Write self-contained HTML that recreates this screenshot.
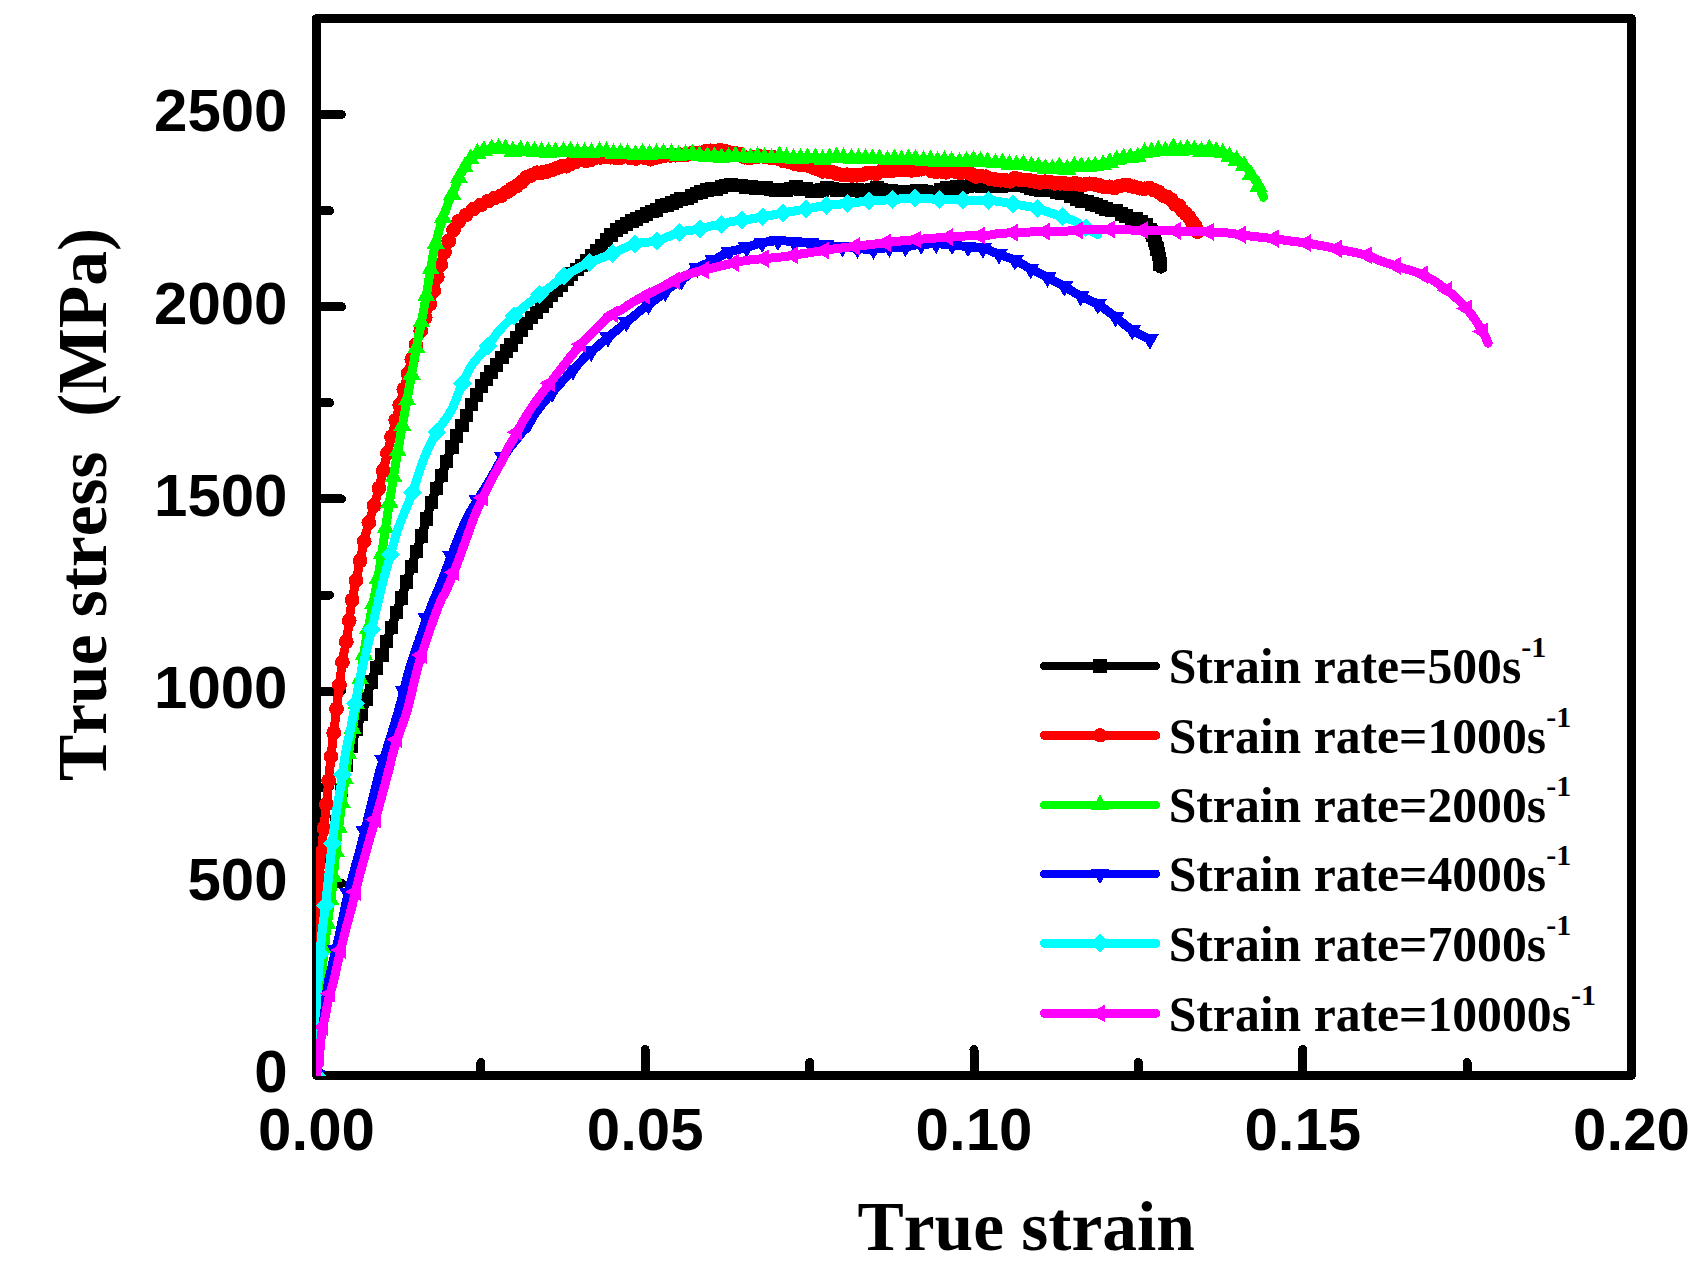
<!DOCTYPE html>
<html lang="en"><head><meta charset="utf-8"><title>True stress - true strain curves</title>
<style>html,body{margin:0;padding:0;background:#fff}body{width:1703px;height:1276px}svg{display:block}text{font-kerning:none;white-space:pre}.tk{font-family:"Liberation Sans",sans-serif;font-weight:700;font-size:60px;fill:#000}.ax{font-family:"Liberation Serif",serif;font-weight:700;font-size:69.4px;fill:#000}.lg{font-family:"Liberation Serif",serif;font-weight:700;font-size:49.7px;fill:#000}.sup{font-size:30px}</style></head><body>
<svg width="1703" height="1276" viewBox="0 0 1703 1276">
<rect width="1703" height="1276" fill="#fff"/>
<defs><clipPath id="plot"><rect x="316" y="18.5" width="1315.5" height="1057.5"/></clipPath></defs>
<g stroke="#000" stroke-width="9" fill="none" stroke-linecap="round" stroke-linejoin="round" shape-rendering="crispEdges">
<rect x="316.5" y="18.5" width="1315" height="1057"/>
<path d="M316.5 1075.5H341.5M316.5 883.3H341.5M316.5 691.1H341.5M316.5 498.9H341.5M316.5 306.7H341.5M316.5 114.5H341.5M316.5 979.4H329.5M316.5 787.2H329.5M316.5 595H329.5M316.5 402.8H329.5M316.5 210.6H329.5M645.2 1075.5V1049.5M974 1075.5V1049.5M1302.8 1075.5V1049.5M480.9 1075.5V1062.5M809.6 1075.5V1062.5M1138.4 1075.5V1062.5M1467.1 1075.5V1062.5"/>
</g>
<g class="tk" text-anchor="end">
<text x="287.5" y="1092.4">0</text>
<text x="287.5" y="900.2">500</text>
<text x="287.5" y="708">1000</text>
<text x="287.5" y="515.8">1500</text>
<text x="287.5" y="323.6">2000</text>
<text x="287.5" y="131.4">2500</text>
</g>
<g class="tk" text-anchor="middle">
<text x="316.5" y="1150.3">0.00</text>
<text x="645.2" y="1150.3">0.05</text>
<text x="974" y="1150.3">0.10</text>
<text x="1302.8" y="1150.3">0.15</text>
<text x="1631.5" y="1150.3">0.20</text>
</g>
<text class="ax" x="857.5" y="1250.2" xml:space="preserve">True strain</text>
<text class="ax" transform="translate(106 781) rotate(-90)" xml:space="preserve">True stress  (MPa)</text>
<g clip-path="url(#plot)" shape-rendering="crispEdges">
<polyline points="316.5,1075.5 316.5,1074.5 316.6,1073.5 316.6,1072.5 316.7,1071.5 316.7,1070.5 316.8,1069.5 316.8,1068.5 316.9,1067.5 316.9,1066.5 317,1065.5 317,1064.5 317.1,1063.5 317.1,1062.5 317.2,1061.5 317.2,1060.5 317.3,1059.5 317.3,1058.5 317.4,1057.5 317.4,1056.5 317.5,1055.5 317.5,1054.5 317.6,1053.5 317.6,1052.5 317.7,1051.5 317.7,1050.5 317.8,1049.5 317.8,1048.5 317.9,1047.5 317.9,1046.5 318,1045.5 318,1044.5 318.1,1043.5 318.1,1042.5 318.2,1041.5 318.2,1040.5 318.3,1039.5 318.4,1038.5 318.4,1037.5 318.5,1036.5 318.5,1035.5 318.6,1034.5 318.6,1033.5 318.7,1032.5 318.7,1031.5 318.8,1030.5 318.8,1029.5 318.9,1028.5 318.9,1027.5 319,1026.5 319.1,1025.6 319.1,1024.6 319.2,1023.6 319.2,1022.6 319.3,1021.6 319.3,1020.6 319.4,1019.6 319.4,1018.6 319.5,1017.6 319.6,1016.6 319.6,1015.6 319.7,1014.6 319.7,1013.6 319.8,1012.6 319.8,1011.6 319.9,1010.6 319.9,1009.6 320,1008.6 320.1,1007.6 320.1,1006.6 320.2,1005.6 320.2,1004.6 320.3,1003.6 320.4,1002.6 320.4,1001.6 320.5,1000.6 320.5,999.6 320.6,998.6 320.6,997.6 320.7,996.6 320.8,995.6 320.8,994.6 320.9,993.6 320.9,992.6 321,991.6 321,990.6 321.1,989.6 321.2,988.6 321.2,987.6 321.3,986.6 321.3,985.6 321.4,984.6 321.5,983.6 321.5,982.6 321.6,981.6 321.6,980.6 321.7,979.6 321.7,978.6 321.8,977.6 321.9,976.6 321.9,975.6 322,974.6 322,973.6 322.1,972.6 322.2,971.6 322.2,970.6 322.3,969.6 322.3,968.6 322.4,967.6 322.5,966.6 322.5,965.6 322.6,964.6 322.7,963.6 322.7,962.6 322.8,961.6 322.8,960.6 322.9,959.6 323,958.6 323,957.6 323.1,956.6 323.2,955.7 323.2,954.7 323.3,953.7 323.4,952.7 323.4,951.7 323.5,950.7 323.6,949.7 323.6,948.7 323.7,947.7 323.8,946.7 323.8,945.7 323.9,944.7 324,943.7 324.1,942.7 324.1,941.7 324.2,940.7 324.3,939.7 324.3,938.7 324.4,937.7 324.5,936.7 324.6,935.7 324.6,934.7 324.7,933.7 324.8,932.7 324.9,931.7 324.9,930.7 325,929.7 325.1,928.7 325.2,927.7 325.3,926.7 325.4,925.7 325.4,924.7 325.5,923.7 325.6,922.7 325.7,921.7 325.8,920.7 325.9,919.7 326,918.7 326.1,917.8 326.2,916.8 326.3,915.8 326.4,914.8 326.4,913.8 326.5,912.8 326.6,911.8 326.7,910.8 326.8,909.8 326.9,908.8 327,907.8 327.1,906.8 327.2,905.8 327.3,904.8 327.5,903.8 327.6,902.8 327.7,901.8 327.8,900.8 327.9,899.8 328,898.8 328.1,897.8 328.2,896.9 328.3,895.9 328.4,894.9 328.5,893.9 328.6,892.9 328.7,891.9 328.8,890.9 328.9,889.9 329,888.9 329.1,887.9 329.2,886.9 329.3,885.9 329.4,884.9 329.5,883.9 329.6,882.9 329.7,881.9 329.8,880.9 329.9,879.9 330,878.9 330.1,877.9 330.2,876.9 330.3,876 330.4,875 330.5,874 330.6,873 330.7,872 330.8,871 330.9,870 331,869 331.1,868 331.2,867 331.3,866 331.4,865 331.5,864 331.6,863 331.7,862 331.8,861 331.9,860 332,859 332.1,858 332.2,857 332.3,856.1 332.4,855.1 332.6,854.1 332.7,853.1 332.8,852.1 332.9,851.1 333,850.1 333.1,849.1 333.2,848.1 333.3,847.1 333.4,846.1 333.6,845.1 333.7,844.1 333.8,843.1 333.9,842.1 334,841.1 334.1,840.1 334.2,839.2 334.4,838.2 334.5,837.2 334.6,836.2 334.7,835.2 334.8,834.2 334.9,833.2 335.1,832.2 335.2,831.2 335.3,830.2 335.4,829.2 335.5,828.2 335.7,827.2 335.8,826.2 335.9,825.2 336,824.3 336.2,823.3 336.3,822.3 336.4,821.3 336.6,820.3 336.7,819.3 336.8,818.3 337,817.3 337.1,816.3 337.2,815.3 337.4,814.3 337.5,813.4 337.7,812.4 337.8,811.4 337.9,810.4 338.1,809.4 338.2,808.4 338.4,807.4 338.5,806.4 338.7,805.4 338.8,804.4 339,803.5 339.2,802.5 339.3,801.5 339.5,800.5 339.7,799.5 339.8,798.5 340,797.5 340.2,796.6 340.3,795.6 340.5,794.6 340.7,793.6 340.9,792.6 341.1,791.6 341.2,790.6 341.4,789.7 341.6,788.7 341.8,787.7 342,786.7 342.2,785.7 342.3,784.8 342.5,783.8 342.7,782.8 342.9,781.8 343.1,780.8 343.3,779.8 343.5,778.9 343.7,777.9 343.9,776.9 344.1,775.9 344.3,774.9 344.5,774 344.7,773 344.9,772 345.1,771 345.3,770 345.6,769.1 345.8,768.1 346,767.1 346.2,766.1 346.4,765.2 346.6,764.2 346.9,763.2 347.1,762.2 347.3,761.3 347.6,760.3 347.8,759.3 348,758.4 348.3,757.4 348.5,756.4 348.8,755.4 349,754.5 349.3,753.5 349.5,752.5 349.8,751.6 350,750.6 350.3,749.6 350.6,748.7 350.9,747.7 351.1,746.8 351.4,745.8 351.7,744.8 352,743.9 352.3,742.9 352.6,742 352.9,741 353.2,740.1 353.5,739.1 353.8,738.2 354.1,737.2 354.4,736.3 354.7,735.3 355.1,734.4 355.4,733.4 355.7,732.5 356,731.5 356.3,730.6 356.6,729.6 356.9,728.6 357.2,727.7 357.5,726.7 357.8,725.8 358.1,724.8 358.4,723.9 358.7,722.9 359,722 359.4,721 359.7,720.1 360,719.1 360.3,718.2 360.6,717.2 360.9,716.3 361.3,715.3 361.6,714.4 361.9,713.4 362.2,712.5 362.5,711.5 362.8,710.6 363.1,709.6 363.4,708.7 363.8,707.7 364.1,706.8 364.4,705.8 364.7,704.9 365,703.9 365.3,703 365.5,702 365.8,701.1 366.1,700.1 366.4,699.1 366.7,698.2 367,697.2 367.2,696.2 367.5,695.3 367.8,694.3 368,693.4 368.3,692.4 368.6,691.4 368.9,690.5 369.1,689.5 369.4,688.5 369.7,687.6 369.9,686.6 370.2,685.7 370.5,684.7 370.8,683.7 371.1,682.8 371.4,681.8 371.7,680.9 372,679.9 372.3,679 372.6,678 372.9,677.1 373.2,676.1 373.5,675.2 373.9,674.2 374.2,673.3 374.5,672.3 374.9,671.4 375.3,670.5 375.6,669.5 376,668.6 376.4,667.7 376.7,666.8 377.1,665.8 377.5,664.9 377.9,664 378.3,663.1 378.6,662.1 379,661.2 379.4,660.3 379.8,659.4 380.2,658.4 380.5,657.5 380.9,656.6 381.3,655.7 381.7,654.7 382,653.8 382.4,652.9 382.8,651.9 383.1,651 383.5,650.1 383.8,649.1 384.1,648.2 384.5,647.2 384.8,646.3 385.2,645.4 385.5,644.4 385.8,643.5 386.2,642.5 386.5,641.6 386.8,640.6 387.2,639.7 387.5,638.8 387.8,637.8 388.2,636.9 388.5,635.9 388.8,635 389.1,634 389.5,633.1 389.8,632.1 390.1,631.2 390.4,630.2 390.8,629.3 391.1,628.4 391.4,627.4 391.7,626.5 392.1,625.5 392.4,624.6 392.7,623.6 393,622.7 393.4,621.7 393.7,620.8 394,619.8 394.3,618.9 394.7,617.9 395,617 395.3,616 395.6,615.1 396,614.2 396.3,613.2 396.6,612.3 396.9,611.3 397.2,610.4 397.6,609.4 397.9,608.5 398.2,607.5 398.5,606.6 398.8,605.6 399.1,604.7 399.5,603.7 399.8,602.8 400.1,601.8 400.4,600.9 400.7,599.9 401,599 401.3,598 401.7,597.1 402,596.1 402.3,595.2 402.6,594.2 402.9,593.3 403.2,592.3 403.5,591.4 403.8,590.4 404.1,589.5 404.5,588.5 404.8,587.6 405.1,586.6 405.4,585.7 405.7,584.7 406,583.8 406.3,582.8 406.6,581.8 406.9,580.9 407.2,579.9 407.5,579 407.8,578 408.1,577.1 408.4,576.1 408.7,575.2 409,574.2 409.3,573.3 409.6,572.3 409.9,571.4 410.2,570.4 410.5,569.4 410.8,568.5 411.1,567.5 411.4,566.6 411.7,565.6 412,564.7 412.3,563.7 412.6,562.8 412.9,561.8 413.2,560.9 413.5,559.9 413.9,559 414.2,558 414.5,557.1 414.8,556.1 415.1,555.2 415.4,554.2 415.7,553.3 416.1,552.3 416.4,551.4 416.7,550.4 417,549.5 417.3,548.5 417.6,547.6 418,546.6 418.3,545.7 418.6,544.7 418.9,543.8 419.2,542.8 419.5,541.9 419.9,540.9 420.2,540 420.5,539 420.8,538.1 421.1,537.1 421.4,536.2 421.7,535.2 422,534.3 422.3,533.3 422.6,532.4 422.9,531.4 423.2,530.5 423.5,529.5 423.8,528.5 424.1,527.6 424.4,526.6 424.7,525.7 424.9,524.7 425.2,523.7 425.5,522.8 425.8,521.8 426.1,520.9 426.3,519.9 426.6,518.9 426.9,518 427.2,517 427.4,516.1 427.7,515.1 428,514.1 428.3,513.2 428.5,512.2 428.8,511.3 429.1,510.3 429.4,509.3 429.6,508.4 429.9,507.4 430.2,506.5 430.5,505.5 430.8,504.5 431.1,503.6 431.4,502.6 431.7,501.7 432,500.7 432.3,499.8 432.6,498.8 432.9,497.9 433.3,496.9 433.6,496 433.9,495 434.3,494.1 434.6,493.2 435,492.2 435.3,491.3 435.7,490.3 436,489.4 436.4,488.5 436.7,487.5 437.1,486.6 437.5,485.7 437.8,484.8 438.2,483.8 438.6,482.9 438.9,482 439.3,481 439.7,480.1 440.1,479.2 440.4,478.2 440.8,477.3 441.2,476.4 441.5,475.4 441.9,474.5 442.2,473.6 442.6,472.6 442.9,471.7 443.3,470.8 443.6,469.8 444,468.9 444.3,467.9 444.6,467 445,466.1 445.3,465.1 445.6,464.2 446,463.2 446.3,462.3 446.6,461.3 446.9,460.4 447.3,459.4 447.6,458.5 447.9,457.6 448.2,456.6 448.6,455.7 448.9,454.7 449.2,453.8 449.6,452.8 449.9,451.9 450.3,451 450.6,450 451,449.1 451.3,448.1 451.7,447.2 452,446.3 452.4,445.4 452.8,444.4 453.2,443.5 453.6,442.6 453.9,441.7 454.3,440.7 454.8,439.8 455.2,438.9 455.6,438 456,437.1 456.4,436.2 456.9,435.3 457.3,434.4 457.7,433.5 458.2,432.6 458.6,431.7 459,430.8 459.5,429.9 459.9,429 460.4,428.1 460.8,427.2 461.2,426.3 461.7,425.4 462.1,424.5 462.5,423.6 463,422.7 463.4,421.8 463.8,420.9 464.2,420 464.6,419.1 465.1,418.2 465.5,417.2 465.9,416.3 466.3,415.4 466.7,414.5 467.2,413.6 467.6,412.7 468,411.8 468.4,410.9 468.8,410 469.3,409.1 469.7,408.2 470.1,407.3 470.6,406.4 471,405.5 471.4,404.6 471.9,403.7 472.3,402.8 472.8,401.9 473.3,401 473.7,400.1 474.2,399.2 474.7,398.3 475.1,397.5 475.6,396.6 476.1,395.7 476.5,394.8 477,393.9 477.5,393.1 478,392.2 478.5,391.3 479,390.5 479.5,389.6 480,388.7 480.5,387.9 481,387 481.5,386.2 482.1,385.3 482.6,384.5 483.1,383.6 483.7,382.8 484.2,381.9 484.8,381.1 485.3,380.3 485.9,379.5 486.5,378.7 487.1,377.8 487.7,377 488.3,376.2 488.9,375.4 489.5,374.6 490.1,373.8 490.7,373 491.2,372.2 491.8,371.4 492.4,370.6 493,369.8 493.6,369 494.2,368.2 494.8,367.3 495.3,366.5 495.9,365.7 496.5,364.9 497.1,364.1 497.7,363.3 498.3,362.5 498.9,361.7 499.4,360.8 500,360 500.6,359.2 501.2,358.4 501.8,357.6 502.4,356.8 503,356 503.6,355.2 504.1,354.4 504.7,353.6 505.3,352.8 505.9,352 506.6,351.2 507.2,350.4 507.8,349.6 508.4,348.8 509,348 509.6,347.2 510.2,346.4 510.8,345.6 511.3,344.8 511.9,344 512.5,343.1 513.1,342.3 513.7,341.5 514.2,340.7 514.8,339.8 515.3,339 515.9,338.2 516.4,337.3 516.9,336.5 517.5,335.6 518,334.8 518.6,334 519.1,333.1 519.6,332.3 520.2,331.4 520.8,330.6 521.3,329.8 521.9,329 522.5,328.2 523.1,327.4 523.7,326.6 524.3,325.8 525,325 525.6,324.2 526.2,323.5 526.9,322.7 527.6,322 528.2,321.2 528.9,320.5 529.5,319.7 530.2,319 530.9,318.2 531.6,317.5 532.2,316.7 532.9,316 533.6,315.3 534.2,314.5 534.9,313.8 535.6,313.1 536.3,312.4 537,311.6 537.7,310.9 538.4,310.2 539.1,309.5 539.8,308.7 540.5,308 541.1,307.3 541.8,306.5 542.5,305.8 543.1,305 543.8,304.3 544.4,303.5 545,302.7 545.7,301.9 546.3,301.2 546.9,300.4 547.5,299.6 548.2,298.8 548.8,298 549.4,297.2 550,296.5 550.7,295.7 551.3,295 552,294.2 552.7,293.5 553.4,292.8 554.1,292 554.8,291.3 555.5,290.6 556.2,289.9 556.9,289.2 557.7,288.5 558.4,287.9 559.1,287.2 559.8,286.5 560.5,285.8 561.2,285.1 562,284.4 562.6,283.6 563.3,282.9 564,282.2 564.7,281.4 565.3,280.7 566,279.9 566.7,279.2 567.3,278.4 568,277.7 568.7,276.9 569.3,276.2 570,275.5 570.7,274.8 571.4,274 572.2,273.4 572.9,272.7 573.6,272 574.4,271.4 575.2,270.7 575.9,270.1 576.7,269.4 577.5,268.8 578.3,268.2 579,267.6 579.8,266.9 580.6,266.3 581.3,265.6 582.1,264.9 582.8,264.3 583.5,263.6 584.2,262.9 584.9,262.1 585.6,261.4 586.3,260.7 587,260 587.7,259.3 588.4,258.6 589.1,257.9 589.8,257.2 590.6,256.5 591.3,255.8 592,255.1 592.8,254.4 593.5,253.7 594.2,253.1 595,252.4 595.7,251.7 596.4,251 597.2,250.3 597.9,249.6 598.6,248.9 599.3,248.2 600,247.5 600.6,246.7 601.3,246 601.9,245.2 602.6,244.5 603.3,243.7 604,243 604.6,242.3 605.3,241.5 605.9,240.8 606.6,240 607.2,239.2 607.9,238.5 608.6,237.7 609.2,237 609.9,236.2 610.5,235.5 611.2,234.7 611.9,234 612.6,233.3 613.3,232.6 614.1,231.9 614.8,231.3 615.6,230.7 616.4,230 617.2,229.4 618,228.9 618.8,228.3 619.7,227.8 620.5,227.2 621.4,226.7 622.2,226.2 623.1,225.7 624,225.2 624.8,224.7 625.7,224.2 626.6,223.7 627.5,223.3 628.4,222.8 629.3,222.4 630.2,221.9 631,221.4 631.9,221 632.8,220.5 633.7,220.1 634.6,219.7 635.5,219.2 636.4,218.8 637.4,218.4 638.3,218 639.2,217.6 640.1,217.2 641,216.8 641.9,216.4 642.9,216.1 643.8,215.7 644.7,215.3 645.6,215 646.5,214.6 647.4,214.1 648.3,213.7 649.3,213.2 650.2,212.8 651,212.3 651.9,211.8 652.8,211.3 653.7,210.9 654.6,210.4 655.4,210 656.3,209.6 657.1,209.2 658,208.8 658.9,208.3 659.7,207.8 660.6,207.3 661.5,206.8 662.4,206.4 663.3,206 664.2,205.7 665.1,205.5 666,205.3 666.9,205.2 667.9,205 668.8,204.7 669.8,204.4 670.7,204 671.7,203.5 672.6,202.9 673.6,202.3 674.5,201.6 675.5,201.1 676.4,200.6 677.4,200.2 678.4,200 679.3,199.8 680.3,199.7 681.2,199.6 682.2,199.4 683.1,199.3 684.1,199.1 685,198.9 686,198.6 686.9,198.3 687.9,198 688.8,197.6 689.7,197.2 690.7,196.8 691.6,196.4 692.6,195.8 693.5,195.2 694.4,194.5 695.4,193.9 696.3,193.3 697.3,192.9 698.2,192.6 699.2,192.4 700.1,192.3 701.1,192.2 702,192.1 703,191.9 704,191.7 704.9,191.4 705.9,191 706.8,190.6 707.8,190.3 708.7,190 709.7,189.7 710.7,189.5 711.6,189.3 712.6,189 713.6,188.8 714.5,188.6 715.5,188.4 716.5,188.3 717.5,188.2 718.4,188.1 719.4,187.9 720.4,187.6 721.3,187.4 722.3,187.1 723.3,186.8 724.2,186.6 725.2,186.4 726.2,186.2 727.2,186 728.2,185.9 729.2,185.6 730.2,185.3 731.2,184.9 732.2,184.6 733.2,184.4 734.2,184.2 735.2,184.1 736.2,184.2 737.2,184.4 738.2,184.7 739.2,185 740.1,185.4 741.1,185.7 742.1,186 743.1,186.2 744.1,186.4 745.1,186.6 746.1,186.8 747.1,186.9 748.1,187 749.1,187 750.1,187 751.1,186.9 752.1,186.9 753.1,186.9 754.1,186.9 755.1,186.9 756.1,187 757.1,187.1 758.1,187.2 759.1,187.4 760.1,187.5 761.1,187.6 762.1,187.7 763.1,187.7 764.1,187.7 765.1,187.7 766,187.8 767,187.9 768,188.2 769,188.5 770,188.8 771,189.2 772,189.5 773,189.8 774,189.9 775,190 776,190 777,190 778,189.9 779,189.9 780,189.9 781,189.9 782,190 783,190.1 784,190.1 785,190.1 786,190 787,189.9 788,189.7 789,189.5 790,189.3 791,189 792,188.8 793,188.6 794,188.5 795,188.4 796,188.4 797,188.4 798,188.5 799,188.6 800,188.6 801,188.6 802,188.5 803,188.4 804,188.4 805,188.3 806,188.4 807,188.6 808,188.9 809,189.3 810,189.7 811,190 812,190.3 813,190.6 814,190.7 815,190.8 816,190.8 817,190.9 818,190.8 819,190.8 820,190.7 821,190.4 822,190.1 823,189.7 824,189.2 825,188.8 826,188.4 827,188.2 828,188.1 829,188.2 829.9,188.3 830.9,188.6 831.9,189 832.9,189.4 833.9,189.8 834.9,190.2 835.9,190.4 836.9,190.6 837.9,190.7 838.9,190.7 839.9,190.7 840.9,190.6 841.9,190.4 842.9,190.3 843.9,190.2 844.8,190.2 845.8,190.3 846.8,190.4 847.8,190.5 848.8,190.5 849.8,190.6 850.8,190.6 851.8,190.5 852.8,190.4 853.8,190.3 854.8,190.1 855.8,190 856.8,189.9 857.8,189.9 858.8,190 859.8,190.1 860.8,190.3 861.8,190.4 862.7,190.6 863.7,190.7 864.7,190.7 865.7,190.6 866.7,190.5 867.7,190.3 868.7,190 869.7,189.7 870.7,189.3 871.7,188.9 872.7,188.6 873.7,188.3 874.7,188.1 875.7,188 876.7,188 877.7,188.2 878.7,188.4 879.6,188.8 880.6,189.1 881.6,189.5 882.6,189.9 883.6,190.1 884.6,190.3 885.6,190.5 886.6,190.6 887.6,190.6 888.5,190.5 889.5,190.5 890.5,190.4 891.5,190.4 892.5,190.3 893.5,190.4 894.5,190.4 895.5,190.5 896.5,190.7 897.5,190.8 898.5,190.9 899.5,191 900.5,191 901.5,191 902.5,190.9 903.5,190.9 904.5,190.9 905.5,191.1 906.5,191.3 907.5,191.5 908.5,191.8 909.5,192 910.5,192 911.5,191.9 912.5,191.7 913.5,191.5 914.5,191.2 915.5,190.9 916.5,190.7 917.5,190.6 918.5,190.5 919.5,190.6 920.5,190.7 921.5,190.9 922.5,191.1 923.5,191.3 924.5,191.5 925.5,191.7 926.5,191.9 927.5,192.1 928.5,192.4 929.5,192.7 930.5,192.9 931.5,193.1 932.5,193.2 933.5,193.1 934.5,193 935.5,192.8 936.4,192.5 937.4,192.2 938.3,191.9 939.3,191.5 940.2,191.1 941.1,190.7 942.1,190.2 943,189.6 943.9,189.1 944.9,188.6 945.8,188.3 946.8,188 947.7,187.8 948.7,187.7 949.7,187.8 950.7,188 951.7,188.1 952.7,188 953.7,187.9 954.7,187.6 955.7,187.3 956.7,186.9 957.7,186.7 958.7,186.4 959.7,186.3 960.7,186.1 961.7,186.1 962.7,186.1 963.7,186.1 964.7,186.1 965.7,186.1 966.7,186 967.7,186 968.7,185.8 969.7,185.7 970.7,185.6 971.7,185.5 972.7,185.4 973.7,185.4 974.7,185.4 975.7,185.4 976.7,185.3 977.6,185.3 978.6,185.3 979.6,185.3 980.6,185.3 981.6,185.4 982.6,185.5 983.6,185.6 984.6,185.7 985.6,185.8 986.6,185.9 987.6,186 988.6,185.9 989.6,185.9 990.6,185.8 991.6,185.7 992.6,185.7 993.6,185.6 994.6,185.6 995.6,185.5 996.6,185.5 997.6,185.5 998.6,185.5 999.6,185.5 1000.6,185.5 1001.6,185.6 1002.6,185.7 1003.6,185.8 1004.6,185.9 1005.6,186 1006.6,186 1007.6,185.9 1008.6,185.8 1009.6,185.6 1010.6,185.4 1011.6,185.1 1012.6,184.9 1013.6,184.7 1014.6,184.7 1015.6,184.7 1016.6,184.8 1017.6,184.9 1018.6,185.1 1019.6,185.2 1020.6,185.2 1021.6,185.3 1022.5,185.3 1023.5,185.3 1024.4,185.4 1025.3,185.7 1026.3,186 1027.2,186.4 1028.2,186.9 1029.1,187.4 1030.1,187.9 1031.1,188.3 1032.1,188.5 1033.1,188.6 1034,188.7 1035,188.8 1036,188.9 1037,189 1038,189.2 1039,189.5 1040,189.8 1041,190.2 1042,190.5 1043,190.8 1044,191 1045,191 1046,190.9 1047,190.7 1048,190.5 1048.9,190.5 1049.9,190.5 1050.9,190.7 1051.9,190.9 1052.9,191.2 1053.8,191.5 1054.8,191.8 1055.8,191.9 1056.8,192 1057.7,192.1 1058.7,192.2 1059.7,192.2 1060.6,192.3 1061.6,192.5 1062.5,192.7 1063.5,193 1064.5,193.3 1065.4,193.7 1066.4,194.1 1067.3,194.5 1068.3,194.9 1069.2,195.3 1070.2,195.8 1071.1,196.3 1072,196.7 1073,197.1 1073.9,197.6 1074.8,198 1075.8,198.5 1076.7,199 1077.6,199.5 1078.5,199.9 1079.5,200.3 1080.4,200.6 1081.3,200.9 1082.2,201.1 1083.2,201.3 1084.1,201.5 1085,201.8 1086,202.1 1086.9,202.4 1087.9,202.8 1088.8,203.2 1089.8,203.6 1090.8,204 1091.7,204.3 1092.7,204.6 1093.6,204.8 1094.6,205 1095.6,205.2 1096.5,205.4 1097.5,205.6 1098.5,205.9 1099.4,206.2 1100.4,206.6 1101.3,207 1102.3,207.4 1103.3,207.8 1104.2,208.2 1105.2,208.6 1106.1,209 1107.1,209.3 1108.1,209.5 1109,209.6 1110,209.6 1110.9,209.6 1111.9,209.7 1112.8,209.7 1113.8,209.9 1114.7,210.1 1115.7,210.5 1116.6,210.9 1117.5,211.3 1118.5,211.8 1119.4,212.3 1120.4,212.9 1121.3,213.3 1122.3,213.8 1123.2,214.2 1124.2,214.7 1125.1,215.1 1126.1,215.5 1127,215.9 1128,216.2 1128.9,216.6 1129.9,216.9 1130.9,217.2 1131.8,217.6 1132.8,217.9 1133.7,218.2 1134.7,218.6 1135.6,218.9 1136.5,219.2 1137.5,219.5 1138.4,219.9 1139.3,220.4 1140.2,220.8 1141.2,221.3 1142.1,221.8 1143,222.3 1143.9,222.9 1144.8,223.4 1145.6,224 1146.4,224.7 1147.1,225.4 1147.8,226.1 1148.4,226.9 1148.9,227.7 1149.4,228.4 1149.9,229 1150.3,229.7 1150.7,230.3 1151.2,230.9 1151.5,231.7 1151.9,232.5 1152.3,233.3 1152.7,234.2 1153.1,235.1 1153.4,236.2 1153.8,237.2 1154.1,238.3 1154.4,239.4 1154.7,240.4 1155,241.5 1155.3,242.5 1155.6,243.6 1155.8,244.7 1156.1,245.7 1156.4,246.8 1156.6,247.7 1156.9,248.5 1157.1,249.3 1157.4,250.1 1157.6,250.8 1157.8,251.5 1158.1,252.2 1158.3,253 1158.5,253.9 1158.7,254.8 1158.9,255.8 1159.1,256.9 1159.3,258 1159.4,259.1 1159.6,260.3 1159.8,261.4 1160,262.6 1160.1,263.7 1160.3,264.8 1160.5,265.9 1160.6,266.9" fill="none" stroke="#000000" stroke-width="9" stroke-linejoin="round" stroke-linecap="round"/>
<path d="M309.7 1068.7h13.6v13.6h-13.6zM314.7 975.8h13.6v13.6h-13.6zM319.7 906h13.6v13.6h-13.6zM324.7 857.2h13.6v13.6h-13.6zM329.6 814.5h13.6v13.6h-13.6zM334.6 782.9h13.6v13.6h-13.6zM339.6 758.4h13.6v13.6h-13.6zM344.6 739h13.6v13.6h-13.6zM349.8 722.8h13.6v13.6h-13.6zM354.8 707.6h13.6v13.6h-13.6zM359.6 692.3h13.6v13.6h-13.6zM364.6 675h13.6v13.6h-13.6zM369.6 660.9h13.6v13.6h-13.6zM374.9 647.9h13.6v13.6h-13.6zM379.7 634.8h13.6v13.6h-13.6zM384.6 620.6h13.6v13.6h-13.6zM389.8 605.5h13.6v13.6h-13.6zM394.5 591.2h13.6v13.6h-13.6zM399.8 575h13.6v13.6h-13.6zM404.6 559.8h13.6v13.6h-13.6zM409.6 544.6h13.6v13.6h-13.6zM414.6 529.4h13.6v13.6h-13.6zM419.8 512.1h13.6v13.6h-13.6zM424.6 495.8h13.6v13.6h-13.6zM429.6 481.7h13.6v13.6h-13.6zM434.7 468.6h13.6v13.6h-13.6zM439.8 454.5h13.6v13.6h-13.6zM444.9 440.4h13.6v13.6h-13.6zM449.6 429.4h13.6v13.6h-13.6zM454.9 418.6h13.6v13.6h-13.6zM459.5 408.6h13.6v13.6h-13.6zM464.6 397.8h13.6v13.6h-13.6zM469.7 388h13.6v13.6h-13.6zM474.7 379.4h13.6v13.6h-13.6zM479.7 371.9h13.6v13.6h-13.6zM484.4 365.4h13.6v13.6h-13.6zM489.7 358.1h13.6v13.6h-13.6zM495 350.8h13.6v13.6h-13.6zM499.8 344.4h13.6v13.6h-13.6zM504.5 338h13.6v13.6h-13.6zM509.6 330.5h13.6v13.6h-13.6zM514.5 323h13.6v13.6h-13.6zM519.4 316.7h13.6v13.6h-13.6zM524.8 310.7h13.6v13.6h-13.6zM529.5 305.6h13.6v13.6h-13.6zM535 299.7h13.6v13.6h-13.6zM539.5 294.4h13.6v13.6h-13.6zM544.5 288.2h13.6v13.6h-13.6zM549.4 283.1h13.6v13.6h-13.6zM554.4 278.3h13.6v13.6h-13.6zM559.9 272.4h13.6v13.6h-13.6zM564.6 267.2h13.6v13.6h-13.6zM569.9 262.6h13.6v13.6h-13.6zM574.5 258.8h13.6v13.6h-13.6zM579.5 253.9h13.6v13.6h-13.6zM584.5 249h13.6v13.6h-13.6zM589.6 244.2h13.6v13.6h-13.6zM594.5 239.2h13.6v13.6h-13.6zM599.8 233.2h13.6v13.6h-13.6zM604.4 227.9h13.6v13.6h-13.6zM609.6 223.2h13.6v13.6h-13.6zM614.6 219.9h13.6v13.6h-13.6zM619.8 216.9h13.6v13.6h-13.6zM625.1 214.2h13.6v13.6h-13.6zM629.6 212h13.6v13.6h-13.6zM635.1 209.7h13.6v13.6h-13.6zM639.7 207h13.6v13.6h-13.6zM645.1 204.7h13.6v13.6h-13.6zM649.5 202.9h13.6v13.6h-13.6zM654.7 199.4h13.6v13.6h-13.6zM660.1 198.1h13.6v13.6h-13.6zM664.9 196.2h13.6v13.6h-13.6zM669.6 194h13.6v13.6h-13.6zM674.4 192.4h13.6v13.6h-13.6zM680.1 191.6h13.6v13.6h-13.6zM684.8 189.2h13.6v13.6h-13.6zM689.5 186.8h13.6v13.6h-13.6zM694.3 185h13.6v13.6h-13.6zM700 183.3h13.6v13.6h-13.6zM704.8 182.3h13.6v13.6h-13.6zM709.7 182.5h13.6v13.6h-13.6zM714.5 180.4h13.6v13.6h-13.6zM719.4 178.7h13.6v13.6h-13.6zM724.4 177.6h13.6v13.6h-13.6zM729.4 178.7h13.6v13.6h-13.6zM734.3 178.8h13.6v13.6h-13.6zM739.3 180h13.6v13.6h-13.6zM744.3 180.3h13.6v13.6h-13.6zM749.3 181h13.6v13.6h-13.6zM754.3 181.2h13.6v13.6h-13.6zM759.2 181.3h13.6v13.6h-13.6zM764.2 182.5h13.6v13.6h-13.6zM769.2 183h13.6v13.6h-13.6zM774.2 183.2h13.6v13.6h-13.6zM779.2 183h13.6v13.6h-13.6zM784.2 181.5h13.6v13.6h-13.6zM789.2 180.3h13.6v13.6h-13.6zM794.2 182.4h13.6v13.6h-13.6zM799.2 182.1h13.6v13.6h-13.6zM805.2 183.9h13.6v13.6h-13.6zM810.2 184.3h13.6v13.6h-13.6zM815.2 183.4h13.6v13.6h-13.6zM820.2 180.9h13.6v13.6h-13.6zM825.1 181.6h13.6v13.6h-13.6zM830.1 183.4h13.6v13.6h-13.6zM835.1 183.3h13.6v13.6h-13.6zM840 183.2h13.6v13.6h-13.6zM845 183h13.6v13.6h-13.6zM850 183.4h13.6v13.6h-13.6zM855 183.9h13.6v13.6h-13.6zM859.9 184.5h13.6v13.6h-13.6zM864.9 183h13.6v13.6h-13.6zM869.9 180.9h13.6v13.6h-13.6zM874.8 183h13.6v13.6h-13.6zM879.8 183.7h13.6v13.6h-13.6zM884.7 183.7h13.6v13.6h-13.6zM889.7 184.9h13.6v13.6h-13.6zM894.7 185h13.6v13.6h-13.6zM899.7 184.7h13.6v13.6h-13.6zM904.7 185.7h13.6v13.6h-13.6zM909.7 184.3h13.6v13.6h-13.6zM914.7 184h13.6v13.6h-13.6zM919.7 185h13.6v13.6h-13.6zM924.7 185.9h13.6v13.6h-13.6zM929.6 186.4h13.6v13.6h-13.6zM934.3 183.4h13.6v13.6h-13.6zM940 181h13.6v13.6h-13.6zM944.9 181.2h13.6v13.6h-13.6zM949.9 179.7h13.6v13.6h-13.6zM954.9 180h13.6v13.6h-13.6zM959.9 179.5h13.6v13.6h-13.6zM964.9 177.6h13.6v13.6h-13.6zM969.9 178h13.6v13.6h-13.6zM974.8 179h13.6v13.6h-13.6zM979.8 178.9h13.6v13.6h-13.6zM984.8 179h13.6v13.6h-13.6zM989.8 178.8h13.6v13.6h-13.6zM994.8 178.9h13.6v13.6h-13.6zM999.8 178.8h13.6v13.6h-13.6zM1004.8 178.3h13.6v13.6h-13.6zM1009.8 178h13.6v13.6h-13.6zM1014.8 178h13.6v13.6h-13.6zM1019.5 179.4h13.6v13.6h-13.6zM1024.3 181.5h13.6v13.6h-13.6zM1029.2 182.2h13.6v13.6h-13.6zM1034.2 183.7h13.6v13.6h-13.6zM1040.2 183.8h13.6v13.6h-13.6zM1045.1 183.6h13.6v13.6h-13.6zM1050 185.7h13.6v13.6h-13.6zM1054.8 185.9h13.6v13.6h-13.6zM1059.6 186.7h13.6v13.6h-13.6zM1064.3 188.9h13.6v13.6h-13.6zM1069.9 192.4h13.6v13.6h-13.6zM1074.5 194.4h13.6v13.6h-13.6zM1080.1 194.8h13.6v13.6h-13.6zM1084.9 197.3h13.6v13.6h-13.6zM1089.7 198.3h13.6v13.6h-13.6zM1094.5 200.1h13.6v13.6h-13.6zM1099.3 202.4h13.6v13.6h-13.6zM1105.1 203.8h13.6v13.6h-13.6zM1109.8 203.7h13.6v13.6h-13.6zM1114.5 207.3h13.6v13.6h-13.6zM1119.3 209.2h13.6v13.6h-13.6zM1125 211.9h13.6v13.6h-13.6zM1129.7 212.4h13.6v13.6h-13.6zM1134.4 214.6h13.6v13.6h-13.6zM1139.6 218.4h13.6v13.6h-13.6zM1144.7 225.1h13.6v13.6h-13.6zM1149.6 240.9h13.6v13.6h-13.6zM1143.1 222.5h13.6v13.6h-13.6zM1145.9 228h13.6v13.6h-13.6zM1147.6 232.9h13.6v13.6h-13.6zM1148.8 236.5h13.6v13.6h-13.6zM1150.1 242.2h13.6v13.6h-13.6zM1151.7 246.9h13.6v13.6h-13.6zM1152.6 252.4h13.6v13.6h-13.6zM1153.3 256.9h13.6v13.6h-13.6zM1153.8 266.9a6.8 6.8 0 1 1 13.6 0a6.8 6.8 0 1 1 -13.6 0z" fill="#000000"/>
<polyline points="306,1075.5 306,1074.5 306,1073.5 306,1072.5 306,1071.5 306,1070.5 306,1069.5 306,1068.5 306,1067.5 306,1066.5 306,1065.5 306.1,1064.5 306.1,1063.5 306.1,1062.5 306.1,1061.5 306.1,1060.5 306.1,1059.5 306.1,1058.5 306.2,1057.5 306.2,1056.5 306.2,1055.5 306.2,1054.5 306.2,1053.5 306.3,1052.5 306.3,1051.5 306.3,1050.5 306.3,1049.5 306.3,1048.5 306.4,1047.5 306.4,1046.5 306.4,1045.5 306.5,1044.5 306.5,1043.5 306.5,1042.5 306.5,1041.5 306.6,1040.5 306.6,1039.5 306.6,1038.5 306.7,1037.5 306.7,1036.5 306.7,1035.5 306.8,1034.5 306.8,1033.5 306.8,1032.5 306.9,1031.5 306.9,1030.5 307,1029.5 307,1028.5 307,1027.5 307.1,1026.5 307.1,1025.5 307.2,1024.5 307.2,1023.5 307.3,1022.5 307.3,1021.5 307.3,1020.5 307.4,1019.5 307.4,1018.5 307.5,1017.5 307.5,1016.5 307.6,1015.5 307.6,1014.5 307.7,1013.5 307.7,1012.5 307.8,1011.5 307.8,1010.5 307.9,1009.5 307.9,1008.5 308,1007.5 308,1006.5 308.1,1005.5 308.2,1004.5 308.2,1003.5 308.3,1002.5 308.3,1001.5 308.4,1000.5 308.4,999.5 308.5,998.5 308.6,997.5 308.6,996.5 308.7,995.5 308.7,994.5 308.8,993.5 308.9,992.5 308.9,991.5 309,990.5 309,989.5 309.1,988.6 309.2,987.6 309.2,986.6 309.3,985.6 309.4,984.6 309.4,983.6 309.5,982.6 309.6,981.6 309.6,980.6 309.7,979.6 309.8,978.6 309.8,977.6 309.9,976.6 310,975.6 310,974.6 310.1,973.6 310.2,972.6 310.2,971.6 310.3,970.6 310.4,969.6 310.4,968.6 310.5,967.6 310.6,966.6 310.6,965.6 310.7,964.6 310.8,963.6 310.9,962.6 310.9,961.6 311,960.6 311.1,959.6 311.2,958.6 311.2,957.6 311.3,956.6 311.4,955.6 311.4,954.6 311.5,953.6 311.6,952.6 311.7,951.6 311.7,950.6 311.8,949.6 311.9,948.6 312,947.6 312,946.6 312.1,945.6 312.2,944.6 312.3,943.7 312.3,942.7 312.4,941.7 312.5,940.7 312.6,939.7 312.7,938.7 312.8,937.7 312.9,936.7 313,935.7 313.1,934.7 313.2,933.7 313.3,932.7 313.5,931.7 313.6,930.7 313.7,929.7 313.8,928.7 314,927.7 314.1,926.8 314.2,925.8 314.4,924.8 314.5,923.8 314.6,922.8 314.8,921.8 314.9,920.8 315,919.8 315.1,918.8 315.2,917.8 315.3,916.8 315.4,915.8 315.6,914.8 315.7,913.8 315.8,912.8 315.9,911.9 316,910.9 316.1,909.9 316.2,908.9 316.3,907.9 316.4,906.9 316.5,905.9 316.6,904.9 316.7,903.9 316.8,902.9 316.9,901.9 317,900.9 317.1,899.9 317.2,898.9 317.3,897.9 317.4,896.9 317.5,895.9 317.6,894.9 317.7,893.9 317.8,892.9 317.9,892 318,891 318.1,890 318.2,889 318.3,888 318.4,887 318.5,886 318.6,885 318.7,884 318.8,883 318.9,882 318.9,881 319,880 319.1,879 319.2,878 319.3,877 319.4,876 319.5,875 319.6,874 319.7,873 319.7,872 319.8,871 319.9,870 320,869 320.1,868 320.1,867 320.2,866 320.3,865.1 320.4,864.1 320.5,863.1 320.5,862.1 320.6,861.1 320.7,860.1 320.8,859.1 320.9,858.1 320.9,857.1 321,856.1 321.1,855.1 321.2,854.1 321.3,853.1 321.4,852.1 321.5,851.1 321.6,850.1 321.7,849.1 321.8,848.1 321.9,847.1 322,846.1 322.1,845.1 322.2,844.1 322.3,843.1 322.4,842.1 322.5,841.1 322.6,840.2 322.7,839.2 322.8,838.2 322.9,837.2 323,836.2 323.1,835.2 323.2,834.2 323.4,833.2 323.5,832.2 323.6,831.2 323.7,830.2 323.8,829.2 323.9,828.2 324,827.2 324.1,826.2 324.2,825.2 324.3,824.2 324.4,823.2 324.5,822.3 324.6,821.3 324.7,820.3 324.8,819.3 324.9,818.3 325.1,817.3 325.2,816.3 325.3,815.3 325.4,814.3 325.5,813.3 325.6,812.3 325.7,811.3 325.8,810.3 325.9,809.3 326,808.3 326.1,807.3 326.2,806.3 326.3,805.3 326.4,804.3 326.5,803.4 326.6,802.4 326.7,801.4 326.8,800.4 326.9,799.4 327,798.4 327.1,797.4 327.2,796.4 327.3,795.4 327.4,794.4 327.5,793.4 327.6,792.4 327.7,791.4 327.8,790.4 327.9,789.4 328,788.4 328.1,787.4 328.2,786.4 328.3,785.4 328.4,784.4 328.4,783.4 328.5,782.4 328.6,781.5 328.7,780.5 328.8,779.5 328.9,778.5 329,777.5 329.1,776.5 329.2,775.5 329.3,774.5 329.4,773.5 329.5,772.5 329.6,771.5 329.7,770.5 329.8,769.5 329.9,768.5 329.9,767.5 330,766.5 330.1,765.5 330.2,764.5 330.3,763.5 330.4,762.5 330.5,761.5 330.6,760.5 330.7,759.5 330.8,758.5 330.9,757.6 331,756.6 331.1,755.6 331.2,754.6 331.3,753.6 331.4,752.6 331.5,751.6 331.6,750.6 331.7,749.6 331.8,748.6 332,747.6 332.1,746.6 332.2,745.6 332.3,744.6 332.4,743.6 332.5,742.6 332.7,741.6 332.8,740.7 332.9,739.7 333,738.7 333.1,737.7 333.3,736.7 333.4,735.7 333.5,734.7 333.6,733.7 333.7,732.7 333.8,731.7 334,730.7 334.1,729.7 334.2,728.7 334.3,727.7 334.4,726.7 334.6,725.8 334.7,724.8 334.8,723.8 334.9,722.8 335,721.8 335.1,720.8 335.2,719.8 335.4,718.8 335.5,717.8 335.6,716.8 335.7,715.8 335.8,714.8 335.9,713.8 336.1,712.8 336.2,711.8 336.3,710.9 336.4,709.9 336.5,708.9 336.6,707.9 336.8,706.9 336.9,705.9 337,704.9 337.1,703.9 337.2,702.9 337.4,701.9 337.5,700.9 337.6,699.9 337.7,698.9 337.8,697.9 337.9,696.9 338.1,696 338.2,695 338.3,694 338.4,693 338.5,692 338.7,691 338.8,690 338.9,689 339,688 339.1,687 339.3,686 339.4,685 339.5,684 339.6,683 339.7,682.1 339.9,681.1 340,680.1 340.1,679.1 340.3,678.1 340.4,677.1 340.5,676.1 340.6,675.1 340.8,674.1 340.9,673.1 341,672.1 341.1,671.1 341.3,670.1 341.4,669.2 341.5,668.2 341.7,667.2 341.8,666.2 341.9,665.2 342.1,664.2 342.2,663.2 342.4,662.2 342.5,661.2 342.7,660.2 342.8,659.3 343,658.3 343.1,657.3 343.3,656.3 343.5,655.3 343.6,654.3 343.8,653.3 344,652.4 344.2,651.4 344.5,650.4 344.7,649.4 344.9,648.5 345.1,647.5 345.3,646.5 345.5,645.5 345.7,644.5 346,643.6 346.2,642.6 346.3,641.6 346.5,640.6 346.7,639.6 346.9,638.6 347,637.7 347.2,636.7 347.3,635.7 347.5,634.7 347.6,633.7 347.7,632.7 347.9,631.7 348,630.7 348.1,629.7 348.2,628.7 348.4,627.7 348.5,626.8 348.6,625.8 348.7,624.8 348.8,623.8 348.9,622.8 349,621.8 349.2,620.8 349.3,619.8 349.4,618.8 349.5,617.8 349.6,616.8 349.7,615.8 349.9,614.8 350,613.8 350.1,612.9 350.3,611.9 350.4,610.9 350.6,609.9 350.7,608.9 350.9,607.9 351,606.9 351.2,605.9 351.3,604.9 351.5,604 351.7,603 351.8,602 352,601 352.2,600 352.4,599 352.6,598 352.7,597.1 352.9,596.1 353.1,595.1 353.3,594.1 353.5,593.1 353.7,592.2 353.9,591.2 354.1,590.2 354.3,589.2 354.5,588.2 354.7,587.3 354.9,586.3 355.1,585.3 355.3,584.3 355.5,583.3 355.7,582.4 355.9,581.4 356.1,580.4 356.3,579.4 356.5,578.4 356.7,577.5 356.9,576.5 357.1,575.5 357.3,574.5 357.5,573.5 357.8,572.6 358,571.6 358.2,570.6 358.4,569.6 358.6,568.6 358.8,567.7 358.9,566.7 359.1,565.7 359.3,564.7 359.5,563.7 359.7,562.8 359.9,561.8 360.1,560.8 360.3,559.8 360.5,558.8 360.7,557.9 360.9,556.9 361.1,555.9 361.3,554.9 361.5,553.9 361.7,553 361.9,552 362.1,551 362.3,550 362.5,549 362.7,548.1 362.9,547.1 363.1,546.1 363.3,545.1 363.5,544.1 363.7,543.2 363.9,542.2 364.2,541.2 364.4,540.2 364.6,539.3 364.8,538.3 365,537.3 365.3,536.3 365.5,535.4 365.7,534.4 365.9,533.4 366.2,532.4 366.4,531.5 366.7,530.5 366.9,529.5 367.1,528.6 367.4,527.6 367.7,526.6 367.9,525.7 368.2,524.7 368.5,523.7 368.8,522.8 369.1,521.8 369.4,520.9 369.6,519.9 369.9,518.9 370.2,518 370.5,517 370.8,516.1 371.2,515.1 371.5,514.2 371.8,513.2 372.1,512.3 372.4,511.3 372.7,510.4 373,509.4 373.3,508.5 373.6,507.5 373.9,506.6 374.2,505.6 374.5,504.6 374.7,503.7 375,502.7 375.3,501.8 375.6,500.8 375.8,499.8 376.1,498.9 376.4,497.9 376.6,496.9 376.9,496 377.1,495 377.4,494 377.6,493.1 377.9,492.1 378.2,491.1 378.4,490.2 378.6,489.2 378.9,488.2 379.1,487.3 379.4,486.3 379.6,485.3 379.9,484.3 380.1,483.4 380.3,482.4 380.6,481.4 380.8,480.5 381.1,479.5 381.3,478.5 381.5,477.5 381.8,476.6 382,475.6 382.2,474.6 382.5,473.7 382.7,472.7 382.9,471.7 383.2,470.7 383.4,469.8 383.6,468.8 383.9,467.8 384.1,466.8 384.3,465.9 384.6,464.9 384.8,463.9 385,463 385.3,462 385.5,461 385.7,460 386,459.1 386.2,458.1 386.4,457.1 386.7,456.1 386.9,455.2 387.2,454.2 387.4,453.2 387.6,452.3 387.9,451.3 388.1,450.3 388.4,449.4 388.6,448.4 388.9,447.4 389.1,446.4 389.3,445.5 389.6,444.5 389.8,443.5 390.1,442.6 390.3,441.6 390.6,440.6 390.8,439.7 391.1,438.7 391.3,437.7 391.5,436.7 391.8,435.8 392,434.8 392.3,433.8 392.5,432.9 392.8,431.9 393,430.9 393.3,430 393.5,429 393.8,428 394,427.1 394.3,426.1 394.5,425.1 394.8,424.1 395,423.2 395.2,422.2 395.5,421.2 395.7,420.3 396,419.3 396.2,418.3 396.5,417.4 396.7,416.4 397,415.4 397.2,414.5 397.5,413.5 397.7,412.5 398,411.6 398.2,410.6 398.5,409.6 398.7,408.6 399,407.7 399.2,406.7 399.5,405.7 399.7,404.8 400,403.8 400.3,402.8 400.5,401.9 400.8,400.9 401,399.9 401.3,399 401.5,398 401.8,397 402,396.1 402.3,395.1 402.5,394.1 402.8,393.2 403,392.2 403.3,391.2 403.5,390.3 403.8,389.3 404,388.3 404.3,387.4 404.6,386.4 404.8,385.4 405.1,384.5 405.3,383.5 405.6,382.5 405.8,381.5 406.1,380.6 406.3,379.6 406.6,378.6 406.8,377.7 407.1,376.7 407.3,375.7 407.6,374.8 407.9,373.8 408.1,372.8 408.4,371.9 408.6,370.9 408.9,369.9 409.1,369 409.4,368 409.7,367 409.9,366.1 410.2,365.1 410.5,364.2 410.7,363.2 411,362.2 411.3,361.3 411.5,360.3 411.8,359.3 412.1,358.4 412.3,357.4 412.6,356.5 412.9,355.5 413.2,354.5 413.5,353.6 413.7,352.6 414,351.6 414.3,350.7 414.6,349.7 414.9,348.8 415.2,347.8 415.5,346.9 415.7,345.9 416,344.9 416.3,344 416.6,343 417,342.1 417.3,341.1 417.6,340.2 417.9,339.2 418.2,338.3 418.5,337.3 418.8,336.4 419.1,335.4 419.5,334.5 419.8,333.5 420.1,332.6 420.4,331.6 420.7,330.7 421.1,329.7 421.4,328.8 421.7,327.9 422,326.9 422.4,326 422.7,325 423,324.1 423.3,323.1 423.7,322.2 424,321.2 424.3,320.3 424.6,319.3 425,318.4 425.3,317.5 425.6,316.5 425.9,315.6 426.3,314.6 426.6,313.7 426.9,312.7 427.2,311.8 427.5,310.8 427.8,309.9 428.2,308.9 428.5,308 428.8,307 429.1,306.1 429.4,305.1 429.7,304.2 430,303.2 430.3,302.3 430.6,301.3 430.9,300.3 431.2,299.4 431.5,298.4 431.8,297.5 432,296.5 432.3,295.6 432.6,294.6 432.9,293.6 433.2,292.7 433.4,291.7 433.7,290.7 434,289.8 434.2,288.8 434.5,287.8 434.7,286.9 435,285.9 435.3,285 435.5,284 435.8,283 436,282.1 436.3,281.1 436.6,280.1 436.8,279.2 437.1,278.2 437.3,277.2 437.6,276.3 437.8,275.3 438.1,274.3 438.4,273.4 438.6,272.4 438.9,271.4 439.1,270.5 439.4,269.5 439.7,268.5 439.9,267.6 440.2,266.6 440.5,265.6 440.7,264.7 441,263.7 441.3,262.7 441.6,261.8 441.9,260.8 442.1,259.9 442.4,258.9 442.7,258 443,257 443.3,256 443.6,255.1 443.9,254.1 444.2,253.2 444.5,252.2 444.9,251.3 445.2,250.3 445.5,249.4 445.8,248.5 446.2,247.5 446.5,246.6 446.9,245.7 447.3,244.7 447.7,243.8 448,242.9 448.4,241.9 448.8,241 449.2,240.1 449.6,239.2 450,238.3 450.4,237.3 450.7,236.4 451.1,235.5 451.5,234.6 451.9,233.6 452.3,232.7 452.7,231.8 453.1,230.9 453.5,230 453.9,229.1 454.4,228.2 454.8,227.3 455.3,226.4 455.8,225.5 456.3,224.7 456.9,223.8 457.4,223 458,222.2 458.6,221.4 459.2,220.6 459.9,219.8 460.6,219.1 461.3,218.5 462.1,217.8 462.9,217.2 463.7,216.6 464.5,216 465.3,215.5 466.1,214.9 466.9,214.3 467.7,213.7 468.5,213.1 469.3,212.5 470.1,211.9 470.9,211.3 471.8,210.7 472.6,210.2 473.4,209.6 474.2,209 475,208.4 475.8,207.8 476.7,207.2 477.5,206.7 478.3,206.1 479.2,205.5 480,205 480.9,204.5 481.8,204 482.6,203.6 483.5,203.1 484.4,202.7 485.3,202.3 486.2,201.9 487.2,201.5 488.1,201.2 489,200.7 489.9,200.3 490.9,199.8 491.8,199.2 492.7,198.7 493.7,198.2 494.6,197.7 495.5,197.3 496.4,196.9 497.3,196.6 498.2,196.2 499.1,195.8 500,195.5 500.9,195.1 501.8,194.6 502.6,194.2 503.5,193.7 504.3,193.3 505.1,192.9 506,192.4 506.8,191.8 507.6,191.1 508.4,190.5 509.3,189.9 510.1,189.2 510.9,188.5 511.7,187.9 512.5,187.4 513.4,186.9 514.2,186.5 515,186.2 515.9,185.9 516.7,185.5 517.6,185.1 518.4,184.5 519.2,183.8 520.1,183 520.9,182.1 521.7,181.2 522.6,180.4 523.4,179.7 524.3,179.1 525.1,178.6 526,178.2 526.8,177.8 527.7,177.4 528.6,177.1 529.4,176.7 530.3,176.3 531.2,175.9 532.2,175.4 533.1,175.1 534,174.7 535,174.3 535.9,173.9 536.9,173.6 537.8,173.3 538.8,173 539.7,172.7 540.7,172.5 541.6,172.3 542.6,172.2 543.6,172.1 544.5,172 545.5,171.9 546.5,171.8 547.4,171.5 548.4,171.2 549.3,170.8 550.3,170.3 551.2,169.9 552.1,169.4 553.1,169 554,168.7 555,168.4 555.9,168.2 556.9,167.9 557.8,167.6 558.7,167.3 559.7,166.9 560.6,166.6 561.6,166.3 562.5,166 563.5,165.8 564.4,165.5 565.4,165.2 566.3,164.9 567.3,164.6 568.2,164.3 569.2,164 570.2,163.6 571.1,163.2 572.1,162.9 573.1,162.6 574,162.3 575,162 576,161.8 577,161.5 577.9,161.2 578.9,161 579.9,160.8 580.9,160.6 581.8,160.5 582.8,160.3 583.8,160.2 584.8,160.2 585.8,160.1 586.7,160.1 587.7,159.9 588.7,159.7 589.7,159.5 590.6,159.3 591.6,159 592.6,158.8 593.6,158.5 594.6,158.3 595.6,158.2 596.6,158 597.6,157.9 598.6,157.8 599.6,157.6 600.6,157.4 601.6,157.2 602.6,156.9 603.6,156.8 604.6,156.7 605.6,156.8 606.6,157.1 607.6,157.4 608.6,157.7 609.6,158 610.6,158.1 611.6,158.2 612.6,158.2 613.6,158 614.6,157.9 615.6,157.7 616.6,157.6 617.6,157.4 618.6,157.2 619.6,157 620.6,156.7 621.6,156.5 622.6,156.4 623.6,156.3 624.6,156.3 625.6,156.5 626.6,156.7 627.6,156.9 628.6,157.2 629.6,157.4 630.6,157.6 631.6,157.8 632.6,157.8 633.6,157.7 634.6,157.6 635.6,157.4 636.6,157.2 637.6,157 638.6,156.8 639.6,156.7 640.6,156.7 641.6,156.8 642.6,157 643.6,157.4 644.6,157.8 645.6,158.2 646.6,158.6 647.6,158.9 648.6,159.1 649.6,159.2 650.6,159.1 651.6,158.9 652.6,158.6 653.6,158.3 654.6,157.8 655.6,157.3 656.6,156.8 657.6,156.4 658.6,156.2 659.6,156.1 660.6,156.2 661.6,156.3 662.6,156.4 663.6,156.5 664.5,156.5 665.5,156.4 666.5,156.2 667.5,156.1 668.5,156 669.5,155.9 670.5,155.9 671.5,155.8 672.5,155.7 673.5,155.5 674.5,155.3 675.5,155.2 676.5,155.2 677.5,155.1 678.5,155.1 679.5,155.1 680.5,155.1 681.5,155 682.5,154.8 683.5,154.6 684.5,154.4 685.5,154.3 686.5,154.2 687.5,154.1 688.4,154.1 689.4,154 690.4,153.8 691.4,153.7 692.4,153.5 693.4,153.4 694.4,153.3 695.4,153.3 696.4,153.4 697.4,153.5 698.4,153.5 699.4,153.5 700.4,153.3 701.4,153 702.4,152.6 703.3,152.2 704.3,151.7 705.3,151.4 706.3,151.2 707.3,151.2 708.3,151.3 709.3,151.3 710.2,151.4 711.2,151.4 712.2,151.4 713.2,151.3 714.2,151.1 715.2,150.9 716.2,150.8 717.2,150.7 718.2,150.6 719.2,150.6 720.2,150.5 721.2,150.5 722.2,150.5 723.2,150.6 724.2,150.8 725.2,151 726.1,151.2 727.1,151.5 728.1,151.8 729.1,152.1 730.1,152.5 731,152.8 732,153 733,153.2 734,153.3 734.9,153.4 735.9,153.4 736.9,153.5 737.8,153.6 738.8,153.9 739.7,154.4 740.6,155 741.6,155.7 742.5,156.4 743.4,157 744.3,157.5 745.3,157.8 746.3,158 747.2,157.9 748.2,157.7 749.2,157.3 750.2,156.9 751.2,156.5 752.2,156.1 753.2,156 754.2,155.9 755.2,156 756.2,156.1 757.2,156.2 758.2,156.3 759.2,156.4 760.2,156.3 761.2,156.2 762.2,156.1 763.2,156.2 764.2,156.3 765.2,156.4 766.2,156.6 767.2,156.9 768.2,157.1 769.2,157.2 770.2,157.3 771.2,157.4 772.1,157.5 773.1,157.7 774.1,157.9 775,158.2 776,158.5 777,158.8 777.9,159 778.9,159.3 779.9,159.6 780.8,159.9 781.8,160.4 782.8,160.9 783.8,161.3 784.7,161.8 785.7,162.1 786.7,162.4 787.7,162.7 788.7,163 789.7,163.2 790.7,163.3 791.7,163.5 792.6,163.7 793.6,163.9 794.6,164 795.6,164 796.6,164.1 797.6,164.1 798.5,164.1 799.5,164.1 800.5,164.2 801.5,164.3 802.4,164.4 803.4,164.6 804.4,164.7 805.3,164.9 806.3,165.1 807.2,165.4 808.2,165.7 809.1,166.1 810.1,166.4 811,166.8 812,167.2 812.9,167.7 813.9,168 814.8,168.3 815.8,168.5 816.8,168.7 817.7,168.8 818.7,168.9 819.7,169.1 820.6,169.3 821.6,169.7 822.6,170.2 823.6,170.7 824.5,171.1 825.5,171.5 826.5,171.8 827.5,172 828.4,172.1 829.4,172.2 830.4,172.3 831.3,172.5 832.3,172.7 833.2,173 834.2,173.3 835.1,173.5 836,173.8 836.9,174 837.9,174.2 838.8,174.4 839.8,174.5 840.8,174.5 841.8,174.6 842.8,174.7 843.8,174.8 844.8,175 845.8,175.1 846.8,175.3 847.8,175.4 848.8,175.4 849.8,175.3 850.8,175.3 851.8,175.2 852.8,175.1 853.8,175.2 854.8,175.3 855.8,175.5 856.8,175.7 857.8,175.8 858.8,175.7 859.8,175.5 860.7,175.2 861.7,174.8 862.7,174.4 863.7,174.1 864.7,173.8 865.7,173.7 866.6,173.6 867.6,173.5 868.6,173.5 869.5,173.5 870.5,173.5 871.5,173.5 872.5,173.5 873.4,173.4 874.4,173.4 875.4,173.3 876.4,173.2 877.4,173 878.4,172.8 879.4,172.5 880.4,172.2 881.4,171.9 882.4,171.5 883.3,171.3 884.3,171.1 885.3,171 886.3,171 887.3,171.1 888.3,171.1 889.3,171 890.3,170.9 891.3,170.6 892.3,170.3 893.3,169.9 894.3,169.7 895.3,169.5 896.3,169.4 897.3,169.4 898.3,169.4 899.3,169.6 900.3,169.8 901.3,170 902.3,170.2 903.3,170.4 904.3,170.5 905.3,170.6 906.3,170.6 907.3,170.6 908.3,170.5 909.3,170.4 910.3,170.2 911.3,169.9 912.3,169.7 913.3,169.6 914.3,169.6 915.3,169.7 916.3,169.8 917.3,169.9 918.3,170 919.3,169.9 920.3,169.7 921.3,169.4 922.3,169 923.3,168.7 924.3,168.5 925.3,168.5 926.3,168.6 927.3,168.9 928.3,169.3 929.3,169.6 930.3,169.9 931.3,170.2 932.2,170.4 933.2,170.5 934.2,170.6 935.2,170.7 936.2,170.7 937.2,170.7 938.2,170.7 939.2,170.7 940.2,170.8 941.2,171 942.1,171.2 943.1,171.4 944.1,171.5 945.1,171.5 946.1,171.5 947.1,171.3 948.1,171 949.1,170.8 950.1,170.5 951.1,170.4 952.1,170.4 953.1,170.6 954.1,171 955.1,171.4 956.1,172 957.1,172.5 958.1,172.9 959.1,173.2 960.1,173.4 961,173.5 962,173.5 963,173.4 964,173.2 965,173 966,172.8 967,172.6 968,172.7 969,172.9 969.9,173.4 970.9,174.1 971.9,174.9 972.9,175.8 973.8,176.5 974.8,176.9 975.8,177.1 976.7,177 977.7,176.8 978.7,176.6 979.6,176.5 980.6,176.4 981.6,176.5 982.6,176.6 983.6,176.7 984.6,176.9 985.6,177.1 986.5,177.4 987.5,177.7 988.5,178.1 989.5,178.6 990.5,179 991.5,179.4 992.5,179.6 993.5,179.7 994.5,179.7 995.5,179.7 996.5,179.7 997.5,179.8 998.5,179.9 999.4,180 1000.4,180.2 1001.4,180.3 1002.4,180.5 1003.3,180.6 1004.3,180.8 1005.3,181 1006.2,181.3 1007.2,181.4 1008.2,181.5 1009.2,181.3 1010.2,181.1 1011.1,180.8 1012,180.4 1012.9,179.9 1013.9,179.6 1014.9,179.3 1015.9,179.2 1016.9,179.2 1017.9,179.3 1018.9,179.4 1019.8,179.5 1020.8,179.6 1021.8,179.7 1022.8,179.7 1023.8,179.7 1024.8,179.8 1025.8,180 1026.7,180.4 1027.7,180.8 1028.7,181.3 1029.7,181.8 1030.7,182 1031.7,182.1 1032.7,182 1033.6,181.8 1034.6,181.6 1035.6,181.5 1036.6,181.4 1037.6,181.5 1038.6,181.7 1039.6,181.8 1040.6,181.9 1041.6,181.8 1042.6,181.7 1043.6,181.5 1044.6,181.4 1045.6,181.4 1046.6,181.6 1047.6,181.8 1048.6,182.1 1049.6,182.5 1050.6,182.7 1051.6,183 1052.6,183.3 1053.6,183.6 1054.6,183.8 1055.6,183.8 1056.6,183.7 1057.6,183.6 1058.6,183.4 1059.6,183.1 1060.6,183 1061.6,182.9 1062.6,183 1063.6,183.2 1064.6,183.4 1065.6,183.6 1066.6,183.7 1067.6,183.6 1068.6,183.5 1069.6,183.4 1070.6,183.2 1071.6,183.1 1072.6,183.1 1073.6,183.1 1074.6,183.2 1075.6,183.3 1076.6,183.4 1077.6,183.5 1078.6,183.7 1079.6,183.9 1080.6,184.1 1081.6,184.2 1082.6,184.3 1083.6,184.3 1084.5,184.3 1085.5,184.3 1086.5,184.2 1087.5,184.2 1088.5,184.2 1089.5,184.3 1090.5,184.5 1091.5,184.7 1092.5,184.8 1093.5,184.9 1094.5,185 1095.5,185.1 1096.5,185.3 1097.5,185.4 1098.5,185.6 1099.4,185.8 1100.4,186 1101.4,186.3 1102.4,186.5 1103.4,186.7 1104.4,186.8 1105.4,186.9 1106.4,187 1107.4,187.1 1108.4,187.2 1109.4,187.3 1110.4,187.4 1111.4,187.5 1112.4,187.5 1113.4,187.6 1114.4,187.6 1115.4,187.5 1116.4,187.4 1117.4,187.3 1118.4,187.1 1119.4,186.8 1120.4,186.4 1121.4,186 1122.4,185.7 1123.4,185.4 1124.4,185.3 1125.4,185.3 1126.4,185.5 1127.4,185.7 1128.4,186 1129.4,186.2 1130.4,186.3 1131.4,186.4 1132.4,186.4 1133.4,186.5 1134.4,186.6 1135.4,186.7 1136.4,187 1137.4,187.3 1138.4,187.7 1139.3,188.2 1140.3,188.5 1141.3,188.8 1142.3,189 1143.3,189 1144.3,188.9 1145.2,188.7 1146.2,188.6 1147.2,188.5 1148.2,188.5 1149.2,188.6 1150.1,188.9 1151.1,189.3 1152.1,189.8 1153.1,190.2 1154,190.6 1155,190.9 1155.9,191.2 1156.8,191.5 1157.8,191.9 1158.7,192.3 1159.6,192.7 1160.5,193.2 1161.3,193.8 1162.2,194.4 1163,195 1163.8,195.5 1164.7,196.1 1165.5,196.6 1166.3,197 1167.2,197.4 1168,197.8 1168.8,198.1 1169.7,198.4 1170.5,198.8 1171.4,199.4 1172.2,200.2 1173,201.2 1173.8,202.1 1174.6,203.1 1175.3,203.9 1176.1,204.5 1176.8,205 1177.6,205.3 1178.3,205.8 1179,206.3 1179.7,207 1180.3,207.9 1181,208.8 1181.7,209.9 1182.4,210.9 1183.1,211.9 1183.8,212.7 1184.4,213.5 1185.1,214.3 1185.8,215 1186.5,215.7 1187.2,216.2 1187.9,216.6 1188.5,217 1189.2,217.5 1189.8,218.1 1190.4,218.9 1191,219.8 1191.6,220.7 1192.2,221.7 1192.7,222.6 1193.2,223.6 1193.8,224.4 1194.3,225.1 1194.8,225.7 1195.3,226.4 1195.7,227.2 1196.2,228.1 1196.7,229.1 1197.1,230.1 1197.5,231.2" fill="none" stroke="#ff0000" stroke-width="9" stroke-linejoin="round" stroke-linecap="round"/>
<path d="M298.6 1067.5a7.4 7.4 0 1 1 14.8 0a7.4 7.4 0 1 1 -14.8 0zM299.1 1043.5a7.4 7.4 0 1 1 14.8 0a7.4 7.4 0 1 1 -14.8 0zM300 1019.5a7.4 7.4 0 1 1 14.8 0a7.4 7.4 0 1 1 -14.8 0zM301.3 995.5a7.4 7.4 0 1 1 14.8 0a7.4 7.4 0 1 1 -14.8 0zM302.8 971.6a7.4 7.4 0 1 1 14.8 0a7.4 7.4 0 1 1 -14.8 0zM304.6 947.6a7.4 7.4 0 1 1 14.8 0a7.4 7.4 0 1 1 -14.8 0zM307.1 923.8a7.4 7.4 0 1 1 14.8 0a7.4 7.4 0 1 1 -14.8 0zM309.7 899.9a7.4 7.4 0 1 1 14.8 0a7.4 7.4 0 1 1 -14.8 0zM312 876a7.4 7.4 0 1 1 14.8 0a7.4 7.4 0 1 1 -14.8 0zM314 852.1a7.4 7.4 0 1 1 14.8 0a7.4 7.4 0 1 1 -14.8 0zM316.5 828.2a7.4 7.4 0 1 1 14.8 0a7.4 7.4 0 1 1 -14.8 0zM319 804.3a7.4 7.4 0 1 1 14.8 0a7.4 7.4 0 1 1 -14.8 0zM321.3 780.5a7.4 7.4 0 1 1 14.8 0a7.4 7.4 0 1 1 -14.8 0zM323.6 756.6a7.4 7.4 0 1 1 14.8 0a7.4 7.4 0 1 1 -14.8 0zM326.3 732.7a7.4 7.4 0 1 1 14.8 0a7.4 7.4 0 1 1 -14.8 0zM329.1 708.9a7.4 7.4 0 1 1 14.8 0a7.4 7.4 0 1 1 -14.8 0zM332 685a7.4 7.4 0 1 1 14.8 0a7.4 7.4 0 1 1 -14.8 0zM335 662.2a7.4 7.4 0 1 1 14.8 0a7.4 7.4 0 1 1 -14.8 0zM338.9 641.6a7.4 7.4 0 1 1 14.8 0a7.4 7.4 0 1 1 -14.8 0zM341.8 620.8a7.4 7.4 0 1 1 14.8 0a7.4 7.4 0 1 1 -14.8 0zM344.8 600a7.4 7.4 0 1 1 14.8 0a7.4 7.4 0 1 1 -14.8 0zM348.7 580.4a7.4 7.4 0 1 1 14.8 0a7.4 7.4 0 1 1 -14.8 0zM352.7 560.8a7.4 7.4 0 1 1 14.8 0a7.4 7.4 0 1 1 -14.8 0zM356.8 541.2a7.4 7.4 0 1 1 14.8 0a7.4 7.4 0 1 1 -14.8 0zM361.4 522.8a7.4 7.4 0 1 1 14.8 0a7.4 7.4 0 1 1 -14.8 0zM366.8 505.6a7.4 7.4 0 1 1 14.8 0a7.4 7.4 0 1 1 -14.8 0zM371.5 488.2a7.4 7.4 0 1 1 14.8 0a7.4 7.4 0 1 1 -14.8 0zM375.8 470.7a7.4 7.4 0 1 1 14.8 0a7.4 7.4 0 1 1 -14.8 0zM380 453.2a7.4 7.4 0 1 1 14.8 0a7.4 7.4 0 1 1 -14.8 0zM384.1 436.7a7.4 7.4 0 1 1 14.8 0a7.4 7.4 0 1 1 -14.8 0zM388.3 420.3a7.4 7.4 0 1 1 14.8 0a7.4 7.4 0 1 1 -14.8 0zM392.3 404.8a7.4 7.4 0 1 1 14.8 0a7.4 7.4 0 1 1 -14.8 0zM396.4 389.3a7.4 7.4 0 1 1 14.8 0a7.4 7.4 0 1 1 -14.8 0zM400.5 373.8a7.4 7.4 0 1 1 14.8 0a7.4 7.4 0 1 1 -14.8 0zM404.4 359.3a7.4 7.4 0 1 1 14.8 0a7.4 7.4 0 1 1 -14.8 0zM408.6 344.9a7.4 7.4 0 1 1 14.8 0a7.4 7.4 0 1 1 -14.8 0zM413.3 330.7a7.4 7.4 0 1 1 14.8 0a7.4 7.4 0 1 1 -14.8 0zM417.9 317.5a7.4 7.4 0 1 1 14.8 0a7.4 7.4 0 1 1 -14.8 0zM422.3 304.2a7.4 7.4 0 1 1 14.8 0a7.4 7.4 0 1 1 -14.8 0zM426.3 290.7a7.4 7.4 0 1 1 14.8 0a7.4 7.4 0 1 1 -14.8 0zM429.9 277.2a7.4 7.4 0 1 1 14.8 0a7.4 7.4 0 1 1 -14.8 0zM433.3 264.7a7.4 7.4 0 1 1 14.8 0a7.4 7.4 0 1 1 -14.8 0zM437.1 252.2a7.4 7.4 0 1 1 14.8 0a7.4 7.4 0 1 1 -14.8 0zM441.4 241a7.4 7.4 0 1 1 14.8 0a7.4 7.4 0 1 1 -14.8 0zM446.1 230a7.4 7.4 0 1 1 14.8 0a7.4 7.4 0 1 1 -14.8 0zM451.2 221.4a7.4 7.4 0 1 1 14.8 0a7.4 7.4 0 1 1 -14.8 0zM458.7 214.9a7.4 7.4 0 1 1 14.8 0a7.4 7.4 0 1 1 -14.8 0zM466 209.1a7.4 7.4 0 1 1 14.8 0a7.4 7.4 0 1 1 -14.8 0zM473.5 205a7.4 7.4 0 1 1 14.8 0a7.4 7.4 0 1 1 -14.8 0zM480.7 201.1a7.4 7.4 0 1 1 14.8 0a7.4 7.4 0 1 1 -14.8 0zM487.2 198a7.4 7.4 0 1 1 14.8 0a7.4 7.4 0 1 1 -14.8 0zM493.5 195.9a7.4 7.4 0 1 1 14.8 0a7.4 7.4 0 1 1 -14.8 0zM499.4 192.1a7.4 7.4 0 1 1 14.8 0a7.4 7.4 0 1 1 -14.8 0zM504.3 188.7a7.4 7.4 0 1 1 14.8 0a7.4 7.4 0 1 1 -14.8 0zM509.3 186.1a7.4 7.4 0 1 1 14.8 0a7.4 7.4 0 1 1 -14.8 0zM514.3 182.1a7.4 7.4 0 1 1 14.8 0a7.4 7.4 0 1 1 -14.8 0zM519.4 177.2a7.4 7.4 0 1 1 14.8 0a7.4 7.4 0 1 1 -14.8 0zM523.8 175.4a7.4 7.4 0 1 1 14.8 0a7.4 7.4 0 1 1 -14.8 0zM529.5 172.8a7.4 7.4 0 1 1 14.8 0a7.4 7.4 0 1 1 -14.8 0zM534.2 172.6a7.4 7.4 0 1 1 14.8 0a7.4 7.4 0 1 1 -14.8 0zM540 171.4a7.4 7.4 0 1 1 14.8 0a7.4 7.4 0 1 1 -14.8 0zM544.7 170a7.4 7.4 0 1 1 14.8 0a7.4 7.4 0 1 1 -14.8 0zM549.5 168.1a7.4 7.4 0 1 1 14.8 0a7.4 7.4 0 1 1 -14.8 0zM554.2 166.4a7.4 7.4 0 1 1 14.8 0a7.4 7.4 0 1 1 -14.8 0zM558.9 166.2a7.4 7.4 0 1 1 14.8 0a7.4 7.4 0 1 1 -14.8 0zM563.7 163.6a7.4 7.4 0 1 1 14.8 0a7.4 7.4 0 1 1 -14.8 0zM568.6 161.7a7.4 7.4 0 1 1 14.8 0a7.4 7.4 0 1 1 -14.8 0zM573.5 160a7.4 7.4 0 1 1 14.8 0a7.4 7.4 0 1 1 -14.8 0zM578.4 160.8a7.4 7.4 0 1 1 14.8 0a7.4 7.4 0 1 1 -14.8 0zM583.2 159.8a7.4 7.4 0 1 1 14.8 0a7.4 7.4 0 1 1 -14.8 0zM588.2 157.5a7.4 7.4 0 1 1 14.8 0a7.4 7.4 0 1 1 -14.8 0zM593.2 157.3a7.4 7.4 0 1 1 14.8 0a7.4 7.4 0 1 1 -14.8 0zM598.2 157a7.4 7.4 0 1 1 14.8 0a7.4 7.4 0 1 1 -14.8 0zM603.2 157.2a7.4 7.4 0 1 1 14.8 0a7.4 7.4 0 1 1 -14.8 0zM608.2 157.6a7.4 7.4 0 1 1 14.8 0a7.4 7.4 0 1 1 -14.8 0zM613.2 157.6a7.4 7.4 0 1 1 14.8 0a7.4 7.4 0 1 1 -14.8 0zM618.2 155.5a7.4 7.4 0 1 1 14.8 0a7.4 7.4 0 1 1 -14.8 0zM623.2 157.9a7.4 7.4 0 1 1 14.8 0a7.4 7.4 0 1 1 -14.8 0zM628.2 158.5a7.4 7.4 0 1 1 14.8 0a7.4 7.4 0 1 1 -14.8 0zM633.2 156.3a7.4 7.4 0 1 1 14.8 0a7.4 7.4 0 1 1 -14.8 0zM638.2 157.9a7.4 7.4 0 1 1 14.8 0a7.4 7.4 0 1 1 -14.8 0zM643.2 159.2a7.4 7.4 0 1 1 14.8 0a7.4 7.4 0 1 1 -14.8 0zM648.2 157.6a7.4 7.4 0 1 1 14.8 0a7.4 7.4 0 1 1 -14.8 0zM653.2 156.4a7.4 7.4 0 1 1 14.8 0a7.4 7.4 0 1 1 -14.8 0zM658.1 155.4a7.4 7.4 0 1 1 14.8 0a7.4 7.4 0 1 1 -14.8 0zM663.1 155.4a7.4 7.4 0 1 1 14.8 0a7.4 7.4 0 1 1 -14.8 0zM668.1 155.3a7.4 7.4 0 1 1 14.8 0a7.4 7.4 0 1 1 -14.8 0zM673.1 154.9a7.4 7.4 0 1 1 14.8 0a7.4 7.4 0 1 1 -14.8 0zM678.1 154.9a7.4 7.4 0 1 1 14.8 0a7.4 7.4 0 1 1 -14.8 0zM683 153.6a7.4 7.4 0 1 1 14.8 0a7.4 7.4 0 1 1 -14.8 0zM688 153.1a7.4 7.4 0 1 1 14.8 0a7.4 7.4 0 1 1 -14.8 0zM693 154.4a7.4 7.4 0 1 1 14.8 0a7.4 7.4 0 1 1 -14.8 0zM697.9 151.4a7.4 7.4 0 1 1 14.8 0a7.4 7.4 0 1 1 -14.8 0zM702.8 150.8a7.4 7.4 0 1 1 14.8 0a7.4 7.4 0 1 1 -14.8 0zM707.8 150.9a7.4 7.4 0 1 1 14.8 0a7.4 7.4 0 1 1 -14.8 0zM712.8 150.4a7.4 7.4 0 1 1 14.8 0a7.4 7.4 0 1 1 -14.8 0zM717.8 151.4a7.4 7.4 0 1 1 14.8 0a7.4 7.4 0 1 1 -14.8 0zM722.7 152.8a7.4 7.4 0 1 1 14.8 0a7.4 7.4 0 1 1 -14.8 0zM727.5 153.2a7.4 7.4 0 1 1 14.8 0a7.4 7.4 0 1 1 -14.8 0zM732.3 154.2a7.4 7.4 0 1 1 14.8 0a7.4 7.4 0 1 1 -14.8 0zM736.9 157.2a7.4 7.4 0 1 1 14.8 0a7.4 7.4 0 1 1 -14.8 0zM741.8 158.1a7.4 7.4 0 1 1 14.8 0a7.4 7.4 0 1 1 -14.8 0zM746.8 157.1a7.4 7.4 0 1 1 14.8 0a7.4 7.4 0 1 1 -14.8 0zM751.8 156.3a7.4 7.4 0 1 1 14.8 0a7.4 7.4 0 1 1 -14.8 0zM756.8 156.6a7.4 7.4 0 1 1 14.8 0a7.4 7.4 0 1 1 -14.8 0zM761.8 157.4a7.4 7.4 0 1 1 14.8 0a7.4 7.4 0 1 1 -14.8 0zM766.7 157.6a7.4 7.4 0 1 1 14.8 0a7.4 7.4 0 1 1 -14.8 0zM771.5 159a7.4 7.4 0 1 1 14.8 0a7.4 7.4 0 1 1 -14.8 0zM776.4 161.1a7.4 7.4 0 1 1 14.8 0a7.4 7.4 0 1 1 -14.8 0zM781.3 161.8a7.4 7.4 0 1 1 14.8 0a7.4 7.4 0 1 1 -14.8 0zM786.2 163.4a7.4 7.4 0 1 1 14.8 0a7.4 7.4 0 1 1 -14.8 0zM791.1 164.4a7.4 7.4 0 1 1 14.8 0a7.4 7.4 0 1 1 -14.8 0zM796 165.1a7.4 7.4 0 1 1 14.8 0a7.4 7.4 0 1 1 -14.8 0zM800.8 165.6a7.4 7.4 0 1 1 14.8 0a7.4 7.4 0 1 1 -14.8 0zM805.5 167.4a7.4 7.4 0 1 1 14.8 0a7.4 7.4 0 1 1 -14.8 0zM810.3 169.2a7.4 7.4 0 1 1 14.8 0a7.4 7.4 0 1 1 -14.8 0zM815.2 171.4a7.4 7.4 0 1 1 14.8 0a7.4 7.4 0 1 1 -14.8 0zM820.1 171.4a7.4 7.4 0 1 1 14.8 0a7.4 7.4 0 1 1 -14.8 0zM824.9 172.2a7.4 7.4 0 1 1 14.8 0a7.4 7.4 0 1 1 -14.8 0zM829.5 173.7a7.4 7.4 0 1 1 14.8 0a7.4 7.4 0 1 1 -14.8 0zM834.4 174.9a7.4 7.4 0 1 1 14.8 0a7.4 7.4 0 1 1 -14.8 0zM839.4 174.7a7.4 7.4 0 1 1 14.8 0a7.4 7.4 0 1 1 -14.8 0zM844.4 175.5a7.4 7.4 0 1 1 14.8 0a7.4 7.4 0 1 1 -14.8 0zM849.4 175.3a7.4 7.4 0 1 1 14.8 0a7.4 7.4 0 1 1 -14.8 0zM854.3 175.1a7.4 7.4 0 1 1 14.8 0a7.4 7.4 0 1 1 -14.8 0zM859.2 173.4a7.4 7.4 0 1 1 14.8 0a7.4 7.4 0 1 1 -14.8 0zM864.1 173.2a7.4 7.4 0 1 1 14.8 0a7.4 7.4 0 1 1 -14.8 0zM869 173.7a7.4 7.4 0 1 1 14.8 0a7.4 7.4 0 1 1 -14.8 0zM874 171.1a7.4 7.4 0 1 1 14.8 0a7.4 7.4 0 1 1 -14.8 0zM878.9 170.6a7.4 7.4 0 1 1 14.8 0a7.4 7.4 0 1 1 -14.8 0zM883.9 171a7.4 7.4 0 1 1 14.8 0a7.4 7.4 0 1 1 -14.8 0zM888.9 169.8a7.4 7.4 0 1 1 14.8 0a7.4 7.4 0 1 1 -14.8 0zM893.9 170.1a7.4 7.4 0 1 1 14.8 0a7.4 7.4 0 1 1 -14.8 0zM898.9 169.3a7.4 7.4 0 1 1 14.8 0a7.4 7.4 0 1 1 -14.8 0zM903.9 170.4a7.4 7.4 0 1 1 14.8 0a7.4 7.4 0 1 1 -14.8 0zM908.9 170a7.4 7.4 0 1 1 14.8 0a7.4 7.4 0 1 1 -14.8 0zM913.9 169.2a7.4 7.4 0 1 1 14.8 0a7.4 7.4 0 1 1 -14.8 0zM918.9 167.5a7.4 7.4 0 1 1 14.8 0a7.4 7.4 0 1 1 -14.8 0zM923.9 170.7a7.4 7.4 0 1 1 14.8 0a7.4 7.4 0 1 1 -14.8 0zM928.8 171.7a7.4 7.4 0 1 1 14.8 0a7.4 7.4 0 1 1 -14.8 0zM933.8 171.3a7.4 7.4 0 1 1 14.8 0a7.4 7.4 0 1 1 -14.8 0zM938.7 172.3a7.4 7.4 0 1 1 14.8 0a7.4 7.4 0 1 1 -14.8 0zM943.7 170a7.4 7.4 0 1 1 14.8 0a7.4 7.4 0 1 1 -14.8 0zM948.7 172.1a7.4 7.4 0 1 1 14.8 0a7.4 7.4 0 1 1 -14.8 0zM953.6 173.1a7.4 7.4 0 1 1 14.8 0a7.4 7.4 0 1 1 -14.8 0zM958.6 172.1a7.4 7.4 0 1 1 14.8 0a7.4 7.4 0 1 1 -14.8 0zM963.5 173.9a7.4 7.4 0 1 1 14.8 0a7.4 7.4 0 1 1 -14.8 0zM968.4 176.5a7.4 7.4 0 1 1 14.8 0a7.4 7.4 0 1 1 -14.8 0zM973.2 176a7.4 7.4 0 1 1 14.8 0a7.4 7.4 0 1 1 -14.8 0zM978.2 176.7a7.4 7.4 0 1 1 14.8 0a7.4 7.4 0 1 1 -14.8 0zM983.1 178.8a7.4 7.4 0 1 1 14.8 0a7.4 7.4 0 1 1 -14.8 0zM988.1 179.6a7.4 7.4 0 1 1 14.8 0a7.4 7.4 0 1 1 -14.8 0zM993 180.2a7.4 7.4 0 1 1 14.8 0a7.4 7.4 0 1 1 -14.8 0zM997.9 180.3a7.4 7.4 0 1 1 14.8 0a7.4 7.4 0 1 1 -14.8 0zM1002.8 181.3a7.4 7.4 0 1 1 14.8 0a7.4 7.4 0 1 1 -14.8 0zM1007.5 178.2a7.4 7.4 0 1 1 14.8 0a7.4 7.4 0 1 1 -14.8 0zM1012.4 179.5a7.4 7.4 0 1 1 14.8 0a7.4 7.4 0 1 1 -14.8 0zM1017.4 179.9a7.4 7.4 0 1 1 14.8 0a7.4 7.4 0 1 1 -14.8 0zM1022.3 180.4a7.4 7.4 0 1 1 14.8 0a7.4 7.4 0 1 1 -14.8 0zM1027.2 181.4a7.4 7.4 0 1 1 14.8 0a7.4 7.4 0 1 1 -14.8 0zM1032.2 182.5a7.4 7.4 0 1 1 14.8 0a7.4 7.4 0 1 1 -14.8 0zM1037.2 181.7a7.4 7.4 0 1 1 14.8 0a7.4 7.4 0 1 1 -14.8 0zM1042.2 182.2a7.4 7.4 0 1 1 14.8 0a7.4 7.4 0 1 1 -14.8 0zM1047.2 183.4a7.4 7.4 0 1 1 14.8 0a7.4 7.4 0 1 1 -14.8 0zM1052.2 183.3a7.4 7.4 0 1 1 14.8 0a7.4 7.4 0 1 1 -14.8 0zM1057.2 183.5a7.4 7.4 0 1 1 14.8 0a7.4 7.4 0 1 1 -14.8 0zM1062.2 183.9a7.4 7.4 0 1 1 14.8 0a7.4 7.4 0 1 1 -14.8 0zM1067.2 183.3a7.4 7.4 0 1 1 14.8 0a7.4 7.4 0 1 1 -14.8 0zM1072.2 184.5a7.4 7.4 0 1 1 14.8 0a7.4 7.4 0 1 1 -14.8 0zM1077.1 184.6a7.4 7.4 0 1 1 14.8 0a7.4 7.4 0 1 1 -14.8 0zM1082.1 183.9a7.4 7.4 0 1 1 14.8 0a7.4 7.4 0 1 1 -14.8 0zM1087.1 184.4a7.4 7.4 0 1 1 14.8 0a7.4 7.4 0 1 1 -14.8 0zM1092 185.5a7.4 7.4 0 1 1 14.8 0a7.4 7.4 0 1 1 -14.8 0zM1097 187.1a7.4 7.4 0 1 1 14.8 0a7.4 7.4 0 1 1 -14.8 0zM1102 186.8a7.4 7.4 0 1 1 14.8 0a7.4 7.4 0 1 1 -14.8 0zM1107 188.1a7.4 7.4 0 1 1 14.8 0a7.4 7.4 0 1 1 -14.8 0zM1112 185.9a7.4 7.4 0 1 1 14.8 0a7.4 7.4 0 1 1 -14.8 0zM1117 185.1a7.4 7.4 0 1 1 14.8 0a7.4 7.4 0 1 1 -14.8 0zM1122 185.6a7.4 7.4 0 1 1 14.8 0a7.4 7.4 0 1 1 -14.8 0zM1127 186.8a7.4 7.4 0 1 1 14.8 0a7.4 7.4 0 1 1 -14.8 0zM1131.9 188.2a7.4 7.4 0 1 1 14.8 0a7.4 7.4 0 1 1 -14.8 0zM1136.9 188.8a7.4 7.4 0 1 1 14.8 0a7.4 7.4 0 1 1 -14.8 0zM1141.8 187.9a7.4 7.4 0 1 1 14.8 0a7.4 7.4 0 1 1 -14.8 0zM1146.6 190.1a7.4 7.4 0 1 1 14.8 0a7.4 7.4 0 1 1 -14.8 0zM1151.3 191.9a7.4 7.4 0 1 1 14.8 0a7.4 7.4 0 1 1 -14.8 0zM1155.6 195.5a7.4 7.4 0 1 1 14.8 0a7.4 7.4 0 1 1 -14.8 0zM1159.8 197a7.4 7.4 0 1 1 14.8 0a7.4 7.4 0 1 1 -14.8 0zM1164 199.7a7.4 7.4 0 1 1 14.8 0a7.4 7.4 0 1 1 -14.8 0zM1167.9 204.4a7.4 7.4 0 1 1 14.8 0a7.4 7.4 0 1 1 -14.8 0zM1171.6 205.8a7.4 7.4 0 1 1 14.8 0a7.4 7.4 0 1 1 -14.8 0zM1175 210.6a7.4 7.4 0 1 1 14.8 0a7.4 7.4 0 1 1 -14.8 0zM1178.4 213.7a7.4 7.4 0 1 1 14.8 0a7.4 7.4 0 1 1 -14.8 0zM1181.8 217.3a7.4 7.4 0 1 1 14.8 0a7.4 7.4 0 1 1 -14.8 0zM1184.8 222.1a7.4 7.4 0 1 1 14.8 0a7.4 7.4 0 1 1 -14.8 0zM1187.4 225.2a7.4 7.4 0 1 1 14.8 0a7.4 7.4 0 1 1 -14.8 0zM1189.7 230.3a7.4 7.4 0 1 1 14.8 0a7.4 7.4 0 1 1 -14.8 0zM1190.1 231.7a7.4 7.4 0 1 1 14.8 0a7.4 7.4 0 1 1 -14.8 0z" fill="#ff0000"/>
<polyline points="316.5,1075.5 316.5,1074.5 316.5,1073.5 316.5,1072.5 316.6,1071.5 316.6,1070.5 316.6,1069.5 316.6,1068.5 316.6,1067.5 316.6,1066.5 316.7,1065.5 316.7,1064.5 316.7,1063.5 316.7,1062.5 316.8,1061.5 316.8,1060.5 316.8,1059.5 316.9,1058.5 316.9,1057.5 316.9,1056.5 316.9,1055.5 317,1054.5 317,1053.5 317,1052.5 317.1,1051.5 317.1,1050.5 317.2,1049.5 317.2,1048.5 317.2,1047.5 317.3,1046.5 317.3,1045.5 317.4,1044.5 317.4,1043.5 317.4,1042.5 317.5,1041.5 317.5,1040.5 317.6,1039.5 317.6,1038.5 317.7,1037.5 317.7,1036.5 317.8,1035.5 317.8,1034.5 317.9,1033.5 317.9,1032.5 318,1031.5 318,1030.5 318.1,1029.5 318.1,1028.5 318.2,1027.5 318.3,1026.5 318.3,1025.5 318.4,1024.5 318.4,1023.5 318.5,1022.5 318.5,1021.5 318.6,1020.5 318.7,1019.5 318.7,1018.5 318.8,1017.5 318.9,1016.5 318.9,1015.5 319,1014.5 319,1013.5 319.1,1012.5 319.2,1011.5 319.2,1010.5 319.3,1009.6 319.4,1008.6 319.4,1007.6 319.5,1006.6 319.6,1005.6 319.6,1004.6 319.7,1003.6 319.8,1002.6 319.9,1001.6 319.9,1000.6 320,999.6 320.1,998.6 320.1,997.6 320.2,996.6 320.3,995.6 320.4,994.6 320.4,993.6 320.5,992.6 320.6,991.6 320.6,990.6 320.7,989.6 320.8,988.6 320.9,987.6 320.9,986.6 321,985.6 321.1,984.6 321.2,983.6 321.2,982.6 321.3,981.6 321.4,980.6 321.5,979.6 321.6,978.6 321.6,977.6 321.7,976.6 321.8,975.6 321.9,974.6 321.9,973.6 322,972.6 322.1,971.6 322.2,970.6 322.3,969.6 322.3,968.7 322.4,967.7 322.5,966.7 322.6,965.7 322.7,964.7 322.7,963.7 322.8,962.7 322.9,961.7 323,960.7 323.1,959.7 323.2,958.7 323.3,957.7 323.4,956.7 323.5,955.7 323.6,954.7 323.8,953.7 323.9,952.7 324,951.7 324.1,950.7 324.2,949.7 324.3,948.7 324.5,947.8 324.6,946.8 324.7,945.8 324.8,944.8 324.9,943.8 325.1,942.8 325.2,941.8 325.3,940.8 325.4,939.8 325.6,938.8 325.7,937.8 325.8,936.8 325.9,935.8 326,934.8 326.2,933.9 326.3,932.9 326.4,931.9 326.5,930.9 326.7,929.9 326.8,928.9 326.9,927.9 327,926.9 327.2,925.9 327.3,924.9 327.4,923.9 327.5,922.9 327.7,921.9 327.8,921 327.9,920 328.1,919 328.2,918 328.3,917 328.5,916 328.6,915 328.7,914 328.9,913 329,912 329.1,911 329.3,910.1 329.4,909.1 329.6,908.1 329.7,907.1 329.9,906.1 330,905.1 330.2,904.1 330.3,903.1 330.5,902.1 330.6,901.1 330.7,900.2 330.9,899.2 331,898.2 331.2,897.2 331.3,896.2 331.4,895.2 331.6,894.2 331.7,893.2 331.8,892.2 332,891.2 332.1,890.2 332.2,889.3 332.3,888.3 332.5,887.3 332.6,886.3 332.7,885.3 332.8,884.3 332.9,883.3 333,882.3 333.1,881.3 333.2,880.3 333.3,879.3 333.4,878.3 333.4,877.3 333.5,876.3 333.6,875.3 333.7,874.3 333.8,873.3 333.9,872.3 333.9,871.3 334,870.3 334.1,869.3 334.2,868.3 334.2,867.3 334.3,866.3 334.4,865.4 334.5,864.4 334.6,863.4 334.7,862.4 334.8,861.4 334.8,860.4 334.9,859.4 335,858.4 335.1,857.4 335.2,856.4 335.3,855.4 335.4,854.4 335.6,853.4 335.7,852.4 335.8,851.4 335.9,850.4 336,849.4 336.1,848.4 336.2,847.4 336.3,846.4 336.4,845.4 336.5,844.5 336.7,843.5 336.8,842.5 336.9,841.5 337,840.5 337.1,839.5 337.2,838.5 337.4,837.5 337.5,836.5 337.6,835.5 337.7,834.5 337.8,833.5 338,832.5 338.1,831.5 338.2,830.5 338.3,829.6 338.5,828.6 338.6,827.6 338.7,826.6 338.8,825.6 339,824.6 339.1,823.6 339.2,822.6 339.3,821.6 339.5,820.6 339.6,819.6 339.7,818.6 339.8,817.6 340,816.7 340.1,815.7 340.2,814.7 340.4,813.7 340.5,812.7 340.6,811.7 340.7,810.7 340.9,809.7 341,808.7 341.1,807.7 341.2,806.7 341.4,805.7 341.5,804.8 341.6,803.8 341.8,802.8 341.9,801.8 342,800.8 342.2,799.8 342.3,798.8 342.4,797.8 342.6,796.8 342.7,795.8 342.8,794.8 343,793.8 343.1,792.9 343.2,791.9 343.4,790.9 343.5,789.9 343.6,788.9 343.8,787.9 343.9,786.9 344.1,785.9 344.2,784.9 344.3,783.9 344.5,782.9 344.6,782 344.7,781 344.9,780 345,779 345.1,778 345.3,777 345.4,776 345.6,775 345.7,774 345.8,773 346,772 346.1,771.1 346.2,770.1 346.4,769.1 346.5,768.1 346.6,767.1 346.8,766.1 346.9,765.1 347.1,764.1 347.2,763.1 347.3,762.1 347.5,761.1 347.6,760.2 347.8,759.2 347.9,758.2 348,757.2 348.2,756.2 348.3,755.2 348.5,754.2 348.6,753.2 348.7,752.2 348.9,751.2 349,750.3 349.2,749.3 349.3,748.3 349.5,747.3 349.6,746.3 349.8,745.3 349.9,744.3 350.1,743.3 350.2,742.3 350.4,741.4 350.5,740.4 350.7,739.4 350.8,738.4 351,737.4 351.2,736.4 351.3,735.4 351.5,734.4 351.7,733.5 351.8,732.5 352,731.5 352.2,730.5 352.3,729.5 352.5,728.5 352.7,727.5 352.8,726.6 353,725.6 353.2,724.6 353.3,723.6 353.5,722.6 353.6,721.6 353.8,720.6 354,719.6 354.1,718.7 354.3,717.7 354.4,716.7 354.6,715.7 354.7,714.7 354.9,713.7 355,712.7 355.2,711.7 355.3,710.7 355.4,709.7 355.6,708.8 355.7,707.8 355.9,706.8 356,705.8 356.2,704.8 356.3,703.8 356.4,702.8 356.6,701.8 356.7,700.8 356.9,699.8 357,698.9 357.2,697.9 357.3,696.9 357.5,695.9 357.6,694.9 357.8,693.9 357.9,692.9 358.1,691.9 358.2,690.9 358.4,690 358.5,689 358.7,688 358.8,687 359,686 359.2,685 359.3,684 359.5,683 359.6,682.1 359.8,681.1 360,680.1 360.1,679.1 360.3,678.1 360.5,677.1 360.6,676.1 360.8,675.1 360.9,674.2 361.1,673.2 361.3,672.2 361.4,671.2 361.6,670.2 361.7,669.2 361.9,668.2 362,667.2 362.2,666.3 362.3,665.3 362.5,664.3 362.6,663.3 362.8,662.3 362.9,661.3 363,660.3 363.2,659.3 363.3,658.3 363.5,657.3 363.6,656.4 363.7,655.4 363.9,654.4 364,653.4 364.2,652.4 364.3,651.4 364.4,650.4 364.6,649.4 364.7,648.4 364.9,647.4 365,646.5 365.2,645.5 365.3,644.5 365.5,643.5 365.6,642.5 365.8,641.5 366,640.5 366.1,639.5 366.3,638.6 366.5,637.6 366.6,636.6 366.8,635.6 367,634.6 367.2,633.6 367.4,632.6 367.5,631.7 367.7,630.7 367.9,629.7 368.1,628.7 368.3,627.7 368.5,626.8 368.7,625.8 368.9,624.8 369.1,623.8 369.3,622.8 369.5,621.8 369.7,620.9 369.9,619.9 370.1,618.9 370.2,617.9 370.4,616.9 370.6,616 370.8,615 371,614 371.2,613 371.4,612 371.6,611.1 371.8,610.1 372,609.1 372.1,608.1 372.3,607.1 372.5,606.1 372.7,605.2 372.9,604.2 373.1,603.2 373.3,602.2 373.5,601.2 373.6,600.2 373.8,599.3 374,598.3 374.2,597.3 374.4,596.3 374.6,595.3 374.8,594.3 375,593.4 375.1,592.4 375.3,591.4 375.5,590.4 375.7,589.4 375.9,588.5 376.1,587.5 376.3,586.5 376.4,585.5 376.6,584.5 376.8,583.5 377,582.6 377.2,581.6 377.3,580.6 377.5,579.6 377.7,578.6 377.9,577.6 378.1,576.6 378.2,575.7 378.4,574.7 378.6,573.7 378.7,572.7 378.9,571.7 379.1,570.7 379.2,569.7 379.4,568.8 379.6,567.8 379.7,566.8 379.9,565.8 380.1,564.8 380.2,563.8 380.4,562.8 380.5,561.8 380.7,560.9 380.8,559.9 381,558.9 381.1,557.9 381.3,556.9 381.4,555.9 381.6,554.9 381.7,553.9 381.9,552.9 382,552 382.2,551 382.3,550 382.5,549 382.6,548 382.8,547 382.9,546 383.1,545 383.2,544 383.3,543.1 383.5,542.1 383.6,541.1 383.8,540.1 383.9,539.1 384.1,538.1 384.2,537.1 384.4,536.1 384.5,535.1 384.7,534.1 384.8,533.2 385,532.2 385.1,531.2 385.3,530.2 385.4,529.2 385.6,528.2 385.7,527.2 385.9,526.2 386,525.2 386.1,524.3 386.3,523.3 386.4,522.3 386.6,521.3 386.7,520.3 386.9,519.3 387,518.3 387.2,517.3 387.3,516.3 387.5,515.3 387.6,514.4 387.8,513.4 387.9,512.4 388.1,511.4 388.2,510.4 388.4,509.4 388.5,508.4 388.7,507.4 388.8,506.4 389,505.5 389.1,504.5 389.3,503.5 389.4,502.5 389.6,501.5 389.7,500.5 389.9,499.5 390,498.5 390.2,497.5 390.3,496.6 390.5,495.6 390.7,494.6 390.8,493.6 391,492.6 391.1,491.6 391.3,490.6 391.4,489.6 391.6,488.7 391.8,487.7 391.9,486.7 392.1,485.7 392.2,484.7 392.4,483.7 392.5,482.7 392.7,481.7 392.9,480.8 393,479.8 393.2,478.8 393.3,477.8 393.5,476.8 393.7,475.8 393.8,474.8 394,473.8 394.2,472.9 394.3,471.9 394.5,470.9 394.6,469.9 394.8,468.9 395,467.9 395.1,466.9 395.3,466 395.5,465 395.6,464 395.8,463 396,462 396.1,461 396.3,460 396.5,459 396.6,458.1 396.8,457.1 397,456.1 397.1,455.1 397.3,454.1 397.5,453.1 397.6,452.1 397.8,451.2 398,450.2 398.1,449.2 398.3,448.2 398.5,447.2 398.7,446.2 398.8,445.2 399,444.3 399.2,443.3 399.3,442.3 399.5,441.3 399.7,440.3 399.9,439.3 400,438.3 400.2,437.4 400.4,436.4 400.6,435.4 400.7,434.4 400.9,433.4 401.1,432.4 401.3,431.5 401.5,430.5 401.6,429.5 401.8,428.5 402,427.5 402.2,426.5 402.3,425.6 402.5,424.6 402.7,423.6 402.9,422.6 403.1,421.6 403.2,420.6 403.4,419.6 403.6,418.7 403.8,417.7 404,416.7 404.1,415.7 404.3,414.7 404.5,413.7 404.7,412.8 404.9,411.8 405,410.8 405.2,409.8 405.4,408.8 405.6,407.8 405.8,406.9 405.9,405.9 406.1,404.9 406.3,403.9 406.5,402.9 406.7,401.9 406.8,401 407,400 407.2,399 407.4,398 407.5,397 407.7,396 407.9,395 408.1,394.1 408.2,393.1 408.4,392.1 408.6,391.1 408.8,390.1 408.9,389.1 409.1,388.2 409.3,387.2 409.5,386.2 409.6,385.2 409.8,384.2 410,383.2 410.2,382.2 410.4,381.3 410.5,380.3 410.7,379.3 410.9,378.3 411.1,377.3 411.2,376.3 411.4,375.3 411.6,374.4 411.8,373.4 411.9,372.4 412.1,371.4 412.3,370.4 412.5,369.4 412.6,368.5 412.8,367.5 413,366.5 413.2,365.5 413.4,364.5 413.5,363.5 413.7,362.6 413.9,361.6 414.1,360.6 414.2,359.6 414.4,358.6 414.6,357.6 414.8,356.6 415,355.7 415.1,354.7 415.3,353.7 415.5,352.7 415.7,351.7 415.9,350.7 416,349.8 416.2,348.8 416.4,347.8 416.6,346.8 416.8,345.8 417,344.8 417.1,343.9 417.3,342.9 417.5,341.9 417.7,340.9 417.9,339.9 418.1,338.9 418.3,338 418.5,337 418.6,336 418.8,335 419,334 419.2,333.1 419.4,332.1 419.6,331.1 419.8,330.1 420,329.1 420.2,328.1 420.4,327.2 420.5,326.2 420.7,325.2 420.9,324.2 421.1,323.2 421.3,322.2 421.5,321.3 421.7,320.3 421.9,319.3 422.1,318.3 422.2,317.3 422.4,316.4 422.6,315.4 422.8,314.4 423,313.4 423.2,312.4 423.4,311.4 423.6,310.5 423.7,309.5 423.9,308.5 424.1,307.5 424.3,306.5 424.5,305.5 424.7,304.6 424.8,303.6 425,302.6 425.2,301.6 425.4,300.6 425.6,299.6 425.7,298.7 425.9,297.7 426.1,296.7 426.3,295.7 426.4,294.7 426.6,293.7 426.8,292.7 426.9,291.8 427.1,290.8 427.2,289.8 427.4,288.8 427.6,287.8 427.7,286.8 427.9,285.8 428,284.8 428.2,283.9 428.4,282.9 428.5,281.9 428.7,280.9 428.8,279.9 429,278.9 429.1,277.9 429.3,276.9 429.5,276 429.6,275 429.8,274 429.9,273 430.1,272 430.3,271 430.4,270 430.6,269 430.7,268.1 430.9,267.1 431.1,266.1 431.3,265.1 431.4,264.1 431.6,263.1 431.8,262.1 432,261.2 432.1,260.2 432.3,259.2 432.5,258.2 432.7,257.2 432.9,256.2 433.1,255.3 433.3,254.3 433.5,253.3 433.7,252.3 433.9,251.3 434.1,250.4 434.3,249.4 434.6,248.4 434.8,247.4 435,246.5 435.2,245.5 435.5,244.5 435.7,243.5 435.9,242.6 436.2,241.6 436.4,240.6 436.7,239.7 436.9,238.7 437.1,237.7 437.4,236.8 437.7,235.8 437.9,234.8 438.2,233.9 438.4,232.9 438.7,231.9 439,231 439.2,230 439.5,229 439.8,228.1 440.1,227.1 440.4,226.2 440.6,225.2 440.9,224.2 441.2,223.3 441.5,222.3 441.8,221.4 442.1,220.4 442.4,219.5 442.7,218.5 443,217.6 443.4,216.6 443.7,215.7 444,214.7 444.3,213.8 444.6,212.8 445,211.9 445.3,210.9 445.6,210 446,209.1 446.3,208.1 446.7,207.2 447,206.2 447.3,205.3 447.7,204.4 448.1,203.4 448.4,202.5 448.8,201.6 449.1,200.6 449.5,199.7 449.9,198.8 450.4,197.9 450.8,197 451.3,196.1 451.7,195.2 452.2,194.3 452.6,193.4 453,192.5 453.4,191.6 453.8,190.7 454.2,189.7 454.5,188.8 454.9,187.9 455.2,186.9 455.6,186 455.9,185.1 456.3,184.1 456.6,183.2 457,182.2 457.3,181.3 457.7,180.4 458.1,179.4 458.4,178.5 458.8,177.6 459.3,176.7 459.7,175.8 460.1,174.9 460.6,174 461.1,173.1 461.6,172.3 462.1,171.4 462.6,170.6 463.1,169.7 463.7,168.9 464.2,168 464.7,167.2 465.3,166.3 465.8,165.5 466.4,164.7 466.9,163.8 467.5,163 468.1,162.2 468.6,161.4 469.2,160.6 469.9,159.8 470.5,159 471.2,158.3 471.9,157.6 472.6,156.9 473.4,156.2 474.1,155.5 474.9,154.9 475.7,154.3 476.5,153.8 477.4,153.3 478.3,152.8 479.2,152.4 480.1,152 481.1,151.7 482,151.3 483,151 483.9,150.7 484.9,150.5 485.8,150.2 486.8,149.9 487.8,149.7 488.7,149.4 489.7,149.2 490.7,149 491.7,148.8 492.7,148.7 493.7,148.6 494.6,148.4 495.6,148.3 496.6,148.3 497.6,148.3 498.6,148.3 499.6,148.4 500.6,148.5 501.6,148.5 502.6,148.6 503.6,148.7 504.6,148.8 505.6,148.9 506.6,149 507.6,149.1 508.6,149.2 509.6,149.3 510.6,149.3 511.6,149.4 512.6,149.5 513.6,149.6 514.6,149.7 515.6,149.8 516.6,149.9 517.6,150 518.6,150.1 519.6,150.2 520.6,150.3 521.6,150.4 522.6,150.4 523.6,150.5 524.6,150.6 525.6,150.6 526.6,150.7 527.6,150.7 528.6,150.8 529.5,150.8 530.5,150.9 531.5,150.9 532.5,151 533.5,151 534.5,151 535.5,151.1 536.5,151.1 537.5,151.1 538.5,151.2 539.5,151.2 540.5,151.2 541.5,151.3 542.5,151.3 543.5,151.3 544.5,151.4 545.5,151.4 546.5,151.4 547.5,151.4 548.5,151.5 549.5,151.5 550.5,151.5 551.5,151.5 552.5,151.6 553.5,151.6 554.5,151.6 555.5,151.6 556.5,151.6 557.5,151.7 558.5,151.7 559.5,151.7 560.5,151.7 561.5,151.7 562.5,151.8 563.5,151.8 564.5,151.8 565.5,151.8 566.5,151.8 567.5,151.9 568.5,151.9 569.5,151.9 570.5,151.9 571.5,151.9 572.5,151.9 573.5,151.9 574.5,152 575.5,152 576.5,152 577.5,152 578.5,152 579.5,152 580.5,152.1 581.5,152.1 582.5,152.1 583.5,152.1 584.5,152.1 585.5,152.1 586.5,152.1 587.5,152.2 588.5,152.2 589.5,152.2 590.5,152.2 591.5,152.2 592.5,152.3 593.5,152.3 594.5,152.3 595.5,152.3 596.5,152.3 597.5,152.3 598.5,152.4 599.5,152.4 600.5,152.4 601.5,152.4 602.5,152.5 603.5,152.5 604.5,152.5 605.5,152.5 606.5,152.6 607.5,152.6 608.5,152.6 609.5,152.6 610.5,152.7 611.5,152.7 612.5,152.7 613.5,152.7 614.5,152.8 615.5,152.8 616.5,152.8 617.5,152.8 618.5,152.9 619.5,152.9 620.5,152.9 621.5,153 622.5,153 623.5,153 624.5,153 625.5,153.1 626.5,153.1 627.5,153.1 628.5,153.2 629.5,153.2 630.5,153.2 631.5,153.3 632.5,153.3 633.5,153.3 634.5,153.3 635.5,153.4 636.5,153.4 637.5,153.4 638.5,153.5 639.5,153.5 640.5,153.5 641.5,153.6 642.5,153.6 643.5,153.6 644.5,153.6 645.5,153.7 646.5,153.7 647.5,153.7 648.5,153.8 649.5,153.8 650.5,153.8 651.5,153.8 652.5,153.9 653.5,153.9 654.5,153.9 655.5,154 656.5,154 657.5,154 658.5,154 659.5,154.1 660.5,154.1 661.5,154.1 662.5,154.2 663.5,154.2 664.5,154.2 665.5,154.3 666.5,154.3 667.5,154.3 668.5,154.3 669.5,154.4 670.5,154.4 671.5,154.4 672.5,154.5 673.5,154.5 674.5,154.5 675.5,154.5 676.5,154.6 677.5,154.6 678.5,154.6 679.5,154.7 680.5,154.7 681.5,154.7 682.5,154.8 683.5,154.8 684.5,154.8 685.5,154.8 686.5,154.9 687.5,154.9 688.5,154.9 689.5,155 690.5,155 691.5,155 692.5,155.1 693.5,155.1 694.5,155.1 695.5,155.2 696.5,155.2 697.5,155.2 698.5,155.3 699.5,155.3 700.5,155.3 701.5,155.3 702.5,155.4 703.5,155.4 704.5,155.5 705.5,155.5 706.5,155.5 707.5,155.6 708.5,155.6 709.5,155.6 710.5,155.7 711.5,155.7 712.5,155.7 713.5,155.8 714.5,155.8 715.5,155.9 716.5,155.9 717.5,155.9 718.5,156 719.5,156 720.5,156 721.5,156.1 722.5,156.1 723.5,156.2 724.5,156.2 725.5,156.2 726.5,156.3 727.5,156.3 728.5,156.3 729.5,156.4 730.5,156.4 731.5,156.5 732.5,156.5 733.5,156.5 734.5,156.6 735.5,156.6 736.5,156.6 737.5,156.7 738.5,156.7 739.5,156.7 740.5,156.8 741.5,156.8 742.5,156.8 743.5,156.8 744.5,156.9 745.5,156.9 746.5,156.9 747.5,156.9 748.5,157 749.5,157 750.5,157 751.5,157 752.5,157.1 753.5,157.1 754.5,157.1 755.5,157.1 756.5,157.1 757.5,157.2 758.5,157.2 759.5,157.2 760.5,157.2 761.5,157.2 762.5,157.2 763.5,157.3 764.5,157.3 765.5,157.3 766.5,157.3 767.5,157.3 768.5,157.4 769.5,157.4 770.5,157.4 771.5,157.4 772.5,157.4 773.5,157.4 774.5,157.5 775.5,157.5 776.5,157.5 777.5,157.5 778.5,157.5 779.5,157.5 780.5,157.5 781.5,157.6 782.5,157.6 783.5,157.6 784.5,157.6 785.5,157.6 786.5,157.6 787.5,157.6 788.5,157.7 789.5,157.7 790.5,157.7 791.5,157.7 792.5,157.7 793.5,157.7 794.5,157.7 795.5,157.7 796.5,157.8 797.5,157.8 798.5,157.8 799.5,157.8 800.5,157.8 801.5,157.8 802.5,157.8 803.5,157.8 804.5,157.9 805.5,157.9 806.5,157.9 807.5,157.9 808.5,157.9 809.5,157.9 810.5,157.9 811.5,157.9 812.5,157.9 813.5,157.9 814.5,157.9 815.5,158 816.5,158 817.5,158 818.5,158 819.5,158 820.5,158 821.5,158 822.5,158 823.5,158 824.5,158 825.5,158 826.5,158 827.5,158.1 828.5,158.1 829.5,158.1 830.5,158.1 831.5,158.1 832.5,158.1 833.5,158.1 834.5,158.1 835.5,158.1 836.5,158.1 837.5,158.1 838.5,158.2 839.5,158.2 840.5,158.2 841.5,158.2 842.5,158.2 843.5,158.2 844.5,158.2 845.5,158.2 846.5,158.3 847.5,158.3 848.5,158.3 849.5,158.3 850.5,158.3 851.5,158.3 852.5,158.3 853.5,158.4 854.5,158.4 855.5,158.4 856.5,158.4 857.5,158.5 858.5,158.5 859.5,158.5 860.5,158.5 861.5,158.6 862.5,158.6 863.5,158.6 864.5,158.7 865.5,158.7 866.5,158.7 867.5,158.8 868.5,158.8 869.5,158.8 870.5,158.9 871.5,158.9 872.5,159 873.5,159 874.5,159 875.5,159.1 876.5,159.1 877.5,159.1 878.5,159.2 879.5,159.2 880.5,159.3 881.5,159.3 882.5,159.3 883.5,159.4 884.5,159.4 885.5,159.5 886.5,159.5 887.5,159.5 888.5,159.6 889.5,159.6 890.5,159.6 891.5,159.7 892.5,159.7 893.5,159.7 894.5,159.8 895.5,159.8 896.5,159.8 897.5,159.8 898.5,159.9 899.5,159.9 900.5,159.9 901.5,159.9 902.5,160 903.5,160 904.5,160 905.5,160 906.5,160 907.5,160.1 908.5,160.1 909.5,160.1 910.5,160.1 911.5,160.1 912.5,160.1 913.5,160.1 914.5,160.2 915.5,160.2 916.5,160.2 917.5,160.2 918.5,160.2 919.5,160.2 920.5,160.2 921.5,160.3 922.5,160.3 923.5,160.3 924.5,160.3 925.5,160.3 926.5,160.3 927.5,160.3 928.5,160.4 929.5,160.4 930.5,160.4 931.5,160.4 932.5,160.4 933.5,160.4 934.5,160.5 935.5,160.5 936.5,160.5 937.5,160.5 938.5,160.5 939.5,160.5 940.5,160.6 941.5,160.6 942.5,160.6 943.5,160.6 944.5,160.7 945.5,160.7 946.5,160.7 947.5,160.7 948.5,160.8 949.5,160.8 950.5,160.8 951.5,160.9 952.5,160.9 953.5,160.9 954.5,161 955.5,161 956.5,161.1 957.5,161.1 958.5,161.2 959.5,161.3 960.5,161.3 961.5,161.4 962.5,161.5 963.5,161.5 964.5,161.6 965.5,161.7 966.5,161.7 967.5,161.8 968.5,161.9 969.5,161.9 970.5,162 971.5,162.1 972.5,162.1 973.5,162.2 974.5,162.3 975.5,162.3 976.5,162.4 977.5,162.5 978.5,162.5 979.5,162.6 980.5,162.6 981.5,162.7 982.5,162.8 983.5,162.8 984.5,162.9 985.5,162.9 986.5,163 987.5,163.1 988.5,163.1 989.5,163.2 990.5,163.3 991.5,163.3 992.5,163.4 993.5,163.4 994.5,163.5 995.5,163.5 996.5,163.6 997.5,163.7 998.5,163.7 999.5,163.8 1000.5,163.8 1001.4,163.9 1002.4,163.9 1003.4,164 1004.4,164 1005.4,164.1 1006.4,164.1 1007.4,164.2 1008.4,164.2 1009.4,164.2 1010.4,164.3 1011.4,164.3 1012.4,164.4 1013.4,164.4 1014.4,164.5 1015.4,164.5 1016.4,164.5 1017.4,164.6 1018.4,164.6 1019.4,164.7 1020.4,164.7 1021.4,164.8 1022.4,164.8 1023.4,164.9 1024.4,165 1025.4,165 1026.4,165.1 1027.4,165.2 1028.4,165.3 1029.4,165.4 1030.4,165.5 1031.4,165.6 1032.4,165.7 1033.4,165.9 1034.4,166 1035.4,166.1 1036.4,166.3 1037.4,166.4 1038.3,166.5 1039.3,166.6 1040.3,166.7 1041.3,166.9 1042.3,167 1043.3,167 1044.3,167.1 1045.3,167.2 1046.3,167.2 1047.3,167.3 1048.3,167.3 1049.3,167.3 1050.3,167.3 1051.3,167.3 1052.3,167.3 1053.3,167.3 1054.3,167.3 1055.3,167.3 1056.3,167.3 1057.3,167.2 1058.3,167.2 1059.3,167.2 1060.3,167.2 1061.3,167.2 1062.3,167.2 1063.3,167.2 1064.3,167.1 1065.3,167.1 1066.3,167.1 1067.3,167.1 1068.3,167.1 1069.3,167.1 1070.3,167.1 1071.3,167 1072.3,167 1073.3,167 1074.3,167 1075.3,167 1076.3,167 1077.3,166.9 1078.3,166.9 1079.3,166.9 1080.3,166.9 1081.3,166.9 1082.3,166.8 1083.3,166.8 1084.3,166.7 1085.3,166.7 1086.3,166.6 1087.3,166.5 1088.3,166.3 1089.3,166.2 1090.3,166 1091.3,165.9 1092.2,165.7 1093.2,165.5 1094.2,165.3 1095.2,165.1 1096.2,164.9 1097.2,164.7 1098.1,164.6 1099.1,164.4 1100.1,164.2 1101.1,164 1102.1,163.7 1103,163.5 1104,163.3 1105,163 1105.9,162.7 1106.9,162.5 1107.9,162.2 1108.8,162 1109.8,161.8 1110.8,161.5 1111.8,161.3 1112.7,161.1 1113.7,161 1114.7,160.8 1115.7,160.7 1116.7,160.6 1117.7,160.5 1118.7,160.4 1119.7,160.3 1120.7,160.1 1121.7,160 1122.7,159.8 1123.6,159.7 1124.6,159.5 1125.6,159.2 1126.5,158.9 1127.5,158.5 1128.4,158.2 1129.3,157.8 1130.3,157.4 1131.2,157.1 1132.1,156.8 1133.1,156.5 1134.1,156.2 1135,155.9 1136,155.6 1136.9,155.3 1137.9,155.1 1138.9,154.8 1139.8,154.5 1140.8,154.3 1141.8,154 1142.7,153.7 1143.7,153.4 1144.6,153.1 1145.6,152.8 1146.6,152.6 1147.5,152.3 1148.5,152.1 1149.5,152 1150.5,151.8 1151.5,151.7 1152.5,151.6 1153.5,151.5 1154.5,151.3 1155.5,151.2 1156.4,151.1 1157.4,151 1158.4,151 1159.4,150.9 1160.4,150.8 1161.4,150.7 1162.4,150.6 1163.4,150.5 1164.4,150.4 1165.4,150.3 1166.4,150.3 1167.4,150.2 1168.4,150.1 1169.4,150 1170.4,149.8 1171.4,149.7 1172.4,149.6 1173.4,149.5 1174.4,149.4 1175.4,149.3 1176.4,149.2 1177.4,149.2 1178.4,149.1 1179.4,149.1 1180.4,149.1 1181.4,149.1 1182.4,149.1 1183.4,149.1 1184.4,149.1 1185.4,149.1 1186.4,149.1 1187.4,149.1 1188.4,149.1 1189.4,149.1 1190.4,149.1 1191.4,149.2 1192.4,149.2 1193.4,149.2 1194.4,149.2 1195.4,149.2 1196.4,149.2 1197.4,149.3 1198.4,149.3 1199.4,149.4 1200.4,149.5 1201.4,149.6 1202.3,149.7 1203.3,149.8 1204.3,149.9 1205.3,150 1206.3,150.1 1207.3,150.2 1208.3,150.3 1209.3,150.4 1210.3,150.6 1211.3,150.7 1212.3,150.9 1213.3,151.1 1214.2,151.3 1215.2,151.5 1216.2,151.8 1217.1,152.2 1218,152.5 1219,152.9 1219.9,153.2 1220.9,153.5 1221.8,153.8 1222.8,154.1 1223.7,154.4 1224.7,154.7 1225.7,154.9 1226.6,155.2 1227.6,155.5 1228.5,155.8 1229.5,156.2 1230.4,156.5 1231.3,156.9 1232.2,157.3 1233.2,157.7 1234.1,158.1 1235,158.6 1235.8,159 1236.7,159.5 1237.6,160 1238.4,160.5 1239.3,161.1 1240.1,161.6 1240.9,162.2 1241.7,162.8 1242.5,163.5 1243.3,164.1 1244,164.8 1244.7,165.5 1245.4,166.2 1246,167 1246.7,167.7 1247.3,168.5 1247.9,169.3 1248.5,170.1 1249.1,170.9 1249.7,171.7 1250.3,172.6 1250.8,173.4 1251.4,174.2 1252,175 1252.5,175.9 1253.1,176.7 1253.6,177.5 1254.1,178.4 1254.7,179.2 1255.2,180.1 1255.7,180.9 1256.2,181.8 1256.7,182.7 1257.2,183.6 1257.7,184.4 1258.1,185.3 1258.6,186.2 1259.1,187.1 1259.5,188 1259.9,188.9 1260.3,189.8 1260.8,190.7 1261.2,191.6 1261.6,192.6 1261.9,193.5 1262.3,194.4 1262.7,195.3 1263,196.3 1263.4,197.2" fill="none" stroke="#00ff00" stroke-width="9" stroke-linejoin="round" stroke-linecap="round"/>
<path d="M320.3 985.2L329.3 1000.8L311.3 1000.8zM322.1 961.3L331.1 976.8L313.1 976.8zM324.5 937.4L333.5 953L315.5 953zM327.4 913.5L336.4 929.1L318.4 929.1zM330.7 889.8L339.7 905.4L321.7 905.4zM333.5 865.9L342.5 881.5L324.5 881.5zM335.8 841L344.8 856.6L326.8 856.6zM338.6 817.2L347.6 832.8L329.6 832.8zM341.8 792.4L350.8 808L332.8 808zM345 768.6L354 784.2L336 784.2zM348.5 743.8L357.5 759.4L339.5 759.4zM352.5 718.1L361.5 733.7L343.5 733.7zM356.3 693.4L365.3 709L347.3 709zM360.1 668.7L369.1 684.3L351.1 684.3zM363.9 644L372.9 659.6L354.9 659.6zM368.1 618.3L377.1 633.9L359.1 633.9zM372.9 593.8L381.9 609.4L363.9 609.4zM377.7 568.2L386.7 583.8L368.7 583.8zM381.7 543.5L390.7 559.1L372.7 559.1zM385.6 517.8L394.6 533.4L376.6 533.4zM389.4 492.1L398.4 507.7L380.4 507.7zM393.5 466.4L402.5 482L384.5 482zM397.8 440.8L406.8 456.4L388.8 456.4zM402.3 415.2L411.3 430.7L393.3 430.7zM407 389.6L416 405.2L398 405.2zM411.6 364L420.6 379.6L402.6 379.6zM416.4 337.4L425.4 353L407.4 353zM421.3 311.9L430.3 327.4L412.3 327.4zM426.3 285.3L435.3 300.9L417.3 300.9zM430.6 258.6L439.6 274.2L421.6 274.2zM435.7 233.2L444.7 248.7L426.7 248.7zM443 207.2L452 222.8L434 222.8zM452.2 183.9L461.2 199.5L443.2 199.5zM458.8 167.2L467.8 182.8L449.8 182.8zM464.7 156.8L473.7 172.4L455.7 172.4zM470.5 148.6L479.5 164.2L461.5 164.2zM477.4 142.9L486.4 158.5L468.4 158.5zM483.9 140.3L492.9 155.9L474.9 155.9zM491.7 138.5L500.7 154L482.7 154zM498.6 138L507.6 153.5L489.6 153.5zM505.6 138.6L514.6 154.2L496.6 154.2zM512.6 140.9L521.6 156.5L503.6 156.5zM520.6 139.8L529.6 155.4L511.6 155.4zM527.6 140.5L536.6 156.1L518.6 156.1zM534.5 141L543.5 156.6L525.5 156.6zM541.5 141.4L550.5 157L532.5 157zM548.5 141.9L557.5 157.5L539.5 157.5zM555.5 141.6L564.5 157.1L546.5 157.1zM563.5 141.1L572.5 156.7L554.5 156.7zM570.5 141L579.5 156.6L561.5 156.6zM577.5 142.3L586.5 157.8L568.5 157.8zM584.5 142.1L593.5 157.6L575.5 157.6zM591.5 142.3L600.5 157.9L582.5 157.9zM599.5 141.1L608.5 156.7L590.5 156.7zM606.5 141.4L615.5 157L597.5 157zM613.5 143.4L622.5 159L604.5 159zM620.5 143L629.5 158.6L611.5 158.6zM627.5 143.2L636.5 158.8L618.5 158.8zM635.5 144.6L644.5 160.2L626.5 160.2zM642.5 143L651.5 158.5L633.5 158.5zM649.5 143.9L658.5 159.5L640.5 159.5zM656.5 143.1L665.5 158.7L647.5 158.7zM663.5 142.9L672.5 158.5L654.5 158.5zM671.5 143.2L680.5 158.8L662.5 158.8zM678.5 145L687.5 160.5L669.5 160.5zM685.5 144L694.5 159.6L676.5 159.6zM692.5 143.6L701.5 159.2L683.5 159.2zM699.5 145.1L708.5 160.7L690.5 160.7zM707.5 145.9L716.5 161.5L698.5 161.5zM714.5 146.5L723.5 162.1L705.5 162.1zM721.5 147.7L730.5 163.2L712.5 163.2zM728.5 146.9L737.5 162.4L719.5 162.4zM735.5 145.5L744.5 161.1L726.5 161.1zM743.5 146.5L752.5 162.1L734.5 162.1zM750.5 147.5L759.5 163.1L741.5 163.1zM757.5 146.3L766.5 161.9L748.5 161.9zM764.5 147.4L773.5 163L755.5 163zM771.5 147.8L780.5 163.4L762.5 163.4zM779.5 145.7L788.5 161.3L770.5 161.3zM786.5 147.3L795.5 162.9L777.5 162.9zM793.5 148.2L802.5 163.8L784.5 163.8zM800.5 148L809.5 163.5L791.5 163.5zM807.5 147.7L816.5 163.3L798.5 163.3zM815.5 147.6L824.5 163.1L806.5 163.1zM822.5 149.3L831.5 164.9L813.5 164.9zM829.5 147.6L838.5 163.2L820.5 163.2zM836.5 146.5L845.5 162L827.5 162zM843.5 147.4L852.5 163L834.5 163zM851.5 148.1L860.5 163.6L842.5 163.6zM858.5 148.4L867.5 164L849.5 164zM865.5 148.1L874.5 163.7L856.5 163.7zM872.5 148.6L881.5 164.2L863.5 164.2zM879.5 148.7L888.5 164.3L870.5 164.3zM887.5 149.8L896.5 165.4L878.5 165.4zM894.5 148.5L903.5 164.1L885.5 164.1zM901.5 149.5L910.5 165.1L892.5 165.1zM908.5 148.5L917.5 164.1L899.5 164.1zM915.5 148.9L924.5 164.5L906.5 164.5zM923.5 150.2L932.5 165.8L914.5 165.8zM930.5 149.6L939.5 165.2L921.5 165.2zM937.5 150.9L946.5 166.5L928.5 166.5zM944.5 150.3L953.5 165.9L935.5 165.9zM951.5 150.9L960.5 166.5L942.5 166.5zM959.5 151.8L968.5 167.4L950.5 167.4zM966.5 150.9L975.5 166.5L957.5 166.5zM973.5 150L982.5 165.6L964.5 165.6zM980.5 151L989.5 166.6L971.5 166.6zM987.5 151.7L996.5 167.3L978.5 167.3zM995.5 152.8L1004.5 168.4L986.5 168.4zM1002.4 152.5L1011.4 168.1L993.4 168.1zM1009.4 154.2L1018.4 169.8L1000.4 169.8zM1016.4 154.6L1025.4 170.2L1007.4 170.2zM1023.4 154.1L1032.4 169.7L1014.4 169.7zM1031.4 155.7L1040.4 171.2L1022.4 171.2zM1038.3 156.5L1047.3 172.1L1029.3 172.1zM1045.3 158.4L1054.3 174L1036.3 174zM1052.3 158.6L1061.3 174.2L1043.3 174.2zM1059.3 156.5L1068.3 172.1L1050.3 172.1zM1067.3 159.1L1076.3 174.7L1058.3 174.7zM1074.3 155.9L1083.3 171.5L1065.3 171.5zM1081.3 156.4L1090.3 172L1072.3 172zM1088.3 156.6L1097.3 172.2L1079.3 172.2zM1095.2 155.7L1104.2 171.3L1086.2 171.3zM1103 154.4L1112 170L1094 170zM1109.8 152L1118.8 167.6L1100.8 167.6zM1116.7 149.6L1125.7 165.1L1107.7 165.1zM1123.6 147.8L1132.6 163.4L1114.6 163.4zM1130.3 147.3L1139.3 162.9L1121.3 162.9zM1137.9 146.8L1146.9 162.4L1128.9 162.4zM1144.6 142.3L1153.6 157.9L1135.6 157.9zM1151.5 141.6L1160.5 157.2L1142.5 157.2zM1158.4 139.9L1167.4 155.4L1149.4 155.4zM1165.4 140.8L1174.4 156.4L1156.4 156.4zM1173.4 137.4L1182.4 153L1164.4 153zM1180.4 140L1189.4 155.6L1171.4 155.6zM1187.4 138.6L1196.4 154.2L1178.4 154.2zM1194.4 139.8L1203.4 155.3L1185.4 155.3zM1201.4 141.1L1210.4 156.7L1192.4 156.7zM1209.3 138.8L1218.3 154.4L1200.3 154.4zM1216.2 141L1225.2 156.6L1207.2 156.6zM1222.8 142.8L1231.8 158.4L1213.8 158.4zM1229.5 146.4L1238.5 162L1220.5 162zM1236.7 150L1245.7 165.6L1227.7 165.6zM1244 155L1253 170.5L1235 170.5zM1250.8 164L1259.8 179.5L1241.8 179.5zM1258.6 175.9L1267.6 191.5L1249.6 191.5z" fill="#00ff00"/>
<polyline points="316.5,1075.5 316.5,1074.5 316.6,1073.5 316.6,1072.5 316.7,1071.5 316.7,1070.5 316.8,1069.5 316.8,1068.5 316.9,1067.5 317,1066.5 317,1065.5 317.1,1064.5 317.2,1063.5 317.2,1062.5 317.3,1061.5 317.4,1060.5 317.5,1059.5 317.5,1058.5 317.6,1057.5 317.7,1056.5 317.8,1055.5 317.9,1054.5 318,1053.5 318.1,1052.6 318.2,1051.6 318.3,1050.6 318.3,1049.6 318.4,1048.6 318.6,1047.6 318.7,1046.6 318.8,1045.6 318.9,1044.6 319,1043.6 319.1,1042.6 319.2,1041.6 319.3,1040.6 319.4,1039.6 319.6,1038.6 319.7,1037.6 319.8,1036.6 319.9,1035.6 320,1034.7 320.2,1033.7 320.3,1032.7 320.4,1031.7 320.6,1030.7 320.7,1029.7 320.8,1028.7 321,1027.7 321.1,1026.7 321.2,1025.7 321.4,1024.7 321.5,1023.8 321.7,1022.8 321.8,1021.8 322,1020.8 322.1,1019.8 322.3,1018.8 322.4,1017.8 322.6,1016.8 322.7,1015.8 322.9,1014.9 323,1013.9 323.2,1012.9 323.3,1011.9 323.5,1010.9 323.6,1009.9 323.8,1008.9 324,1007.9 324.1,1007 324.3,1006 324.5,1005 324.6,1004 324.8,1003 324.9,1002 325.1,1001 325.3,1000 325.4,999.1 325.6,998.1 325.8,997.1 326,996.1 326.1,995.1 326.3,994.1 326.5,993.1 326.6,992.2 326.8,991.2 327,990.2 327.2,989.2 327.3,988.2 327.5,987.2 327.7,986.2 327.9,985.3 328,984.3 328.2,983.3 328.4,982.3 328.6,981.3 328.7,980.3 328.9,979.4 329.1,978.4 329.3,977.4 329.5,976.4 329.7,975.4 329.9,974.5 330.2,973.5 330.4,972.5 330.7,971.5 330.9,970.6 331.1,969.6 331.4,968.6 331.6,967.7 331.9,966.7 332.1,965.7 332.3,964.7 332.5,963.8 332.8,962.8 333,961.8 333.2,960.9 333.5,959.9 333.7,958.9 333.9,957.9 334.2,957 334.4,956 334.6,955 334.9,954 335.1,953.1 335.3,952.1 335.5,951.1 335.8,950.1 336,949.2 336.2,948.2 336.5,947.2 336.7,946.3 336.9,945.3 337.1,944.3 337.4,943.3 337.6,942.4 337.8,941.4 338,940.4 338.2,939.4 338.4,938.4 338.7,937.5 338.9,936.5 339.1,935.5 339.3,934.5 339.5,933.6 339.7,932.6 339.9,931.6 340.1,930.6 340.3,929.6 340.6,928.7 340.8,927.7 341,926.7 341.2,925.7 341.4,924.8 341.6,923.8 341.8,922.8 342,921.8 342.2,920.8 342.4,919.9 342.6,918.9 342.8,917.9 343.1,916.9 343.3,916 343.5,915 343.7,914 343.9,913 344.1,912 344.3,911.1 344.5,910.1 344.7,909.1 344.9,908.1 345.1,907.1 345.3,906.2 345.5,905.2 345.7,904.2 345.9,903.2 346.1,902.2 346.4,901.3 346.6,900.3 346.8,899.3 347,898.3 347.2,897.4 347.4,896.4 347.7,895.4 347.9,894.4 348.1,893.5 348.3,892.5 348.6,891.5 348.8,890.5 349.1,889.6 349.3,888.6 349.6,887.6 349.8,886.7 350.1,885.7 350.3,884.7 350.6,883.8 350.8,882.8 351.1,881.8 351.4,880.9 351.6,879.9 351.9,878.9 352.1,878 352.4,877 352.7,876 352.9,875.1 353.2,874.1 353.5,873.2 353.7,872.2 354,871.2 354.3,870.3 354.5,869.3 354.8,868.3 355.1,867.4 355.3,866.4 355.6,865.4 355.9,864.5 356.2,863.5 356.4,862.6 356.7,861.6 357,860.6 357.2,859.7 357.5,858.7 357.8,857.7 358.1,856.8 358.3,855.8 358.6,854.9 358.9,853.9 359.1,852.9 359.4,852 359.6,851 359.9,850 360.2,849.1 360.4,848.1 360.7,847.1 360.9,846.2 361.2,845.2 361.4,844.2 361.7,843.3 361.9,842.3 362.2,841.3 362.4,840.3 362.7,839.4 362.9,838.4 363.2,837.4 363.4,836.5 363.7,835.5 363.9,834.5 364.1,833.6 364.4,832.6 364.6,831.6 364.9,830.7 365.1,829.7 365.4,828.7 365.6,827.7 365.8,826.8 366.1,825.8 366.3,824.8 366.6,823.9 366.8,822.9 367.1,821.9 367.3,820.9 367.5,820 367.8,819 368,818 368.3,817.1 368.5,816.1 368.7,815.1 369,814.1 369.2,813.2 369.4,812.2 369.7,811.2 369.9,810.3 370.2,809.3 370.4,808.3 370.6,807.3 370.9,806.4 371.1,805.4 371.4,804.4 371.6,803.5 371.9,802.5 372.1,801.5 372.3,800.6 372.6,799.6 372.8,798.6 373.1,797.6 373.3,796.7 373.5,795.7 373.8,794.7 374,793.8 374.2,792.8 374.5,791.8 374.7,790.8 374.9,789.9 375.2,788.9 375.4,787.9 375.6,786.9 375.9,786 376.1,785 376.3,784 376.6,783.1 376.8,782.1 377.1,781.1 377.3,780.1 377.5,779.2 377.8,778.2 378,777.2 378.3,776.3 378.5,775.3 378.8,774.3 379,773.4 379.3,772.4 379.6,771.4 379.8,770.5 380.1,769.5 380.4,768.5 380.7,767.6 381,766.6 381.3,765.7 381.6,764.7 381.9,763.8 382.2,762.8 382.5,761.9 382.8,760.9 383.1,760 383.4,759 383.8,758.1 384.1,757.1 384.4,756.2 384.7,755.2 385,754.3 385.3,753.3 385.7,752.4 386,751.4 386.3,750.5 386.6,749.5 386.9,748.6 387.2,747.6 387.5,746.7 387.8,745.7 388.1,744.8 388.4,743.8 388.7,742.9 389,741.9 389.3,741 389.6,740 389.9,739 390.2,738.1 390.5,737.1 390.8,736.2 391.1,735.2 391.4,734.3 391.7,733.3 392,732.4 392.3,731.4 392.6,730.4 392.9,729.5 393.2,728.5 393.5,727.6 393.7,726.6 394,725.7 394.3,724.7 394.6,723.7 394.9,722.8 395.2,721.8 395.5,720.9 395.8,719.9 396,719 396.3,718 396.6,717 396.9,716.1 397.2,715.1 397.5,714.2 397.7,713.2 398,712.2 398.3,711.3 398.6,710.3 398.8,709.3 399.1,708.4 399.4,707.4 399.6,706.5 399.9,705.5 400.2,704.5 400.4,703.6 400.7,702.6 400.9,701.6 401.2,700.7 401.4,699.7 401.7,698.7 401.9,697.7 402.2,696.8 402.4,695.8 402.7,694.8 402.9,693.9 403.1,692.9 403.4,691.9 403.6,691 403.9,690 404.1,689 404.4,688 404.6,687.1 404.9,686.1 405.1,685.1 405.3,684.2 405.6,683.2 405.8,682.2 406.1,681.3 406.3,680.3 406.6,679.3 406.9,678.4 407.1,677.4 407.4,676.4 407.6,675.5 407.9,674.5 408.2,673.5 408.4,672.6 408.7,671.6 409,670.7 409.3,669.7 409.6,668.7 409.8,667.8 410.1,666.8 410.4,665.9 410.7,664.9 411,663.9 411.3,663 411.6,662 411.9,661.1 412.2,660.1 412.5,659.2 412.9,658.2 413.2,657.3 413.5,656.3 413.8,655.4 414.1,654.4 414.4,653.5 414.8,652.5 415.1,651.6 415.4,650.6 415.7,649.7 416,648.8 416.4,647.8 416.7,646.9 417,645.9 417.4,645 417.7,644 418,643.1 418.3,642.1 418.7,641.2 419,640.2 419.3,639.3 419.6,638.4 420,637.4 420.3,636.5 420.6,635.5 421,634.6 421.3,633.6 421.6,632.7 422,631.7 422.3,630.8 422.6,629.9 422.9,628.9 423.3,628 423.6,627 423.9,626.1 424.3,625.1 424.6,624.2 424.9,623.3 425.3,622.3 425.6,621.4 426,620.4 426.3,619.5 426.6,618.6 427,617.6 427.3,616.7 427.7,615.7 428,614.8 428.4,613.9 428.7,612.9 429.1,612 429.4,611 429.8,610.1 430.1,609.2 430.5,608.2 430.8,607.3 431.2,606.4 431.6,605.4 431.9,604.5 432.3,603.6 432.6,602.6 433,601.7 433.4,600.8 433.8,599.9 434.1,598.9 434.5,598 434.9,597.1 435.3,596.2 435.7,595.3 436.1,594.3 436.5,593.4 436.9,592.5 437.3,591.6 437.7,590.7 438.1,589.8 438.5,588.8 438.9,587.9 439.3,587 439.7,586.1 440,585.1 440.4,584.2 440.8,583.3 441.1,582.4 441.5,581.4 441.9,580.5 442.3,579.6 442.6,578.6 443,577.7 443.3,576.8 443.7,575.8 444.1,574.9 444.4,574 444.8,573 445.1,572.1 445.5,571.2 445.9,570.2 446.2,569.3 446.6,568.4 446.9,567.4 447.3,566.5 447.6,565.6 448,564.6 448.4,563.7 448.7,562.8 449.1,561.8 449.4,560.9 449.8,559.9 450.1,559 450.5,558.1 450.8,557.1 451.2,556.2 451.5,555.3 451.9,554.3 452.2,553.4 452.6,552.5 453,551.5 453.3,550.6 453.7,549.7 454,548.7 454.4,547.8 454.8,546.9 455.1,545.9 455.5,545 455.8,544.1 456.2,543.1 456.6,542.2 456.9,541.3 457.3,540.3 457.7,539.4 458.1,538.5 458.4,537.6 458.8,536.6 459.2,535.7 459.6,534.8 459.9,533.9 460.3,532.9 460.7,532 461.1,531.1 461.5,530.2 461.9,529.2 462.3,528.3 462.7,527.4 463.1,526.5 463.4,525.6 463.8,524.6 464.2,523.7 464.7,522.8 465.1,521.9 465.5,521 465.9,520.1 466.4,519.2 466.8,518.3 467.3,517.4 467.7,516.5 468.2,515.6 468.7,514.8 469.1,513.9 469.6,513 470.1,512.1 470.6,511.3 471.1,510.4 471.6,509.5 472.1,508.7 472.6,507.8 473.1,506.9 473.6,506.1 474.2,505.2 474.7,504.4 475.2,503.5 475.7,502.7 476.3,501.8 476.8,501 477.3,500.1 477.9,499.3 478.4,498.4 478.9,497.6 479.5,496.8 480,495.9 480.5,495.1 481.1,494.2 481.6,493.4 482.1,492.5 482.7,491.7 483.2,490.8 483.7,490 484.3,489.1 484.8,488.3 485.3,487.4 485.8,486.6 486.4,485.7 486.9,484.9 487.4,484 487.9,483.2 488.4,482.3 488.9,481.4 489.5,480.6 490,479.7 490.5,478.9 491,478 491.5,477.1 492,476.3 492.5,475.4 493,474.5 493.4,473.6 493.9,472.8 494.4,471.9 494.9,471 495.4,470.1 495.9,469.3 496.3,468.4 496.8,467.5 497.3,466.6 497.8,465.8 498.3,464.9 498.8,464 499.3,463.2 499.8,462.3 500.3,461.4 500.8,460.6 501.3,459.7 501.9,458.9 502.4,458 503,457.2 503.5,456.4 504.1,455.5 504.6,454.7 505.2,453.9 505.8,453.1 506.4,452.3 507,451.5 507.6,450.7 508.2,449.9 508.8,449.1 509.4,448.3 510,447.5 510.6,446.7 511.3,445.9 511.9,445.2 512.5,444.4 513.1,443.6 513.8,442.8 514.4,442 515,441.3 515.7,440.5 516.3,439.7 516.9,438.9 517.5,438.1 518.2,437.4 518.8,436.6 519.4,435.8 520,435 520.7,434.2 521.3,433.4 521.9,432.7 522.5,431.9 523.1,431.1 523.7,430.3 524.3,429.5 524.9,428.7 525.5,427.8 526,427 526.6,426.2 527.2,425.4 527.8,424.6 528.3,423.7 528.9,422.9 529.4,422.1 530,421.3 530.6,420.4 531.1,419.6 531.7,418.8 532.2,417.9 532.8,417.1 533.4,416.3 533.9,415.5 534.5,414.6 535.1,413.8 535.6,413 536.2,412.2 536.8,411.4 537.4,410.6 538,409.8 538.6,409 539.2,408.2 539.8,407.4 540.4,406.6 541.1,405.8 541.7,405 542.3,404.2 542.9,403.5 543.6,402.7 544.2,401.9 544.9,401.2 545.5,400.4 546.1,399.6 546.8,398.9 547.4,398.1 548.1,397.3 548.7,396.6 549.4,395.8 550,395.1 550.7,394.3 551.4,393.6 552,392.8 552.7,392 553.3,391.3 554,390.5 554.7,389.8 555.3,389 556,388.3 556.6,387.5 557.3,386.8 558,386.1 558.7,385.3 559.3,384.6 560,383.8 560.7,383.1 561.4,382.4 562,381.6 562.7,380.9 563.4,380.2 564.1,379.5 564.8,378.7 565.5,378 566.2,377.3 566.8,376.5 567.5,375.8 568.2,375.1 568.9,374.4 569.6,373.6 570.3,372.9 571,372.2 571.7,371.5 572.3,370.7 573,370 573.7,369.3 574.4,368.5 575.1,367.8 575.8,367.1 576.4,366.3 577.1,365.6 577.8,364.9 578.5,364.1 579.1,363.4 579.8,362.6 580.5,361.9 581.2,361.2 581.9,360.5 582.5,359.7 583.2,359 583.9,358.3 584.6,357.6 585.3,356.9 586.1,356.2 586.8,355.5 587.5,354.8 588.2,354.1 589,353.5 589.7,352.8 590.5,352.1 591.3,351.5 592,350.9 592.8,350.2 593.6,349.6 594.4,349 595.2,348.3 595.9,347.7 596.7,347.1 597.5,346.4 598.2,345.8 599,345.1 599.7,344.5 600.5,343.8 601.2,343.1 602,342.5 602.7,341.8 603.5,341.2 604.2,340.5 605,339.8 605.7,339.2 606.5,338.5 607.3,337.9 608,337.2 608.8,336.6 609.6,336 610.3,335.3 611.1,334.7 611.9,334.1 612.7,333.5 613.5,332.8 614.3,332.2 615,331.6 615.8,331 616.6,330.3 617.4,329.7 618.1,329.1 618.9,328.4 619.7,327.8 620.4,327.1 621.1,326.4 621.9,325.8 622.6,325.1 623.4,324.4 624.1,323.8 624.9,323.1 625.6,322.5 626.4,321.8 627.2,321.2 628,320.6 628.8,320 629.6,319.4 630.4,318.8 631.2,318.2 632,317.6 632.8,317 633.6,316.4 634.4,315.8 635.1,315.1 635.9,314.5 636.6,313.8 637.4,313.1 638.1,312.4 638.9,311.8 639.6,311.1 640.4,310.5 641.2,309.9 642,309.3 642.8,308.7 643.6,308.1 644.4,307.5 645.3,307 646.1,306.4 646.9,305.8 647.7,305.3 648.5,304.7 649.3,304.1 650.2,303.5 651,302.9 651.8,302.3 652.6,301.7 653.4,301.2 654.2,300.6 655,300 655.8,299.4 656.6,298.8 657.4,298.2 658.2,297.6 659,297 659.8,296.4 660.6,295.7 661.4,295.1 662.2,294.5 662.9,293.9 663.7,293.3 664.5,292.6 665.2,292 666,291.3 666.7,290.6 667.4,289.9 668.1,289.2 668.9,288.5 669.6,287.9 670.4,287.3 671.3,286.7 672.1,286.1 672.9,285.6 673.8,285.1 674.6,284.5 675.5,284 676.3,283.5 677.2,283 678,282.5 678.9,281.9 679.7,281.4 680.6,280.9 681.4,280.3 682.2,279.7 683,279.1 683.8,278.5 684.6,277.9 685.4,277.3 686.2,276.7 686.9,276 687.7,275.4 688.5,274.7 689.3,274.1 690,273.5 690.8,272.8 691.6,272.2 692.4,271.6 693.2,271 694,270.4 694.8,269.8 695.6,269.3 696.5,268.7 697.3,268.2 698.2,267.7 699,267.2 699.9,266.7 700.8,266.3 701.7,265.8 702.6,265.4 703.5,265 704.4,264.6 705.3,264.1 706.3,263.7 707.2,263.3 708.1,262.9 709,262.5 709.9,262.1 710.8,261.7 711.7,261.2 712.6,260.8 713.5,260.3 714.4,259.9 715.3,259.4 716.1,258.9 717,258.4 717.9,257.9 718.7,257.4 719.6,256.9 720.4,256.3 721.3,255.8 722.1,255.3 723,254.8 723.9,254.3 724.8,253.9 725.7,253.4 726.6,253 727.5,252.6 728.4,252.2 729.3,251.8 730.3,251.5 731.2,251.2 732.2,250.9 733.2,250.7 734.1,250.4 735.1,250.2 736.1,250 737.1,249.8 738,249.5 739,249.3 740,249.1 741,248.9 741.9,248.6 742.9,248.4 743.9,248.1 744.8,247.9 745.8,247.6 746.7,247.3 747.7,247 748.7,246.7 749.6,246.4 750.6,246.1 751.5,245.8 752.5,245.5 753.4,245.1 754.4,244.8 755.3,244.5 756.3,244.2 757.2,243.9 758.2,243.6 759.1,243.4 760.1,243.2 761.1,243 762.1,242.8 763.1,242.6 764.1,242.4 765,242.2 766,242.1 767,241.9 768,241.7 769,241.6 770,241.5 771,241.3 772,241.2 773,241.1 773.9,241 774.9,240.9 775.9,240.8 776.9,240.8 777.9,240.7 778.9,240.7 779.9,240.7 780.9,240.7 781.9,240.7 782.9,240.8 783.9,240.9 784.9,240.9 785.9,241 786.9,241.1 787.9,241.2 788.9,241.3 789.9,241.4 790.9,241.6 791.9,241.7 792.9,241.8 793.9,241.9 794.9,242 795.9,242.2 796.9,242.3 797.9,242.4 798.9,242.5 799.8,242.5 800.8,242.6 801.8,242.7 802.8,242.8 803.8,242.8 804.8,242.9 805.8,243 806.8,243 807.8,243.1 808.8,243.2 809.8,243.3 810.8,243.3 811.8,243.4 812.8,243.5 813.8,243.5 814.8,243.6 815.8,243.7 816.8,243.8 817.8,243.9 818.8,244 819.8,244.1 820.8,244.2 821.8,244.3 822.8,244.4 823.8,244.6 824.8,244.7 825.7,244.8 826.7,245 827.7,245.1 828.7,245.3 829.7,245.4 830.7,245.6 831.7,245.7 832.7,245.9 833.7,246 834.6,246.2 835.6,246.3 836.6,246.4 837.6,246.6 838.6,246.7 839.6,246.8 840.6,246.9 841.6,247 842.6,247.1 843.6,247.2 844.6,247.3 845.6,247.4 846.6,247.4 847.6,247.5 848.6,247.6 849.6,247.7 850.6,247.8 851.6,247.9 852.6,247.9 853.6,248 854.6,248.1 855.6,248.2 856.5,248.3 857.5,248.4 858.5,248.5 859.5,248.6 860.5,248.7 861.5,248.8 862.5,248.9 863.5,249 864.5,249.2 865.5,249.3 866.5,249.4 867.5,249.5 868.5,249.6 869.5,249.6 870.5,249.6 871.5,249.6 872.5,249.5 873.5,249.4 874.5,249.3 875.5,249.1 876.4,249 877.4,248.8 878.4,248.7 879.4,248.6 880.4,248.5 881.4,248.3 882.4,248.2 883.4,248.1 884.4,248 885.4,247.9 886.4,247.8 887.4,247.7 888.4,247.6 889.4,247.5 890.4,247.5 891.4,247.4 892.4,247.4 893.4,247.3 894.4,247.3 895.4,247.2 896.4,247.2 897.4,247.2 898.4,247.1 899.4,247.1 900.4,247.1 901.4,247 902.4,247 903.4,246.9 904.4,246.8 905.4,246.8 906.3,246.7 907.3,246.6 908.3,246.4 909.3,246.2 910.3,246.1 911.3,245.9 912.3,245.7 913.2,245.5 914.2,245.3 915.2,245.1 916.2,245 917.2,244.8 918.2,244.7 919.2,244.6 920.2,244.5 921.2,244.4 922.2,244.4 923.2,244.3 924.2,244.2 925.2,244.2 926.2,244.1 927.2,244.1 928.2,244 929.2,244 930.2,243.9 931.2,243.9 932.2,243.9 933.2,243.8 934.2,243.8 935.2,243.8 936.2,243.8 937.2,243.8 938.2,243.8 939.2,243.9 940.2,243.9 941.2,244 942.2,244 943.2,244.1 944.1,244.1 945.1,244.2 946.1,244.3 947.1,244.4 948.1,244.5 949.1,244.6 950.1,244.6 951.1,244.7 952.1,244.8 953.1,244.9 954.1,245 955.1,245.1 956.1,245.2 957.1,245.3 958.1,245.5 959.1,245.6 960.1,245.7 961.1,245.9 962.1,246 963,246.1 964,246.3 965,246.4 966,246.6 967,246.7 968,246.8 969,246.9 970,247 971,247.1 972,247.2 973,247.3 974,247.4 975,247.5 976,247.6 977,247.7 978,247.8 978.9,247.9 979.9,248.1 980.9,248.2 981.9,248.4 982.9,248.5 983.9,248.7 984.9,248.9 985.8,249.2 986.8,249.5 987.7,249.8 988.7,250.1 989.6,250.5 990.5,250.9 991.5,251.2 992.4,251.6 993.3,252 994.2,252.4 995.2,252.8 996.1,253.1 997,253.5 997.9,253.9 998.9,254.2 999.8,254.6 1000.8,254.9 1001.7,255.2 1002.7,255.6 1003.6,255.9 1004.5,256.2 1005.5,256.6 1006.4,256.9 1007.4,257.2 1008.3,257.6 1009.2,257.9 1010.2,258.3 1011.1,258.6 1012,259 1013,259.4 1013.9,259.8 1014.8,260.2 1015.7,260.6 1016.6,261 1017.5,261.5 1018.4,262 1019.3,262.4 1020.2,262.9 1021,263.4 1021.9,263.9 1022.8,264.4 1023.6,264.9 1024.5,265.4 1025.4,265.9 1026.2,266.4 1027.1,266.9 1028,267.4 1028.8,267.9 1029.7,268.4 1030.6,268.8 1031.5,269.3 1032.4,269.8 1033.3,270.2 1034.1,270.7 1035,271.1 1035.9,271.6 1036.8,272 1037.7,272.5 1038.6,272.9 1039.5,273.4 1040.4,273.8 1041.3,274.3 1042.2,274.7 1043.1,275.1 1044,275.6 1044.9,276 1045.8,276.5 1046.7,277 1047.5,277.4 1048.4,277.9 1049.3,278.4 1050.2,278.8 1051.1,279.3 1052,279.7 1052.9,280.2 1053.7,280.7 1054.6,281.2 1055.5,281.6 1056.4,282.1 1057.3,282.6 1058.1,283.1 1059,283.5 1059.9,284 1060.8,284.5 1061.6,285 1062.5,285.5 1063.4,286 1064.3,286.5 1065.1,286.9 1066,287.5 1066.9,288 1067.7,288.5 1068.6,289 1069.4,289.5 1070.3,290.1 1071.1,290.6 1072,291.1 1072.8,291.6 1073.7,292.2 1074.5,292.7 1075.4,293.2 1076.2,293.7 1077.1,294.2 1078,294.7 1078.8,295.2 1079.7,295.7 1080.6,296.1 1081.5,296.6 1082.4,297.1 1083.3,297.5 1084.2,297.9 1085.1,298.3 1086,298.7 1086.9,299.1 1087.9,299.5 1088.8,299.9 1089.7,300.3 1090.6,300.7 1091.5,301.1 1092.4,301.5 1093.3,302 1094.2,302.4 1095.1,302.8 1096,303.3 1096.9,303.8 1097.8,304.3 1098.6,304.8 1099.5,305.3 1100.3,305.8 1101.2,306.4 1102,307 1102.8,307.5 1103.6,308.1 1104.4,308.7 1105.2,309.3 1106,309.9 1106.8,310.5 1107.6,311.1 1108.4,311.7 1109.2,312.3 1110,312.9 1110.8,313.6 1111.6,314.2 1112.4,314.8 1113.2,315.4 1114,316 1114.8,316.6 1115.6,317.2 1116.3,317.8 1117.1,318.4 1117.9,319 1118.7,319.7 1119.5,320.3 1120.3,320.9 1121.1,321.5 1121.8,322.2 1122.6,322.8 1123.4,323.4 1124.2,324.1 1124.9,324.7 1125.7,325.3 1126.5,325.9 1127.3,326.5 1128.1,327.1 1128.9,327.7 1129.7,328.3 1130.6,328.9 1131.4,329.4 1132.2,330 1133.1,330.5 1133.9,331 1134.8,331.5 1135.6,332.1 1136.5,332.6 1137.4,333.1 1138.2,333.5 1139.1,334 1140,334.5 1140.9,335 1141.8,335.4 1142.7,335.9 1143.6,336.4 1144.4,336.8 1145.3,337.2 1146.3,337.7 1147.2,338.1 1148.1,338.5 1149,338.9 1149.9,339.3" fill="none" stroke="#0000ff" stroke-width="9" stroke-linejoin="round" stroke-linecap="round"/>
<path d="M316.5 1085.9L325.5 1070.3L307.5 1070.3zM323.6 1020.3L332.6 1004.7L314.6 1004.7zM335.8 960.5L344.8 945L326.8 945zM348.1 903.9L357.1 888.3L339.1 888.3zM364.6 842L373.6 826.4L355.6 826.4zM383.1 770.4L392.1 754.8L374.1 754.8zM403.6 701.3L412.6 685.8L394.6 685.8zM426.6 628.9L435.6 613.4L417.6 613.4zM451.2 566.6L460.2 551L442.2 551zM477.3 510.5L486.3 494.9L468.3 494.9zM503 467.6L512 452L494 452zM528.9 433.3L537.9 417.7L519.9 417.7zM552 403.2L561 387.6L543 387.6zM573 380.4L582 364.8L564 364.8zM591.3 361.9L600.3 346.3L582.3 346.3zM608 347.6L617 332L599 332zM626.4 332.2L635.4 316.6L617.4 316.6zM648.5 315.1L657.5 299.5L639.5 299.5zM665.2 302.4L674.2 286.8L656.2 286.8zM681.4 290.7L690.4 275.1L672.4 275.1zM697.3 278.6L706.3 263L688.3 263zM713.5 270.7L722.5 255.2L704.5 255.2zM729.3 262.2L738.3 246.6L720.3 246.6zM746.7 257.7L755.7 242.1L737.7 242.1zM762.1 253.2L771.1 237.6L753.1 237.6zM777.9 251.1L786.9 235.5L768.9 235.5zM793.9 252.3L802.9 236.7L784.9 236.7zM809.8 253.6L818.8 238.1L800.8 238.1zM825.7 255.2L834.7 239.6L816.7 239.6zM842.6 257.5L851.6 241.9L833.6 241.9zM857.5 258.8L866.5 243.2L848.5 243.2zM873.5 259.8L882.5 244.2L864.5 244.2zM889.4 257.9L898.4 242.3L880.4 242.3zM905.4 257.2L914.4 241.6L896.4 241.6zM921.2 254.8L930.2 239.2L912.2 239.2zM936.2 254.2L945.2 238.6L927.2 238.6zM952.1 255.2L961.1 239.6L943.1 239.6zM968 257.2L977 241.6L959 241.6zM982.9 258.9L991.9 243.3L973.9 243.3zM998.9 264.6L1007.9 249L989.9 249zM1014.8 270.6L1023.8 255L1005.8 255zM1030.6 279.2L1039.6 263.6L1021.6 263.6zM1047.5 287.8L1056.5 272.2L1038.5 272.2zM1064.3 296.8L1073.3 281.3L1055.3 281.3zM1080.6 306.5L1089.6 291L1071.6 291zM1097.8 314.7L1106.8 299.1L1088.8 299.1zM1115.6 327.6L1124.6 312L1106.6 312zM1132.2 340.4L1141.2 324.8L1123.2 324.8zM1149.9 349.7L1158.9 334.1L1140.9 334.1z" fill="#0000ff"/>
<polyline points="316.5,1075.5 316.3,1074.5 316.1,1073.5 316,1072.5 315.8,1071.6 315.6,1070.6 315.4,1069.6 315.3,1068.6 315.1,1067.6 314.9,1066.6 314.8,1065.6 314.6,1064.7 314.5,1063.7 314.4,1062.7 314.3,1061.7 314.2,1060.7 314.1,1059.7 314,1058.7 313.9,1057.7 313.9,1056.7 313.8,1055.7 313.8,1054.7 313.8,1053.7 313.7,1052.7 313.7,1051.7 313.7,1050.7 313.7,1049.7 313.7,1048.7 313.7,1047.7 313.6,1046.7 313.6,1045.7 313.6,1044.7 313.6,1043.7 313.6,1042.7 313.6,1041.7 313.6,1040.7 313.5,1039.7 313.5,1038.7 313.5,1037.7 313.5,1036.7 313.5,1035.7 313.5,1034.7 313.5,1033.7 313.5,1032.7 313.5,1031.7 313.5,1030.7 313.5,1029.7 313.5,1028.7 313.6,1027.7 313.6,1026.7 313.7,1025.7 313.8,1024.7 313.9,1023.7 314,1022.7 314.2,1021.7 314.3,1020.7 314.5,1019.7 314.6,1018.7 314.8,1017.8 314.9,1016.8 315.1,1015.8 315.2,1014.8 315.4,1013.8 315.5,1012.8 315.7,1011.8 315.8,1010.8 315.9,1009.8 316,1008.8 316.1,1007.8 316.2,1006.8 316.3,1005.8 316.3,1004.9 316.4,1003.9 316.5,1002.9 316.6,1001.9 316.7,1000.9 316.7,999.9 316.8,998.9 316.9,997.9 316.9,996.9 317,995.9 317.1,994.9 317.1,993.9 317.2,992.9 317.3,991.9 317.3,990.9 317.4,989.9 317.5,988.9 317.5,987.9 317.6,986.9 317.6,985.9 317.7,984.9 317.8,983.9 317.8,982.9 317.9,981.9 318,980.9 318,979.9 318.1,978.9 318.2,977.9 318.2,976.9 318.3,975.9 318.4,974.9 318.5,973.9 318.5,972.9 318.6,971.9 318.7,970.9 318.8,969.9 318.8,968.9 318.9,967.9 319,966.9 319,965.9 319.1,964.9 319.2,963.9 319.3,962.9 319.3,961.9 319.4,960.9 319.5,959.9 319.6,958.9 319.6,957.9 319.7,956.9 319.8,955.9 319.9,955 319.9,954 320,953 320.1,952 320.2,951 320.3,950 320.4,949 320.4,948 320.5,947 320.6,946 320.7,945 320.8,944 320.9,943 321,942 321.1,941 321.2,940 321.3,939 321.4,938 321.5,937 321.6,936 321.7,935 321.8,934 322,933 322.1,932.1 322.2,931.1 322.3,930.1 322.4,929.1 322.6,928.1 322.7,927.1 322.8,926.1 322.9,925.1 323.1,924.1 323.2,923.1 323.3,922.1 323.4,921.1 323.6,920.1 323.7,919.1 323.8,918.2 324,917.2 324.1,916.2 324.3,915.2 324.4,914.2 324.5,913.2 324.7,912.2 324.8,911.2 324.9,910.2 325,909.2 325.2,908.2 325.3,907.2 325.4,906.3 325.5,905.3 325.7,904.3 325.8,903.3 325.9,902.3 326,901.3 326.1,900.3 326.2,899.3 326.3,898.3 326.4,897.3 326.5,896.3 326.6,895.3 326.7,894.3 326.8,893.3 326.9,892.3 327.1,891.3 327.2,890.3 327.3,889.3 327.4,888.4 327.5,887.4 327.6,886.4 327.7,885.4 327.8,884.4 327.9,883.4 328,882.4 328.1,881.4 328.2,880.4 328.3,879.4 328.4,878.4 328.5,877.4 328.6,876.4 328.7,875.4 328.9,874.4 329,873.4 329.1,872.4 329.2,871.4 329.3,870.4 329.4,869.5 329.5,868.5 329.6,867.5 329.7,866.5 329.8,865.5 329.9,864.5 330,863.5 330.1,862.5 330.3,861.5 330.4,860.5 330.5,859.5 330.6,858.5 330.7,857.5 330.8,856.5 330.9,855.5 331,854.5 331.1,853.5 331.2,852.5 331.4,851.6 331.5,850.6 331.6,849.6 331.7,848.6 331.8,847.6 331.9,846.6 332.1,845.6 332.2,844.6 332.3,843.6 332.4,842.6 332.5,841.6 332.6,840.6 332.8,839.6 332.9,838.6 333,837.6 333.1,836.6 333.2,835.7 333.4,834.7 333.5,833.7 333.6,832.7 333.7,831.7 333.8,830.7 334,829.7 334.1,828.7 334.2,827.7 334.3,826.7 334.5,825.7 334.6,824.7 334.7,823.7 334.9,822.7 335,821.8 335.1,820.8 335.2,819.8 335.4,818.8 335.5,817.8 335.6,816.8 335.8,815.8 335.9,814.8 336.1,813.8 336.2,812.8 336.3,811.8 336.5,810.9 336.6,809.9 336.8,808.9 336.9,807.9 337.1,806.9 337.2,805.9 337.4,804.9 337.6,803.9 337.7,803 337.9,802 338.1,801 338.3,800 338.5,799 338.6,798 338.8,797 339,796.1 339.2,795.1 339.4,794.1 339.6,793.1 339.7,792.1 339.9,791.1 340.1,790.2 340.3,789.2 340.5,788.2 340.7,787.2 340.8,786.2 341,785.2 341.2,784.3 341.4,783.3 341.5,782.3 341.7,781.3 341.9,780.3 342,779.3 342.2,778.3 342.3,777.3 342.5,776.4 342.6,775.4 342.8,774.4 342.9,773.4 343,772.4 343.1,771.4 343.2,770.4 343.3,769.4 343.4,768.4 343.6,767.4 343.7,766.4 343.8,765.4 343.9,764.4 344,763.4 344.1,762.4 344.2,761.5 344.3,760.5 344.5,759.5 344.6,758.5 344.8,757.5 344.9,756.5 345.1,755.5 345.2,754.5 345.4,753.5 345.6,752.6 345.8,751.6 346,750.6 346.2,749.6 346.4,748.6 346.6,747.6 346.8,746.7 347,745.7 347.2,744.7 347.4,743.7 347.6,742.8 347.8,741.8 348,740.8 348.3,739.8 348.5,738.9 348.7,737.9 348.9,736.9 349.1,735.9 349.3,734.9 349.6,734 349.8,733 350,732 350.2,731 350.4,730 350.6,729.1 350.8,728.1 351,727.1 351.1,726.1 351.3,725.1 351.5,724.2 351.7,723.2 351.9,722.2 352.1,721.2 352.3,720.2 352.5,719.2 352.7,718.3 352.9,717.3 353,716.3 353.2,715.3 353.4,714.3 353.6,713.4 353.8,712.4 354,711.4 354.2,710.4 354.3,709.4 354.5,708.4 354.7,707.5 354.9,706.5 355.1,705.5 355.3,704.5 355.4,703.5 355.6,702.5 355.8,701.5 356,700.6 356.1,699.6 356.3,698.6 356.5,697.6 356.7,696.6 356.8,695.6 357,694.6 357.2,693.7 357.3,692.7 357.5,691.7 357.7,690.7 357.8,689.7 358,688.7 358.2,687.7 358.3,686.8 358.5,685.8 358.7,684.8 358.9,683.8 359.1,682.8 359.2,681.8 359.4,680.9 359.6,679.9 359.8,678.9 360,677.9 360.2,676.9 360.4,676 360.6,675 360.9,674 361.1,673 361.3,672 361.5,671.1 361.7,670.1 362,669.1 362.2,668.1 362.4,667.2 362.6,666.2 362.9,665.2 363.1,664.3 363.3,663.3 363.6,662.3 363.8,661.3 364.1,660.4 364.3,659.4 364.5,658.4 364.8,657.4 365,656.5 365.2,655.5 365.5,654.5 365.7,653.6 366,652.6 366.2,651.6 366.4,650.6 366.7,649.7 366.9,648.7 367.1,647.7 367.4,646.8 367.6,645.8 367.8,644.8 368.1,643.8 368.3,642.9 368.6,641.9 368.8,640.9 369,640 369.3,639 369.5,638 369.8,637 370,636.1 370.2,635.1 370.5,634.1 370.7,633.2 371,632.2 371.2,631.2 371.4,630.2 371.7,629.3 371.9,628.3 372.1,627.3 372.4,626.3 372.6,625.4 372.8,624.4 373,623.4 373.3,622.4 373.5,621.5 373.7,620.5 373.9,619.5 374.2,618.5 374.4,617.6 374.6,616.6 374.8,615.6 375.1,614.6 375.3,613.7 375.5,612.7 375.7,611.7 376,610.7 376.2,609.8 376.4,608.8 376.7,607.8 376.9,606.9 377.1,605.9 377.3,604.9 377.6,603.9 377.8,603 378,602 378.3,601 378.5,600 378.7,599.1 379,598.1 379.2,597.1 379.4,596.1 379.6,595.2 379.9,594.2 380.1,593.2 380.3,592.3 380.6,591.3 380.8,590.3 381.1,589.3 381.3,588.4 381.5,587.4 381.8,586.4 382,585.5 382.3,584.5 382.5,583.5 382.8,582.5 383,581.6 383.3,580.6 383.5,579.6 383.8,578.7 384,577.7 384.3,576.7 384.6,575.8 384.8,574.8 385.1,573.8 385.4,572.9 385.6,571.9 385.9,571 386.2,570 386.5,569 386.7,568.1 387,567.1 387.3,566.2 387.6,565.2 387.9,564.2 388.1,563.3 388.4,562.3 388.7,561.3 389,560.4 389.3,559.4 389.5,558.5 389.8,557.5 390.1,556.5 390.4,555.6 390.6,554.6 390.9,553.7 391.2,552.7 391.4,551.7 391.7,550.8 392,549.8 392.2,548.8 392.5,547.9 392.7,546.9 393,545.9 393.2,545 393.5,544 393.8,543 394,542.1 394.3,541.1 394.5,540.1 394.8,539.2 395.1,538.2 395.3,537.2 395.6,536.3 395.9,535.3 396.2,534.4 396.5,533.4 396.8,532.4 397.1,531.5 397.4,530.5 397.7,529.6 398,528.6 398.4,527.7 398.7,526.8 399.1,525.8 399.4,524.9 399.8,524 400.2,523 400.6,522.1 400.9,521.2 401.3,520.3 401.7,519.3 402,518.4 402.4,517.5 402.8,516.5 403.2,515.6 403.5,514.7 403.9,513.8 404.3,512.8 404.7,511.9 405.1,511 405.5,510.1 405.8,509.1 406.2,508.2 406.6,507.3 407,506.4 407.4,505.5 407.8,504.5 408.2,503.6 408.6,502.7 408.9,501.8 409.3,500.8 409.7,499.9 410.1,499 410.4,498.1 410.8,497.1 411.2,496.2 411.5,495.3 411.9,494.3 412.2,493.4 412.6,492.4 412.9,491.5 413.2,490.5 413.5,489.6 413.8,488.6 414.1,487.7 414.4,486.7 414.7,485.8 415.1,484.8 415.4,483.9 415.7,482.9 416,482 416.3,481 416.6,480.1 416.9,479.1 417.2,478.2 417.5,477.2 417.8,476.3 418.1,475.3 418.4,474.4 418.7,473.4 419,472.5 419.4,471.5 419.7,470.6 420,469.6 420.3,468.7 420.6,467.7 420.9,466.8 421.3,465.8 421.6,464.9 421.9,463.9 422.3,463 422.6,462.1 423,461.1 423.4,460.2 423.7,459.3 424.1,458.3 424.5,457.4 424.8,456.5 425.2,455.6 425.6,454.6 426,453.7 426.4,452.8 426.8,451.9 427.2,451 427.6,450.1 428.1,449.1 428.5,448.2 428.9,447.3 429.3,446.4 429.8,445.5 430.2,444.6 430.6,443.7 431.1,442.8 431.5,441.9 432,441 432.4,440.2 432.9,439.3 433.4,438.4 433.8,437.5 434.3,436.6 434.8,435.7 435.3,434.8 435.7,434 436.2,433.1 436.7,432.2 437.2,431.4 437.7,430.5 438.3,429.7 438.8,428.8 439.3,428 439.9,427.1 440.5,426.3 441,425.5 441.6,424.7 442.2,423.9 442.8,423 443.4,422.2 443.9,421.4 444.5,420.6 445.1,419.8 445.7,419 446.3,418.2 446.8,417.3 447.4,416.5 448,415.7 448.5,414.8 449,414 449.6,413.1 450.1,412.3 450.6,411.4 451.1,410.5 451.5,409.7 452,408.8 452.4,407.9 452.8,407 453.3,406.1 453.7,405.1 454.1,404.2 454.5,403.3 454.9,402.4 455.2,401.5 455.6,400.5 456,399.6 456.4,398.7 456.7,397.7 457.1,396.8 457.4,395.9 457.8,394.9 458.2,394 458.5,393.1 458.9,392.1 459.3,391.2 459.6,390.3 460,389.4 460.4,388.4 460.8,387.5 461.2,386.6 461.6,385.7 462,384.8 462.4,383.8 462.8,382.9 463.2,382 463.6,381.1 464,380.2 464.4,379.3 464.9,378.4 465.3,377.5 465.7,376.6 466.1,375.7 466.6,374.8 467,373.9 467.4,373 467.9,372.1 468.3,371.2 468.8,370.3 469.3,369.4 469.8,368.5 470.3,367.7 470.8,366.8 471.3,366 471.8,365.1 472.4,364.3 473,363.5 473.6,362.7 474.2,361.9 474.8,361.1 475.4,360.3 476.1,359.6 476.7,358.8 477.4,358 478.1,357.3 478.7,356.6 479.4,355.8 480.1,355.1 480.8,354.3 481.5,353.6 482.1,352.9 482.8,352.1 483.5,351.4 484.2,350.7 484.8,349.9 485.5,349.2 486.1,348.4 486.8,347.6 487.4,346.9 488,346.1 488.6,345.3 489.2,344.5 489.8,343.6 490.4,342.8 490.9,342 491.5,341.2 492,340.3 492.6,339.5 493.1,338.7 493.7,337.8 494.3,337 494.8,336.2 495.4,335.4 496,334.6 496.6,333.8 497.2,333 497.9,332.2 498.5,331.4 499.2,330.7 499.8,329.9 500.5,329.2 501.2,328.5 501.9,327.7 502.5,327 503.2,326.3 503.9,325.6 504.6,324.8 505.3,324.1 506.1,323.4 506.8,322.7 507.5,322 508.2,321.3 508.9,320.6 509.7,320 510.4,319.3 511.1,318.6 511.8,317.9 512.6,317.2 513.3,316.5 514,315.9 514.8,315.2 515.5,314.5 516.2,313.8 517,313.1 517.7,312.5 518.5,311.8 519.2,311.1 520,310.5 520.7,309.8 521.5,309.2 522.2,308.5 523,307.9 523.8,307.2 524.5,306.6 525.3,305.9 526.1,305.3 526.8,304.7 527.6,304 528.4,303.4 529.2,302.8 529.9,302.1 530.7,301.5 531.5,300.9 532.3,300.3 533.1,299.6 533.8,299 534.6,298.4 535.4,297.8 536.2,297.2 537,296.6 537.8,296 538.6,295.4 539.4,294.8 540.2,294.2 541,293.6 541.8,293 542.7,292.4 543.5,291.8 544.3,291.2 545.1,290.6 545.9,290.1 546.7,289.5 547.5,288.9 548.3,288.3 549.1,287.7 549.9,287.1 550.7,286.5 551.5,285.9 552.3,285.3 553.1,284.7 553.9,284.1 554.7,283.4 555.5,282.8 556.2,282.2 557,281.6 557.8,280.9 558.6,280.3 559.4,279.7 560.2,279.1 561,278.5 561.8,277.9 562.6,277.3 563.4,276.7 564.2,276.2 565.1,275.6 565.9,275.1 566.8,274.6 567.6,274 568.5,273.5 569.3,273 570.2,272.5 571.1,272 572,271.5 572.8,271.1 573.7,270.6 574.6,270.1 575.5,269.6 576.3,269.2 577.2,268.7 578.1,268.2 579,267.7 579.9,267.3 580.8,266.8 581.6,266.3 582.5,265.9 583.4,265.4 584.3,265 585.2,264.5 586.1,264.1 587,263.7 587.9,263.3 588.8,262.8 589.8,262.4 590.7,262.1 591.6,261.7 592.5,261.3 593.5,261 594.4,260.6 595.4,260.3 596.3,259.9 597.2,259.6 598.2,259.2 599.1,258.9 600.1,258.5 601,258.2 601.9,257.8 602.8,257.4 603.8,257.1 604.7,256.7 605.6,256.3 606.5,255.9 607.5,255.5 608.4,255.1 609.3,254.7 610.2,254.3 611.1,253.9 612.1,253.5 613,253.1 613.9,252.7 614.8,252.3 615.7,251.9 616.6,251.5 617.5,251.1 618.5,250.7 619.4,250.3 620.3,249.9 621.2,249.4 622.1,249 623,248.6 623.9,248.2 624.9,247.8 625.8,247.5 626.7,247.1 627.6,246.7 628.5,246.3 629.5,245.9 630.4,245.5 631.3,245.1 632.2,244.8 633.2,244.4 634.1,244.1 635.1,243.9 636.1,243.7 637.1,243.5 638,243.3 639,243.1 640,243 641,242.9 642,242.7 643,242.6 644,242.5 645,242.4 646,242.3 647,242.2 648,242.1 649,242 650,241.9 651,241.8 652,241.6 652.9,241.5 653.9,241.4 654.9,241.2 655.9,241 656.9,240.9 657.9,240.7 658.8,240.4 659.8,240.1 660.8,239.8 661.7,239.5 662.6,239.1 663.6,238.8 664.5,238.4 665.4,238 666.3,237.5 667.2,237.1 668.1,236.7 669,236.3 669.9,235.9 670.8,235.4 671.8,235 672.7,234.6 673.6,234.2 674.5,233.8 675.4,233.5 676.4,233.2 677.3,232.8 678.3,232.6 679.3,232.3 680.2,232.1 681.2,231.8 682.2,231.6 683.2,231.4 684.1,231.2 685.1,231 686.1,230.8 687.1,230.6 688.1,230.5 689.1,230.4 690.1,230.2 691.1,230.1 692.1,230.1 693.1,230 694.1,229.9 695.1,229.9 696.1,229.8 697.1,229.7 698,229.6 699,229.5 700,229.4 701,229.2 702,229 702.9,228.7 703.9,228.4 704.8,228 705.8,227.6 706.7,227.3 707.6,226.9 708.6,226.6 709.5,226.3 710.5,226.1 711.5,225.9 712.5,225.7 713.5,225.6 714.5,225.5 715.4,225.3 716.4,225.2 717.4,225 718.4,224.9 719.4,224.8 720.4,224.6 721.4,224.4 722.4,224.2 723.3,223.9 724.3,223.7 725.2,223.4 726.2,223.1 727.1,222.8 728.1,222.5 729.1,222.2 730,221.9 731,221.7 732,221.5 733,221.3 734,221.2 734.9,221 735.9,220.9 736.9,220.8 737.9,220.7 738.9,220.6 739.9,220.5 740.9,220.4 741.9,220.3 742.9,220.1 743.9,220 744.9,219.8 745.9,219.7 746.9,219.5 747.8,219.4 748.8,219.2 749.8,219.1 750.8,218.9 751.8,218.8 752.8,218.6 753.8,218.5 754.8,218.3 755.7,218.1 756.7,218 757.7,217.8 758.7,217.6 759.7,217.4 760.7,217.3 761.7,217.1 762.6,216.9 763.6,216.8 764.6,216.6 765.6,216.4 766.6,216.2 767.6,216 768.5,215.8 769.5,215.6 770.5,215.4 771.5,215.2 772.5,215 773.4,214.8 774.4,214.6 775.4,214.4 776.4,214.2 777.4,214 778.4,213.8 779.3,213.6 780.3,213.4 781.3,213.2 782.3,213.1 783.3,212.9 784.2,212.7 785.2,212.5 786.2,212.4 787.2,212.2 788.2,212 789.2,211.8 790.2,211.7 791.1,211.5 792.1,211.3 793.1,211.2 794.1,211 795.1,210.9 796.1,210.7 797.1,210.5 798.1,210.4 799,210.2 800,210 801,209.9 802,209.7 803,209.5 804,209.4 805,209.2 806,209 806.9,208.9 807.9,208.7 808.9,208.5 809.9,208.3 810.9,208.1 811.9,207.9 812.8,207.7 813.8,207.6 814.8,207.4 815.8,207.2 816.8,207 817.7,206.8 818.7,206.6 819.7,206.5 820.7,206.3 821.7,206.1 822.7,206 823.7,205.8 824.7,205.7 825.6,205.5 826.6,205.4 827.6,205.3 828.6,205.1 829.6,205 830.6,204.9 831.6,204.8 832.6,204.7 833.6,204.6 834.6,204.5 835.6,204.4 836.6,204.3 837.6,204.2 838.6,204.2 839.6,204.1 840.6,204 841.6,203.9 842.6,203.8 843.6,203.7 844.6,203.6 845.6,203.5 846.5,203.4 847.5,203.3 848.5,203.2 849.5,203.1 850.5,203 851.5,202.9 852.5,202.8 853.5,202.7 854.5,202.6 855.5,202.5 856.5,202.4 857.5,202.2 858.5,202.1 859.5,202 860.5,201.9 861.5,201.8 862.5,201.7 863.5,201.6 864.5,201.5 865.4,201.4 866.4,201.3 867.4,201.2 868.4,201.1 869.4,201 870.4,201 871.4,200.9 872.4,200.8 873.4,200.7 874.4,200.7 875.4,200.6 876.4,200.5 877.4,200.5 878.4,200.4 879.4,200.4 880.4,200.3 881.4,200.2 882.4,200.2 883.4,200.1 884.4,200.1 885.4,200 886.4,200 887.4,199.9 888.4,199.8 889.4,199.8 890.4,199.7 891.4,199.7 892.4,199.6 893.4,199.5 894.4,199.5 895.4,199.4 896.4,199.3 897.4,199.2 898.4,199.1 899.4,199 900.4,198.9 901.4,198.8 902.4,198.7 903.4,198.7 904.4,198.6 905.4,198.5 906.4,198.4 907.4,198.3 908.3,198.3 909.3,198.2 910.3,198.1 911.3,198.1 912.3,198.1 913.3,198 914.3,198 915.3,198 916.3,198 917.3,198 918.3,198 919.3,198.1 920.3,198.1 921.3,198.2 922.3,198.2 923.3,198.3 924.3,198.4 925.3,198.4 926.3,198.5 927.3,198.6 928.3,198.7 929.3,198.8 930.3,198.8 931.3,198.9 932.3,199 933.3,199.1 934.3,199.1 935.3,199.2 936.3,199.3 937.3,199.3 938.3,199.4 939.3,199.4 940.3,199.4 941.3,199.5 942.3,199.5 943.3,199.5 944.3,199.6 945.3,199.6 946.3,199.6 947.3,199.6 948.3,199.7 949.3,199.7 950.3,199.7 951.3,199.7 952.3,199.8 953.3,199.8 954.3,199.8 955.3,199.8 956.3,199.9 957.3,199.9 958.3,199.9 959.3,199.9 960.3,199.9 961.3,200 962.3,200 963.3,200 964.3,200 965.3,200 966.3,200 967.3,200.1 968.3,200.1 969.3,200.1 970.3,200.1 971.3,200.1 972.3,200.1 973.3,200.1 974.3,200.2 975.3,200.2 976.3,200.2 977.3,200.2 978.3,200.2 979.3,200.2 980.3,200.2 981.3,200.3 982.3,200.3 983.3,200.3 984.3,200.3 985.3,200.3 986.3,200.4 987.3,200.4 988.3,200.4 989.3,200.5 990.3,200.5 991.3,200.6 992.3,200.7 993.3,200.8 994.3,200.9 995.3,201 996.3,201.1 997.3,201.3 998.3,201.4 999.3,201.6 1000.3,201.7 1001.2,201.9 1002.2,202 1003.2,202.2 1004.2,202.4 1005.2,202.5 1006.2,202.7 1007.2,202.9 1008.1,203.1 1009.1,203.2 1010.1,203.4 1011.1,203.6 1012.1,203.8 1013.1,203.9 1014.1,204.1 1015,204.2 1016,204.4 1017,204.5 1018,204.7 1019,204.9 1020,205 1021,205.2 1022,205.3 1022.9,205.5 1023.9,205.7 1024.9,205.8 1025.9,206 1026.9,206.2 1027.9,206.4 1028.9,206.6 1029.8,206.8 1030.8,206.9 1031.8,207.1 1032.8,207.4 1033.8,207.6 1034.7,207.8 1035.7,208 1036.7,208.2 1037.6,208.5 1038.6,208.7 1039.6,209 1040.5,209.3 1041.5,209.7 1042.4,210 1043.4,210.3 1044.3,210.7 1045.2,211.1 1046.2,211.4 1047.1,211.8 1048,212.1 1049,212.5 1049.9,212.8 1050.9,213.1 1051.8,213.4 1052.8,213.7 1053.8,213.9 1054.7,214.2 1055.7,214.5 1056.6,214.8 1057.6,215 1058.6,215.3 1059.5,215.6 1060.5,215.9 1061.4,216.2 1062.4,216.5 1063.3,216.9 1064.3,217.2 1065.2,217.5 1066.1,217.8 1067.1,218.2 1068,218.5 1069,218.9 1069.9,219.3 1070.8,219.6 1071.7,220 1072.7,220.4 1073.6,220.8 1074.5,221.3 1075.4,221.7 1076.3,222.1 1077.1,222.6 1078,223.1 1078.9,223.7 1079.7,224.2 1080.6,224.7 1081.4,225.3 1082.2,225.8 1083.1,226.3 1083.9,226.9 1084.8,227.4 1085.6,227.9 1086.5,228.4 1087.4,228.9 1088.3,229.4 1089.1,229.9 1090,230.4 1090.9,230.9 1091.8,231.3 1092.6,231.8 1093.5,232.3 1094.4,232.7 1095.3,233.2 1096.2,233.6 1097.1,234.1 1098,234.5" fill="none" stroke="#00ffff" stroke-width="9" stroke-linejoin="round" stroke-linecap="round"/>
<path d="M316.5 1066L325.9 1075.5L316.5 1085L307.1 1075.5zM313.5 1020.2L323 1029.7L313.5 1039.1L304.1 1029.7zM319.9 944.5L329.4 954L319.9 963.4L310.5 954zM325.5 895.8L335 905.3L325.5 914.7L316.1 905.3zM332.3 834.2L341.7 843.6L332.3 853.1L322.8 843.6zM342.8 764.9L352.2 774.4L342.8 783.8L333.3 774.4zM355.4 694.1L364.9 703.5L355.4 713L346 703.5zM371.7 619.8L381.1 629.3L371.7 638.7L362.2 629.3zM390.6 545.2L400.1 554.6L390.6 564.1L381.2 554.6zM412.6 483L422 492.4L412.6 501.9L403.1 492.4zM436.7 422.8L446.2 432.2L436.7 441.7L427.3 432.2zM462.4 374.4L471.8 383.8L462.4 393.3L452.9 383.8zM488 336.6L497.5 346.1L488 355.5L478.6 346.1zM514 306.4L523.5 315.9L514 325.3L504.6 315.9zM539.4 285.3L548.9 294.8L539.4 304.2L530 294.8zM564.2 266.7L573.7 276.2L564.2 285.6L554.8 276.2zM589.8 253L599.2 262.4L589.8 271.9L580.3 262.4zM612.1 244.1L621.5 253.5L612.1 263L602.6 253.5zM635.1 234.4L644.6 243.9L635.1 253.3L625.7 243.9zM656.9 231.4L666.3 240.9L656.9 250.3L647.4 240.9zM679.3 222.9L688.7 232.3L679.3 241.8L669.8 232.3zM700 220L709.5 229.4L700 238.9L690.6 229.4zM721.4 215L730.8 224.4L721.4 233.9L711.9 224.4zM741.9 210.8L751.4 220.3L741.9 229.7L732.5 220.3zM762.6 207.5L772.1 216.9L762.6 226.4L753.2 216.9zM783.3 203.4L792.7 212.9L783.3 222.3L773.8 212.9zM806 199.6L815.4 209L806 218.5L796.5 209zM826.6 195.9L836.1 205.4L826.6 214.8L817.2 205.4zM847.5 193.9L857 203.3L847.5 212.8L838.1 203.3zM869.4 191.6L878.9 201L869.4 210.5L860 201zM892.4 190.2L901.8 199.6L892.4 209.1L882.9 199.6zM915.3 188.6L924.8 198L915.3 207.5L905.9 198zM939.3 190L948.8 199.4L939.3 208.9L929.9 199.4zM963.3 190.5L972.8 200L963.3 209.4L953.9 200zM988.3 191L997.8 200.4L988.3 209.9L978.9 200.4zM1013.1 194.5L1022.5 203.9L1013.1 213.4L1003.6 203.9zM1037.6 199L1047.1 208.5L1037.6 217.9L1028.2 208.5zM1062.4 207.1L1071.8 216.5L1062.4 226L1052.9 216.5zM1085.6 218.5L1095.1 227.9L1085.6 237.4L1076.2 227.9z" fill="#00ffff"/>
<polyline points="316.5,1075.5 316.7,1074.5 316.9,1073.5 317,1072.5 317.2,1071.6 317.4,1070.6 317.5,1069.6 317.7,1068.6 317.8,1067.6 318,1066.6 318.1,1065.6 318.3,1064.6 318.4,1063.7 318.5,1062.7 318.7,1061.7 318.8,1060.7 318.9,1059.7 319,1058.7 319.1,1057.7 319.3,1056.7 319.4,1055.7 319.5,1054.7 319.6,1053.7 319.7,1052.7 319.8,1051.7 319.9,1050.7 320,1049.7 320.1,1048.8 320.2,1047.8 320.3,1046.8 320.4,1045.8 320.5,1044.8 320.6,1043.8 320.7,1042.8 320.8,1041.8 320.8,1040.8 320.9,1039.8 321,1038.8 321.1,1037.8 321.2,1036.8 321.3,1035.8 321.4,1034.8 321.6,1033.8 321.7,1032.8 321.9,1031.8 322,1030.9 322.2,1029.9 322.4,1028.9 322.6,1027.9 322.8,1026.9 323,1026 323.2,1025 323.5,1024 323.7,1023 323.9,1022.1 324.1,1021.1 324.4,1020.1 324.6,1019.1 324.8,1018.2 325,1017.2 325.2,1016.2 325.4,1015.2 325.6,1014.2 325.8,1013.3 326,1012.3 326.2,1011.3 326.3,1010.3 326.5,1009.3 326.7,1008.3 326.9,1007.4 327.1,1006.4 327.3,1005.4 327.5,1004.4 327.7,1003.4 327.9,1002.5 328.1,1001.5 328.3,1000.5 328.6,999.5 328.8,998.6 329.1,997.6 329.3,996.6 329.6,995.7 329.8,994.7 330.1,993.7 330.4,992.8 330.6,991.8 330.9,990.8 331.2,989.9 331.5,988.9 331.8,988 332,987 332.3,986 332.6,985.1 332.8,984.1 333.1,983.2 333.4,982.2 333.6,981.2 333.9,980.3 334.1,979.3 334.3,978.3 334.6,977.3 334.8,976.4 335,975.4 335.2,974.4 335.4,973.4 335.6,972.4 335.8,971.5 336,970.5 336.2,969.5 336.5,968.5 336.7,967.6 336.9,966.6 337.1,965.6 337.3,964.6 337.5,963.7 337.8,962.7 338,961.7 338.2,960.7 338.4,959.8 338.7,958.8 338.9,957.8 339.1,956.8 339.3,955.9 339.6,954.9 339.8,953.9 340,952.9 340.2,952 340.5,951 340.7,950 340.9,949 341.2,948.1 341.4,947.1 341.6,946.1 341.9,945.2 342.1,944.2 342.3,943.2 342.6,942.2 342.8,941.3 343,940.3 343.3,939.3 343.5,938.3 343.8,937.4 344,936.4 344.2,935.4 344.5,934.5 344.7,933.5 345,932.5 345.2,931.6 345.5,930.6 345.7,929.6 346,928.7 346.2,927.7 346.5,926.7 346.8,925.8 347,924.8 347.3,923.8 347.5,922.9 347.8,921.9 348.1,920.9 348.3,920 348.6,919 348.9,918 349.1,917.1 349.4,916.1 349.7,915.1 349.9,914.2 350.2,913.2 350.4,912.2 350.7,911.3 350.9,910.3 351.2,909.3 351.4,908.4 351.7,907.4 351.9,906.4 352.2,905.5 352.4,904.5 352.6,903.5 352.9,902.6 353.1,901.6 353.3,900.6 353.6,899.6 353.8,898.7 354,897.7 354.3,896.7 354.5,895.7 354.7,894.8 355,893.8 355.2,892.8 355.4,891.9 355.7,890.9 355.9,889.9 356.1,888.9 356.4,888 356.6,887 356.8,886 357.1,885 357.3,884.1 357.5,883.1 357.8,882.1 358,881.2 358.3,880.2 358.5,879.2 358.8,878.3 359,877.3 359.3,876.3 359.5,875.4 359.8,874.4 360,873.4 360.3,872.5 360.6,871.5 360.8,870.5 361.1,869.6 361.4,868.6 361.6,867.6 361.9,866.7 362.2,865.7 362.4,864.7 362.7,863.8 363,862.8 363.2,861.9 363.5,860.9 363.8,859.9 364.1,859 364.3,858 364.6,857 364.9,856.1 365.1,855.1 365.4,854.2 365.7,853.2 366,852.2 366.2,851.3 366.5,850.3 366.8,849.3 367,848.4 367.3,847.4 367.6,846.5 367.9,845.5 368.1,844.5 368.4,843.6 368.7,842.6 368.9,841.6 369.2,840.7 369.5,839.7 369.8,838.8 370,837.8 370.3,836.8 370.6,835.9 370.9,834.9 371.1,834 371.4,833 371.7,832 372,831.1 372.2,830.1 372.5,829.1 372.8,828.2 373.1,827.2 373.3,826.3 373.6,825.3 373.9,824.3 374.2,823.4 374.4,822.4 374.7,821.5 375,820.5 375.3,819.5 375.5,818.6 375.8,817.6 376.1,816.6 376.4,815.7 376.6,814.7 376.9,813.8 377.2,812.8 377.5,811.8 377.7,810.9 378,809.9 378.3,808.9 378.5,808 378.8,807 379.1,806.1 379.4,805.1 379.6,804.1 379.9,803.2 380.2,802.2 380.4,801.2 380.7,800.3 381,799.3 381.2,798.3 381.5,797.4 381.7,796.4 382,795.5 382.3,794.5 382.5,793.5 382.8,792.6 383.1,791.6 383.3,790.6 383.6,789.7 383.8,788.7 384.1,787.7 384.4,786.8 384.6,785.8 384.9,784.8 385.1,783.9 385.4,782.9 385.6,781.9 385.9,781 386.2,780 386.4,779 386.7,778.1 386.9,777.1 387.2,776.1 387.4,775.2 387.7,774.2 387.9,773.2 388.2,772.3 388.4,771.3 388.7,770.3 388.9,769.4 389.2,768.4 389.4,767.4 389.7,766.5 389.9,765.5 390.2,764.5 390.4,763.5 390.6,762.6 390.9,761.6 391.1,760.6 391.3,759.7 391.6,758.7 391.8,757.7 392,756.7 392.3,755.8 392.5,754.8 392.8,753.8 393,752.9 393.3,751.9 393.6,750.9 393.8,750 394.1,749 394.4,748 394.6,747.1 394.9,746.1 395.2,745.2 395.5,744.2 395.8,743.3 396.1,742.3 396.5,741.4 396.8,740.4 397.1,739.5 397.4,738.5 397.8,737.6 398.1,736.6 398.4,735.7 398.8,734.8 399.1,733.8 399.4,732.9 399.8,731.9 400.1,731 400.5,730.1 400.8,729.1 401.2,728.2 401.5,727.2 401.8,726.3 402.2,725.4 402.5,724.4 402.9,723.5 403.2,722.5 403.5,721.6 403.9,720.7 404.2,719.7 404.5,718.8 404.9,717.8 405.2,716.9 405.5,715.9 405.8,715 406.1,714 406.4,713.1 406.7,712.1 407,711.2 407.3,710.2 407.6,709.2 407.8,708.3 408.1,707.3 408.4,706.3 408.6,705.4 408.9,704.4 409.1,703.4 409.4,702.5 409.6,701.5 409.8,700.5 410.1,699.6 410.3,698.6 410.5,697.6 410.8,696.6 411,695.7 411.2,694.7 411.4,693.7 411.7,692.7 411.9,691.8 412.1,690.8 412.3,689.8 412.6,688.8 412.8,687.9 413,686.9 413.2,685.9 413.4,684.9 413.7,684 413.9,683 414.1,682 414.3,681 414.6,680.1 414.8,679.1 415,678.1 415.3,677.1 415.5,676.2 415.7,675.2 416,674.2 416.2,673.3 416.5,672.3 416.7,671.3 417,670.4 417.3,669.4 417.5,668.4 417.8,667.5 418.1,666.5 418.3,665.5 418.6,664.6 418.9,663.6 419.2,662.7 419.5,661.7 419.8,660.8 420.1,659.8 420.4,658.8 420.6,657.9 420.9,656.9 421.2,656 421.5,655 421.8,654.1 422.2,653.1 422.5,652.2 422.8,651.2 423.1,650.3 423.4,649.3 423.7,648.4 424,647.4 424.3,646.5 424.6,645.5 425,644.6 425.3,643.6 425.6,642.7 425.9,641.7 426.2,640.8 426.6,639.8 426.9,638.9 427.2,637.9 427.5,637 427.8,636 428.2,635.1 428.5,634.1 428.8,633.2 429.1,632.2 429.4,631.3 429.8,630.4 430.1,629.4 430.4,628.5 430.7,627.5 431,626.6 431.4,625.6 431.7,624.7 432,623.7 432.4,622.8 432.7,621.8 433,620.9 433.4,620 433.7,619 434,618.1 434.4,617.1 434.7,616.2 435.1,615.3 435.4,614.3 435.8,613.4 436.1,612.4 436.5,611.5 436.8,610.6 437.2,609.6 437.6,608.7 437.9,607.8 438.3,606.9 438.7,605.9 439.1,605 439.4,604.1 439.8,603.2 440.2,602.2 440.6,601.3 441,600.4 441.4,599.5 441.9,598.6 442.3,597.7 442.8,596.8 443.2,595.9 443.7,595.1 444.2,594.2 444.7,593.3 445.1,592.4 445.6,591.5 446.1,590.6 446.5,589.7 446.9,588.8 447.3,587.9 447.7,587 448.1,586.1 448.6,585.2 449,584.3 449.3,583.3 449.7,582.4 450.1,581.5 450.5,580.6 450.9,579.7 451.3,578.7 451.7,577.8 452.1,576.9 452.4,576 452.8,575 453.2,574.1 453.5,573.2 453.9,572.3 454.3,571.3 454.6,570.4 455,569.5 455.4,568.5 455.7,567.6 456.1,566.7 456.4,565.7 456.8,564.8 457.2,563.9 457.5,562.9 457.9,562 458.2,561 458.6,560.1 458.9,559.2 459.2,558.2 459.6,557.3 459.9,556.4 460.3,555.4 460.6,554.5 461,553.5 461.3,552.6 461.6,551.7 462,550.7 462.3,549.8 462.7,548.8 463,547.9 463.3,546.9 463.7,546 464,545.1 464.3,544.1 464.7,543.2 465,542.2 465.4,541.3 465.7,540.4 466,539.4 466.4,538.5 466.7,537.5 467.1,536.6 467.4,535.7 467.7,534.7 468.1,533.8 468.4,532.8 468.8,531.9 469.1,531 469.5,530 469.8,529.1 470.1,528.1 470.5,527.2 470.8,526.3 471.1,525.3 471.5,524.4 471.8,523.4 472.1,522.5 472.5,521.5 472.8,520.6 473.1,519.7 473.5,518.7 473.9,517.8 474.3,516.9 474.6,515.9 475,515 475.4,514.1 475.8,513.2 476.2,512.3 476.6,511.3 477,510.4 477.4,509.5 477.8,508.6 478.2,507.7 478.6,506.8 479,505.9 479.4,505 479.9,504 480.3,503.1 480.7,502.2 481.1,501.3 481.6,500.4 482,499.5 482.4,498.6 482.8,497.7 483.3,496.8 483.7,495.9 484.1,495 484.6,494.1 485,493.2 485.5,492.3 485.9,491.4 486.3,490.5 486.8,489.6 487.2,488.7 487.6,487.8 488.1,486.9 488.5,486 488.9,485.1 489.4,484.2 489.8,483.3 490.3,482.4 490.7,481.5 491.2,480.6 491.6,479.7 492.1,478.9 492.5,478 493,477.1 493.5,476.2 494,475.3 494.4,474.4 494.9,473.6 495.4,472.7 495.9,471.8 496.4,470.9 496.9,470.1 497.4,469.2 497.9,468.3 498.3,467.5 498.8,466.6 499.3,465.7 499.8,464.8 500.3,464 500.7,463.1 501.2,462.2 501.7,461.3 502.1,460.4 502.6,459.5 503,458.6 503.5,457.7 503.9,456.8 504.3,455.9 504.7,455 505.1,454.1 505.5,453.2 505.9,452.3 506.3,451.3 506.8,450.4 507.2,449.5 507.7,448.7 508.1,447.8 508.6,446.9 509.1,446 509.7,445.2 510.2,444.3 510.7,443.5 511.2,442.6 511.7,441.8 512.3,440.9 512.8,440.1 513.3,439.2 513.8,438.3 514.3,437.4 514.7,436.6 515.2,435.7 515.7,434.8 516.2,433.9 516.6,433 517.1,432.2 517.6,431.3 518,430.4 518.5,429.5 519,428.6 519.4,427.7 519.9,426.9 520.4,426 520.8,425.1 521.3,424.2 521.8,423.3 522.3,422.5 522.8,421.6 523.3,420.7 523.8,419.9 524.3,419 524.8,418.2 525.3,417.3 525.9,416.4 526.4,415.6 526.9,414.8 527.5,413.9 528,413.1 528.5,412.2 529.1,411.4 529.6,410.6 530.2,409.7 530.7,408.9 531.3,408.1 531.9,407.2 532.4,406.4 533,405.6 533.6,404.8 534.1,403.9 534.7,403.1 535.3,402.3 535.9,401.5 536.4,400.7 537,399.8 537.6,399 538.2,398.2 538.8,397.4 539.4,396.6 540,395.8 540.6,395 541.2,394.2 541.8,393.4 542.4,392.6 543,391.8 543.6,391.1 544.2,390.3 544.9,389.5 545.5,388.7 546.1,387.9 546.7,387.1 547.3,386.4 548,385.6 548.6,384.8 549.2,384 549.8,383.2 550.4,382.4 551.1,381.6 551.7,380.8 552.3,380.1 552.9,379.3 553.5,378.5 554.1,377.7 554.7,376.9 555.3,376.1 555.9,375.3 556.6,374.5 557.2,373.7 557.8,372.9 558.4,372.1 559,371.4 559.6,370.6 560.3,369.8 560.9,369 561.5,368.2 562.1,367.4 562.7,366.6 563.3,365.9 564,365.1 564.6,364.3 565.2,363.5 565.8,362.7 566.4,361.9 567,361.1 567.7,360.3 568.3,359.6 568.9,358.8 569.5,358 570.1,357.2 570.8,356.4 571.4,355.6 572,354.9 572.7,354.1 573.3,353.3 573.9,352.6 574.6,351.8 575.2,351 575.9,350.3 576.5,349.5 577.2,348.8 577.8,348 578.5,347.3 579.2,346.5 579.8,345.8 580.5,345 581.2,344.3 581.8,343.5 582.5,342.8 583.2,342.1 583.9,341.3 584.5,340.6 585.2,339.8 585.9,339.1 586.6,338.4 587.3,337.7 588,336.9 588.6,336.2 589.3,335.5 590,334.8 590.7,334 591.4,333.3 592.1,332.6 592.8,331.9 593.5,331.2 594.2,330.5 595,329.8 595.7,329.1 596.4,328.4 597.1,327.7 597.8,327 598.5,326.3 599.2,325.6 600,324.9 600.7,324.2 601.4,323.5 602.1,322.8 602.8,322.1 603.6,321.4 604.3,320.8 605,320.1 605.8,319.4 606.6,318.8 607.3,318.1 608.1,317.5 608.9,316.9 609.7,316.3 610.5,315.7 611.4,315.2 612.2,314.7 613.1,314.2 614,313.7 614.8,313.2 615.7,312.7 616.6,312.3 617.5,311.8 618.4,311.3 619.2,310.9 620.1,310.4 621,309.9 621.9,309.4 622.7,308.8 623.5,308.3 624.4,307.7 625.2,307.2 626,306.6 626.8,306 627.6,305.4 628.5,304.9 629.3,304.3 630.2,303.8 631,303.3 631.9,302.8 632.8,302.3 633.7,301.9 634.6,301.4 635.5,301 636.4,300.5 637.2,300.1 638.1,299.6 639,299.2 639.9,298.7 640.8,298.3 641.7,297.8 642.6,297.3 643.5,296.9 644.3,296.4 645.2,295.9 646.1,295.4 647,295 647.9,294.5 648.8,294 649.6,293.6 650.5,293.1 651.4,292.6 652.3,292.2 653.2,291.7 654.1,291.2 654.9,290.8 655.8,290.3 656.7,289.9 657.6,289.4 658.5,289 659.4,288.5 660.3,288.1 661.2,287.6 662.1,287.1 663,286.7 663.8,286.2 664.7,285.7 665.6,285.3 666.5,284.8 667.4,284.3 668.3,283.9 669.1,283.4 670,282.9 670.9,282.5 671.8,282 672.7,281.5 673.6,281.1 674.5,280.6 675.3,280.2 676.2,279.7 677.1,279.3 678,278.8 678.9,278.4 679.8,278 680.7,277.5 681.7,277.1 682.6,276.7 683.5,276.3 684.4,275.9 685.3,275.6 686.3,275.2 687.2,274.8 688.1,274.5 689.1,274.2 690,273.9 691,273.5 691.9,273.2 692.9,272.9 693.9,272.7 694.8,272.4 695.8,272.1 696.7,271.8 697.7,271.6 698.7,271.3 699.6,271.1 700.6,270.8 701.6,270.6 702.5,270.3 703.5,270.1 704.5,269.8 705.5,269.6 706.4,269.4 707.4,269.1 708.4,268.9 709.4,268.7 710.3,268.5 711.3,268.2 712.3,268 713.2,267.8 714.2,267.6 715.2,267.4 716.2,267.1 717.1,266.9 718.1,266.7 719.1,266.5 720.1,266.2 721,266 722,265.8 723,265.5 724,265.3 724.9,265 725.9,264.8 726.9,264.6 727.8,264.3 728.8,264.1 729.8,263.8 730.8,263.6 731.7,263.4 732.7,263.1 733.7,262.9 734.6,262.7 735.6,262.5 736.6,262.3 737.6,262 738.6,261.8 739.5,261.6 740.5,261.4 741.5,261.2 742.5,261.1 743.5,260.9 744.4,260.7 745.4,260.5 746.4,260.4 747.4,260.2 748.4,260.1 749.4,260 750.4,259.9 751.4,259.7 752.4,259.6 753.4,259.5 754.4,259.4 755.4,259.3 756.4,259.2 757.4,259.1 758.3,259.1 759.3,259 760.3,258.9 761.3,258.8 762.3,258.7 763.3,258.6 764.3,258.6 765.3,258.5 766.3,258.4 767.3,258.3 768.3,258.3 769.3,258.2 770.3,258.1 771.3,258 772.3,257.9 773.3,257.8 774.3,257.7 775.3,257.7 776.3,257.6 777.3,257.5 778.3,257.3 779.3,257.2 780.3,257.1 781.3,257 782.2,256.9 783.2,256.7 784.2,256.6 785.2,256.5 786.2,256.3 787.2,256.2 788.2,256.1 789.2,255.9 790.2,255.8 791.2,255.6 792.1,255.4 793.1,255.3 794.1,255.1 795.1,255 796.1,254.8 797.1,254.7 798.1,254.5 799.1,254.3 800,254.2 801,254 802,253.8 803,253.7 804,253.5 805,253.4 806,253.2 807,253.1 807.9,252.9 808.9,252.8 809.9,252.6 810.9,252.5 811.9,252.3 812.9,252.2 813.9,252 814.9,251.9 815.8,251.7 816.8,251.5 817.8,251.4 818.8,251.2 819.8,251.1 820.8,250.9 821.8,250.8 822.8,250.6 823.8,250.5 824.7,250.3 825.7,250.2 826.7,250 827.7,249.9 828.7,249.7 829.7,249.6 830.7,249.4 831.7,249.3 832.7,249.2 833.6,249 834.6,248.9 835.6,248.7 836.6,248.6 837.6,248.5 838.6,248.3 839.6,248.2 840.6,248.1 841.6,248 842.6,247.8 843.6,247.7 844.6,247.6 845.5,247.5 846.5,247.3 847.5,247.2 848.5,247.1 849.5,247 850.5,246.9 851.5,246.8 852.5,246.6 853.5,246.5 854.5,246.4 855.5,246.3 856.5,246.2 857.5,246.1 858.5,246 859.5,245.8 860.4,245.7 861.4,245.6 862.4,245.5 863.4,245.4 864.4,245.3 865.4,245.2 866.4,245 867.4,244.9 868.4,244.8 869.4,244.7 870.4,244.6 871.4,244.5 872.4,244.3 873.4,244.2 874.4,244.1 875.3,244 876.3,243.9 877.3,243.7 878.3,243.6 879.3,243.5 880.3,243.4 881.3,243.2 882.3,243.1 883.3,243 884.3,242.9 885.3,242.8 886.3,242.6 887.3,242.5 888.2,242.4 889.2,242.3 890.2,242.2 891.2,242.1 892.2,241.9 893.2,241.8 894.2,241.7 895.2,241.6 896.2,241.5 897.2,241.4 898.2,241.3 899.2,241.2 900.2,241 901.2,240.9 902.2,240.8 903.2,240.7 904.2,240.6 905.1,240.5 906.1,240.5 907.1,240.4 908.1,240.3 909.1,240.2 910.1,240.1 911.1,240 912.1,239.9 913.1,239.8 914.1,239.7 915.1,239.6 916.1,239.5 917.1,239.5 918.1,239.4 919.1,239.3 920.1,239.2 921.1,239.1 922.1,239 923.1,239 924.1,238.9 925.1,238.8 926.1,238.7 927.1,238.6 928.1,238.6 929.1,238.5 930.1,238.4 931.1,238.3 932.1,238.3 933,238.2 934,238.1 935,238 936,238 937,237.9 938,237.8 939,237.7 940,237.7 941,237.6 942,237.5 943,237.4 944,237.4 945,237.3 946,237.2 947,237.1 948,237.1 949,237 950,236.9 951,236.9 952,236.8 953,236.7 954,236.7 955,236.6 956,236.5 957,236.5 958,236.4 959,236.3 960,236.3 961,236.2 962,236.2 963,236.1 964,236 965,236 966,235.9 967,235.9 968,235.8 969,235.8 970,235.7 971,235.7 972,235.7 973,235.6 974,235.6 975,235.6 976,235.5 977,235.5 978,235.5 979,235.5 980,235.4 981,235.4 982,235.4 983,235.3 984,235.3 985,235.3 986,235.2 987,235.2 988,235.1 989,235.1 990,235 990.9,234.9 991.9,234.8 992.9,234.6 993.9,234.4 994.9,234.2 995.9,234 996.9,233.8 997.8,233.7 998.8,233.6 999.8,233.5 1000.8,233.4 1001.8,233.3 1002.8,233.2 1003.8,233.2 1004.8,233.1 1005.8,233 1006.8,233 1007.8,232.9 1008.8,232.8 1009.8,232.8 1010.8,232.7 1011.8,232.7 1012.8,232.6 1013.8,232.6 1014.8,232.5 1015.8,232.5 1016.8,232.5 1017.8,232.4 1018.8,232.4 1019.8,232.3 1020.8,232.3 1021.8,232.3 1022.8,232.2 1023.8,232.2 1024.8,232.1 1025.8,232.1 1026.8,232.1 1027.8,232 1028.8,232 1029.8,232 1030.8,231.9 1031.8,231.9 1032.8,231.9 1033.8,231.9 1034.8,231.8 1035.8,231.8 1036.8,231.8 1037.8,231.7 1038.8,231.7 1039.8,231.7 1040.8,231.7 1041.8,231.6 1042.8,231.6 1043.8,231.6 1044.8,231.6 1045.8,231.6 1046.8,231.5 1047.8,231.5 1048.8,231.5 1049.8,231.5 1050.8,231.5 1051.8,231.4 1052.8,231.4 1053.8,231.4 1054.8,231.4 1055.8,231.4 1056.8,231.3 1057.8,231.3 1058.8,231.3 1059.8,231.3 1060.8,231.2 1061.8,231.2 1062.8,231.2 1063.8,231.1 1064.8,231.1 1065.8,231.1 1066.8,231 1067.8,231 1068.8,230.9 1069.8,230.9 1070.8,230.8 1071.8,230.8 1072.8,230.7 1073.8,230.6 1074.8,230.6 1075.8,230.5 1076.8,230.4 1077.8,230.4 1078.8,230.3 1079.8,230.2 1080.7,230.1 1081.7,230.1 1082.7,230 1083.7,229.9 1084.7,229.9 1085.7,229.8 1086.7,229.7 1087.7,229.7 1088.7,229.6 1089.7,229.6 1090.7,229.5 1091.7,229.5 1092.7,229.4 1093.7,229.4 1094.7,229.4 1095.7,229.3 1096.7,229.3 1097.7,229.3 1098.7,229.3 1099.7,229.3 1100.7,229.3 1101.7,229.3 1102.7,229.3 1103.7,229.3 1104.7,229.3 1105.7,229.4 1106.7,229.4 1107.7,229.4 1108.7,229.4 1109.7,229.4 1110.7,229.5 1111.7,229.5 1112.7,229.5 1113.7,229.5 1114.7,229.6 1115.7,229.6 1116.7,229.6 1117.7,229.6 1118.7,229.7 1119.7,229.7 1120.7,229.7 1121.7,229.7 1122.7,229.8 1123.7,229.8 1124.7,229.8 1125.7,229.8 1126.7,229.9 1127.7,229.9 1128.7,229.9 1129.7,229.9 1130.7,230 1131.7,230 1132.7,230 1133.7,230 1134.7,230 1135.7,230.1 1136.7,230.1 1137.7,230.1 1138.7,230.1 1139.7,230.2 1140.7,230.2 1141.7,230.2 1142.7,230.2 1143.7,230.2 1144.7,230.3 1145.7,230.3 1146.7,230.3 1147.7,230.3 1148.7,230.4 1149.7,230.4 1150.7,230.4 1151.7,230.4 1152.7,230.4 1153.7,230.5 1154.7,230.5 1155.7,230.5 1156.7,230.5 1157.7,230.5 1158.7,230.6 1159.7,230.6 1160.7,230.6 1161.7,230.6 1162.7,230.7 1163.7,230.7 1164.7,230.7 1165.7,230.7 1166.7,230.7 1167.7,230.8 1168.7,230.8 1169.7,230.8 1170.7,230.8 1171.7,230.8 1172.7,230.8 1173.7,230.9 1174.7,230.9 1175.7,230.9 1176.7,230.9 1177.7,230.9 1178.7,230.9 1179.7,231 1180.7,231 1181.7,231 1182.7,231 1183.7,231 1184.7,231.1 1185.7,231.1 1186.7,231.1 1187.7,231.1 1188.7,231.1 1189.7,231.2 1190.7,231.2 1191.7,231.2 1192.7,231.2 1193.7,231.3 1194.7,231.3 1195.7,231.3 1196.7,231.4 1197.7,231.4 1198.7,231.4 1199.7,231.4 1200.7,231.5 1201.7,231.5 1202.7,231.6 1203.7,231.6 1204.7,231.6 1205.7,231.7 1206.7,231.7 1207.7,231.8 1208.7,231.8 1209.7,231.9 1210.7,231.9 1211.7,232 1212.7,232 1213.7,232.1 1214.7,232.1 1215.7,232.2 1216.7,232.2 1217.7,232.3 1218.7,232.3 1219.7,232.4 1220.7,232.5 1221.7,232.5 1222.7,232.6 1223.7,232.7 1224.7,232.7 1225.7,232.8 1226.7,232.9 1227.7,233 1228.7,233.1 1229.6,233.2 1230.6,233.3 1231.6,233.5 1232.6,233.6 1233.6,233.7 1234.6,233.8 1235.6,234 1236.6,234.1 1237.6,234.3 1238.6,234.4 1239.6,234.6 1240.5,234.7 1241.5,234.8 1242.5,235 1243.5,235.1 1244.5,235.3 1245.5,235.4 1246.5,235.5 1247.5,235.7 1248.5,235.8 1249.5,235.9 1250.5,236.1 1251.4,236.2 1252.4,236.3 1253.4,236.4 1254.4,236.5 1255.4,236.6 1256.4,236.8 1257.4,236.9 1258.4,237 1259.4,237.1 1260.4,237.2 1261.4,237.3 1262.4,237.4 1263.4,237.5 1264.4,237.6 1265.4,237.8 1266.4,237.9 1267.3,238 1268.3,238.1 1269.3,238.2 1270.3,238.3 1271.3,238.4 1272.3,238.5 1273.3,238.6 1274.3,238.8 1275.3,238.9 1276.3,239 1277.3,239.1 1278.3,239.3 1279.3,239.4 1280.3,239.5 1281.2,239.7 1282.2,239.8 1283.2,240 1284.2,240.1 1285.2,240.2 1286.2,240.4 1287.2,240.5 1288.2,240.7 1289.2,240.8 1290.1,241 1291.1,241.1 1292.1,241.2 1293.1,241.3 1294.1,241.5 1295.1,241.6 1296.1,241.7 1297.1,241.8 1298.1,241.9 1299.1,242.1 1300.1,242.2 1301.1,242.3 1302.1,242.4 1303,242.6 1304,242.7 1305,242.8 1306,243 1307,243.1 1308,243.3 1309,243.4 1310,243.6 1311,243.7 1311.9,243.9 1312.9,244.1 1313.9,244.2 1314.9,244.4 1315.9,244.6 1316.9,244.8 1317.9,245 1318.8,245.2 1319.8,245.4 1320.8,245.5 1321.8,245.7 1322.8,245.9 1323.7,246.1 1324.7,246.3 1325.7,246.5 1326.7,246.7 1327.7,246.9 1328.6,247.1 1329.6,247.4 1330.6,247.6 1331.6,247.8 1332.6,248 1333.5,248.2 1334.5,248.4 1335.5,248.6 1336.5,248.8 1337.4,249 1338.4,249.2 1339.4,249.4 1340.4,249.6 1341.4,249.8 1342.3,250 1343.3,250.2 1344.3,250.4 1345.3,250.6 1346.3,250.8 1347.3,250.9 1348.2,251.1 1349.2,251.3 1350.2,251.5 1351.2,251.7 1352.2,251.9 1353.1,252.1 1354.1,252.3 1355.1,252.5 1356.1,252.7 1357.1,252.9 1358,253.1 1359,253.3 1360,253.5 1361,253.8 1361.9,254 1362.9,254.2 1363.9,254.5 1364.8,254.8 1365.8,255 1366.8,255.3 1367.7,255.6 1368.7,255.9 1369.6,256.2 1370.6,256.5 1371.5,256.9 1372.4,257.3 1373.3,257.7 1374.2,258.1 1375.1,258.6 1376,259 1376.9,259.4 1377.9,259.8 1378.8,260.2 1379.7,260.6 1380.6,260.9 1381.6,261.3 1382.5,261.6 1383.5,261.9 1384.4,262.3 1385.4,262.6 1386.3,262.9 1387.3,263.2 1388.2,263.5 1389.2,263.8 1390.1,264.1 1391.1,264.4 1392,264.7 1393,265 1393.9,265.3 1394.9,265.6 1395.8,265.9 1396.8,266.3 1397.7,266.6 1398.7,266.9 1399.7,267.1 1400.6,267.4 1401.6,267.7 1402.5,268 1403.5,268.3 1404.4,268.6 1405.4,268.9 1406.4,269.1 1407.3,269.4 1408.3,269.7 1409.2,270 1410.2,270.3 1411.2,270.6 1412.1,270.9 1413.1,271.2 1414,271.5 1415,271.8 1415.9,272.1 1416.9,272.4 1417.8,272.8 1418.7,273.1 1419.7,273.5 1420.6,273.8 1421.5,274.2 1422.5,274.6 1423.4,275 1424.3,275.4 1425.2,275.9 1426.1,276.3 1427,276.8 1427.8,277.2 1428.7,277.7 1429.6,278.2 1430.5,278.7 1431.3,279.2 1432.2,279.7 1433,280.2 1433.9,280.8 1434.7,281.3 1435.6,281.9 1436.4,282.4 1437.2,283 1438,283.5 1438.9,284.1 1439.7,284.7 1440.5,285.3 1441.3,285.9 1442.1,286.4 1442.9,287 1443.7,287.6 1444.5,288.2 1445.3,288.8 1446.1,289.4 1446.9,290.1 1447.7,290.7 1448.5,291.3 1449.3,291.9 1450,292.5 1450.8,293.2 1451.6,293.8 1452.3,294.5 1453.1,295.1 1453.9,295.8 1454.6,296.4 1455.3,297.1 1456.1,297.8 1456.8,298.5 1457.6,299.1 1458.3,299.8 1459,300.5 1459.7,301.2 1460.4,301.9 1461.1,302.6 1461.8,303.3 1462.5,304.1 1463.2,304.8 1463.9,305.5 1464.6,306.3 1465.2,307 1465.9,307.8 1466.6,308.5 1467.2,309.3 1467.8,310 1468.5,310.8 1469.1,311.6 1469.7,312.4 1470.3,313.2 1471,313.9 1471.6,314.7 1472.2,315.5 1472.8,316.3 1473.3,317.2 1473.9,318 1474.5,318.8 1475.1,319.6 1475.6,320.4 1476.2,321.3 1476.8,322.1 1477.3,322.9 1477.8,323.8 1478.4,324.6 1478.9,325.5 1479.4,326.3 1480,327.2 1480.5,328 1481,328.9 1481.5,329.8 1482,330.6 1482.5,331.5 1483,332.4 1483.4,333.2 1483.9,334.1 1484.4,335 1484.8,335.9 1485.2,336.8 1485.7,337.7 1486.1,338.6 1486.5,339.5 1486.9,340.4 1487.3,341.4 1487.7,342.3 1488.1,343.2" fill="none" stroke="#ff00ff" stroke-width="9" stroke-linejoin="round" stroke-linecap="round"/>
<path d="M308.7 1057.7L324.3 1048.7L324.3 1066.7zM312.4 1026.9L328 1017.9L328 1035.9zM319.7 993.7L335.3 984.7L335.3 1002.7zM330.3 950L345.9 941L345.9 959zM345 891.9L360.6 882.9L360.6 900.9zM364.9 819.5L380.5 810.5L380.5 828.5zM386.7 739.5L402.3 730.5L402.3 748.5zM411.2 655L426.7 646L426.7 664zM443.5 572.3L459.1 563.3L459.1 581.3zM472.5 497.7L488 488.7L488 506.7zM506.7 432.2L522.3 423.2L522.3 441.2zM539.4 383.2L555 374.2L555 392.2zM570.8 344.3L586.4 335.3L586.4 353.3zM602.7 314.2L618.3 305.2L618.3 323.2zM634.8 295.9L650.4 286.9L650.4 304.9zM664.1 280.6L679.6 271.6L679.6 289.6zM693.1 270.1L708.7 261.1L708.7 279.1zM723.3 262.9L738.9 253.9L738.9 271.9zM752.9 258.6L768.5 249.6L768.5 267.6zM782.7 255.3L798.3 246.3L798.3 264.3zM813.4 250.5L829 241.5L829 259.5zM844.1 246.4L859.7 237.4L859.7 255.4zM874.9 242.8L890.5 233.8L890.5 251.8zM905.7 239.5L921.3 230.5L921.3 248.5zM937.6 237.1L953.2 228.1L953.2 246.1zM969.6 235.4L985.2 226.4L985.2 244.4zM1002.4 232.6L1018 223.6L1018 241.6zM1034.4 231.6L1050 222.6L1050 240.6zM1067.4 230.4L1083 221.4L1083 239.4zM1099.3 229.4L1114.9 220.4L1114.9 238.4zM1132.3 230.2L1147.9 221.2L1147.9 239.2zM1165.3 230.9L1180.9 221.9L1180.9 239.9zM1198.3 231.8L1213.9 222.8L1213.9 240.8zM1230.2 234.7L1245.7 225.7L1245.7 243.7zM1262.9 238.6L1278.5 229.6L1278.5 247.6zM1295.6 243L1311.2 234L1311.2 252zM1326.1 248.8L1341.7 239.8L1341.7 257.8zM1356.4 255.3L1372 246.3L1372 264.3zM1385.4 265.9L1401 256.9L1401 274.9zM1412.1 274.6L1427.6 265.6L1427.6 283.6zM1436.5 290.1L1452.1 281.1L1452.1 299.1zM1456.2 308.5L1471.7 299.5L1471.7 317.5zM1472.1 331.5L1487.7 322.5L1487.7 340.5z" fill="#ff00ff"/>
</g>
<g shape-rendering="crispEdges">
<path d="M1044.4 666H1155.9" stroke="#000000" stroke-width="8.8" stroke-linecap="round" fill="none"/>
<path d="M1093 659h14v14h-14z" fill="#000000"/>
<path d="M1044.4 735.3H1155.9" stroke="#ff0000" stroke-width="8.8" stroke-linecap="round" fill="none"/>
<path d="M1092.8 735.3a7.2 7.2 0 1 1 14.5 0a7.2 7.2 0 1 1 -14.5 0z" fill="#ff0000"/>
<path d="M1044.4 805H1155.9" stroke="#00ff00" stroke-width="8.8" stroke-linecap="round" fill="none"/>
<path d="M1100 794.6L1109 810.2L1091 810.2z" fill="#00ff00"/>
<path d="M1044.4 873.9H1155.9" stroke="#0000ff" stroke-width="8.8" stroke-linecap="round" fill="none"/>
<path d="M1100 884.3L1109 868.7L1091 868.7z" fill="#0000ff"/>
<path d="M1044.4 943.4H1155.9" stroke="#00ffff" stroke-width="8.8" stroke-linecap="round" fill="none"/>
<path d="M1100 933.9L1109.5 943.4L1100 952.9L1090.5 943.4z" fill="#00ffff"/>
<path d="M1044.4 1013.4H1155.9" stroke="#ff00ff" stroke-width="8.8" stroke-linecap="round" fill="none"/>
<path d="M1089.6 1013.4L1105.2 1004.4L1105.2 1022.4z" fill="#ff00ff"/>
</g>
<g class="lg">
<text x="1168.7" y="683.2" xml:space="preserve">Strain rate=500s<tspan class="sup" dy="-26">-1</tspan></text>
<text x="1168.7" y="752.5" xml:space="preserve">Strain rate=1000s<tspan class="sup" dy="-26">-1</tspan></text>
<text x="1168.7" y="822.2" xml:space="preserve">Strain rate=2000s<tspan class="sup" dy="-26">-1</tspan></text>
<text x="1168.7" y="891.1" xml:space="preserve">Strain rate=4000s<tspan class="sup" dy="-26">-1</tspan></text>
<text x="1168.7" y="960.6" xml:space="preserve">Strain rate=7000s<tspan class="sup" dy="-26">-1</tspan></text>
<text x="1168.7" y="1030.6" xml:space="preserve">Strain rate=10000s<tspan class="sup" dy="-26">-1</tspan></text>
</g>
</svg></body></html>
